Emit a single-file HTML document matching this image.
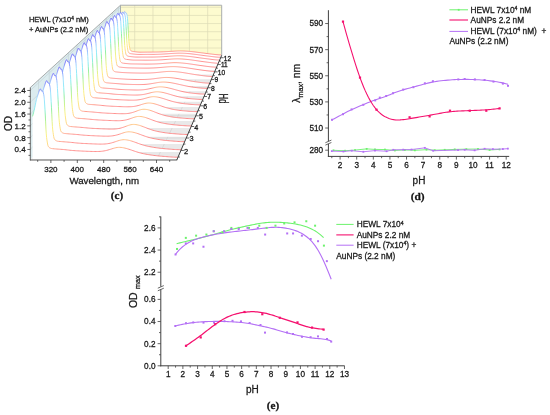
<!DOCTYPE html>
<html lang="en">
<head>
<meta charset="utf-8">
<title>Figure panels c, d, e</title>
<style>
html,body{margin:0;padding:0;background:#ffffff;}
body{width:550px;height:415px;overflow:hidden;}
svg{display:block;}
text{white-space:pre;stroke:#1a1a1a;stroke-width:0.28px;}
</style>
</head>
<body>
<svg width="550" height="415" viewBox="0 0 550 415">
<rect x="0" y="0" width="550" height="415" fill="#ffffff"/>
<g id="panel-c">
<polygon points="30.3 160 30.3 87.52 120.49 5.23 120.49 55.3" fill="#dcecef"/>
<polygon points="120.49 55.3 120.49 5.23 221.7 5.23 221.7 55.3" fill="#fdfbcf"/>
<polygon points="30.3 160 176.8 160 221.7 55.3 120.49 55.3" fill="#e9e9e9"/>
<line x1="134.72" y1="55.3" x2="134.72" y2="5.23" stroke="#dddbb6" stroke-width="0.7" />
<line x1="50.89" y1="160" x2="134.72" y2="55.3" stroke="#d2d2d2" stroke-width="0.7" />
<line x1="152.96" y1="55.3" x2="152.96" y2="5.23" stroke="#dddbb6" stroke-width="0.7" />
<line x1="77.3" y1="160" x2="152.96" y2="55.3" stroke="#d2d2d2" stroke-width="0.7" />
<line x1="171.2" y1="55.3" x2="171.2" y2="5.23" stroke="#dddbb6" stroke-width="0.7" />
<line x1="103.7" y1="160" x2="171.2" y2="55.3" stroke="#d2d2d2" stroke-width="0.7" />
<line x1="189.44" y1="55.3" x2="189.44" y2="5.23" stroke="#dddbb6" stroke-width="0.7" />
<line x1="130.1" y1="160" x2="189.44" y2="55.3" stroke="#d2d2d2" stroke-width="0.7" />
<line x1="207.68" y1="55.3" x2="207.68" y2="5.23" stroke="#dddbb6" stroke-width="0.7" />
<line x1="156.5" y1="160" x2="207.68" y2="55.3" stroke="#d2d2d2" stroke-width="0.7" />
<line x1="120.49" y1="48.03" x2="221.7" y2="48.03" stroke="#dddbb6" stroke-width="0.7" />
<line x1="30.3" y1="149.47" x2="120.49" y2="48.03" stroke="#c3d0d3" stroke-width="0.6" />
<line x1="120.49" y1="39.88" x2="221.7" y2="39.88" stroke="#dddbb6" stroke-width="0.7" />
<line x1="30.3" y1="137.67" x2="120.49" y2="39.88" stroke="#c3d0d3" stroke-width="0.6" />
<line x1="120.49" y1="31.73" x2="221.7" y2="31.73" stroke="#dddbb6" stroke-width="0.7" />
<line x1="30.3" y1="125.87" x2="120.49" y2="31.73" stroke="#c3d0d3" stroke-width="0.6" />
<line x1="120.49" y1="23.57" x2="221.7" y2="23.57" stroke="#dddbb6" stroke-width="0.7" />
<line x1="30.3" y1="114.07" x2="120.49" y2="23.57" stroke="#c3d0d3" stroke-width="0.6" />
<line x1="120.49" y1="15.42" x2="221.7" y2="15.42" stroke="#dddbb6" stroke-width="0.7" />
<line x1="30.3" y1="102.27" x2="120.49" y2="15.42" stroke="#c3d0d3" stroke-width="0.6" />
<line x1="120.49" y1="7.27" x2="221.7" y2="7.27" stroke="#dddbb6" stroke-width="0.7" />
<line x1="30.3" y1="90.47" x2="120.49" y2="7.27" stroke="#c3d0d3" stroke-width="0.6" />
<line x1="38.54" y1="150.44" x2="38.54" y2="80" stroke="#c3d0d3" stroke-width="0.6" />
<line x1="38.54" y1="150.44" x2="180.9" y2="150.44" stroke="#d2d2d2" stroke-width="0.7" />
<line x1="49.24" y1="138.02" x2="49.24" y2="70.24" stroke="#c3d0d3" stroke-width="0.6" />
<line x1="49.24" y1="138.02" x2="186.23" y2="138.02" stroke="#d2d2d2" stroke-width="0.7" />
<line x1="59.16" y1="126.51" x2="59.16" y2="61.19" stroke="#c3d0d3" stroke-width="0.6" />
<line x1="59.16" y1="126.51" x2="191.16" y2="126.51" stroke="#d2d2d2" stroke-width="0.7" />
<line x1="68.38" y1="115.8" x2="68.38" y2="52.78" stroke="#c3d0d3" stroke-width="0.6" />
<line x1="68.38" y1="115.8" x2="195.75" y2="115.8" stroke="#d2d2d2" stroke-width="0.7" />
<line x1="76.98" y1="105.82" x2="76.98" y2="44.93" stroke="#c3d0d3" stroke-width="0.6" />
<line x1="76.98" y1="105.82" x2="200.03" y2="105.82" stroke="#d2d2d2" stroke-width="0.7" />
<line x1="85.01" y1="96.49" x2="85.01" y2="37.6" stroke="#c3d0d3" stroke-width="0.6" />
<line x1="85.01" y1="96.49" x2="204.03" y2="96.49" stroke="#d2d2d2" stroke-width="0.7" />
<line x1="92.54" y1="87.76" x2="92.54" y2="30.74" stroke="#c3d0d3" stroke-width="0.6" />
<line x1="92.54" y1="87.76" x2="207.78" y2="87.76" stroke="#d2d2d2" stroke-width="0.7" />
<line x1="99.6" y1="79.56" x2="99.6" y2="24.3" stroke="#c3d0d3" stroke-width="0.6" />
<line x1="99.6" y1="79.56" x2="211.29" y2="79.56" stroke="#d2d2d2" stroke-width="0.7" />
<line x1="106.24" y1="71.85" x2="106.24" y2="18.24" stroke="#c3d0d3" stroke-width="0.6" />
<line x1="106.24" y1="71.85" x2="214.6" y2="71.85" stroke="#d2d2d2" stroke-width="0.7" />
<line x1="112.49" y1="64.59" x2="112.49" y2="12.54" stroke="#c3d0d3" stroke-width="0.6" />
<line x1="112.49" y1="64.59" x2="217.71" y2="64.59" stroke="#d2d2d2" stroke-width="0.7" />
<line x1="118.39" y1="57.74" x2="118.39" y2="7.15" stroke="#c3d0d3" stroke-width="0.6" />
<line x1="118.39" y1="57.74" x2="220.65" y2="57.74" stroke="#d2d2d2" stroke-width="0.7" />
<polyline points="30.3 87.52 120.49 5.23 221.7 5.23 221.7 55.3" fill="none" stroke="#a9adad" stroke-width="1"/>
<line x1="120.49" y1="5.23" x2="120.49" y2="55.3" stroke="#9fa5a5" stroke-width="0.9" />
<defs>
<linearGradient id="g0" gradientUnits="userSpaceOnUse" x1="0" y1="158.68" x2="0" y2="82.57">
<stop offset="0" stop-color="#ff7878"/>
<stop offset="0.12" stop-color="#ff807d"/>
<stop offset="0.15" stop-color="#ffb476"/>
<stop offset="0.18" stop-color="#ffd270"/>
<stop offset="0.31" stop-color="#fcee70"/>
<stop offset="0.44" stop-color="#c2f178"/>
<stop offset="0.56" stop-color="#7eec90"/>
<stop offset="0.67" stop-color="#76eaf4"/>
<stop offset="0.79" stop-color="#92dcff"/>
<stop offset="0.86" stop-color="#86abff"/>
<stop offset="0.92" stop-color="#6b70ff"/>
<stop offset="1" stop-color="#5d52f3"/>
</linearGradient>
<linearGradient id="g1" gradientUnits="userSpaceOnUse" x1="0" y1="151.15" x2="0" y2="76.74">
<stop offset="0" stop-color="#ff7878"/>
<stop offset="0.12" stop-color="#ff807d"/>
<stop offset="0.15" stop-color="#ffb476"/>
<stop offset="0.18" stop-color="#ffd270"/>
<stop offset="0.31" stop-color="#fcee70"/>
<stop offset="0.44" stop-color="#c2f178"/>
<stop offset="0.56" stop-color="#7eec90"/>
<stop offset="0.67" stop-color="#76eaf4"/>
<stop offset="0.79" stop-color="#92dcff"/>
<stop offset="0.86" stop-color="#86abff"/>
<stop offset="0.92" stop-color="#6b70ff"/>
<stop offset="1" stop-color="#5d52f3"/>
</linearGradient>
<linearGradient id="g2" gradientUnits="userSpaceOnUse" x1="0" y1="143.09" x2="0" y2="70.49">
<stop offset="0" stop-color="#ff7878"/>
<stop offset="0.12" stop-color="#ff807d"/>
<stop offset="0.15" stop-color="#ffb476"/>
<stop offset="0.18" stop-color="#ffd270"/>
<stop offset="0.31" stop-color="#fcee70"/>
<stop offset="0.44" stop-color="#c2f178"/>
<stop offset="0.56" stop-color="#7eec90"/>
<stop offset="0.67" stop-color="#76eaf4"/>
<stop offset="0.79" stop-color="#92dcff"/>
<stop offset="0.86" stop-color="#86abff"/>
<stop offset="0.92" stop-color="#6b70ff"/>
<stop offset="1" stop-color="#5d52f3"/>
</linearGradient>
<linearGradient id="g3" gradientUnits="userSpaceOnUse" x1="0" y1="135.88" x2="0" y2="64.91">
<stop offset="0" stop-color="#ff7878"/>
<stop offset="0.12" stop-color="#ff807d"/>
<stop offset="0.15" stop-color="#ffb476"/>
<stop offset="0.18" stop-color="#ffd270"/>
<stop offset="0.31" stop-color="#fcee70"/>
<stop offset="0.44" stop-color="#c2f178"/>
<stop offset="0.56" stop-color="#7eec90"/>
<stop offset="0.67" stop-color="#76eaf4"/>
<stop offset="0.79" stop-color="#92dcff"/>
<stop offset="0.86" stop-color="#86abff"/>
<stop offset="0.92" stop-color="#6b70ff"/>
<stop offset="1" stop-color="#5d52f3"/>
</linearGradient>
<linearGradient id="g4" gradientUnits="userSpaceOnUse" x1="0" y1="127.31" x2="0" y2="58.28">
<stop offset="0" stop-color="#ff7878"/>
<stop offset="0.12" stop-color="#ff807d"/>
<stop offset="0.15" stop-color="#ffb476"/>
<stop offset="0.18" stop-color="#ffd270"/>
<stop offset="0.31" stop-color="#fcee70"/>
<stop offset="0.44" stop-color="#c2f178"/>
<stop offset="0.56" stop-color="#7eec90"/>
<stop offset="0.67" stop-color="#76eaf4"/>
<stop offset="0.79" stop-color="#92dcff"/>
<stop offset="0.86" stop-color="#86abff"/>
<stop offset="0.92" stop-color="#6b70ff"/>
<stop offset="1" stop-color="#5d52f3"/>
</linearGradient>
<linearGradient id="g5" gradientUnits="userSpaceOnUse" x1="0" y1="120.15" x2="0" y2="52.73">
<stop offset="0" stop-color="#ff7878"/>
<stop offset="0.12" stop-color="#ff807d"/>
<stop offset="0.15" stop-color="#ffb476"/>
<stop offset="0.18" stop-color="#ffd270"/>
<stop offset="0.31" stop-color="#fcee70"/>
<stop offset="0.44" stop-color="#c2f178"/>
<stop offset="0.56" stop-color="#7eec90"/>
<stop offset="0.67" stop-color="#76eaf4"/>
<stop offset="0.79" stop-color="#92dcff"/>
<stop offset="0.86" stop-color="#86abff"/>
<stop offset="0.92" stop-color="#6b70ff"/>
<stop offset="1" stop-color="#5d52f3"/>
</linearGradient>
<linearGradient id="g6" gradientUnits="userSpaceOnUse" x1="0" y1="113.01" x2="0" y2="47.2">
<stop offset="0" stop-color="#ff7878"/>
<stop offset="0.12" stop-color="#ff807d"/>
<stop offset="0.15" stop-color="#ffb476"/>
<stop offset="0.18" stop-color="#ffd270"/>
<stop offset="0.31" stop-color="#fcee70"/>
<stop offset="0.44" stop-color="#c2f178"/>
<stop offset="0.56" stop-color="#7eec90"/>
<stop offset="0.67" stop-color="#76eaf4"/>
<stop offset="0.79" stop-color="#92dcff"/>
<stop offset="0.86" stop-color="#86abff"/>
<stop offset="0.92" stop-color="#6b70ff"/>
<stop offset="1" stop-color="#5d52f3"/>
</linearGradient>
<linearGradient id="g7" gradientUnits="userSpaceOnUse" x1="0" y1="106.21" x2="0" y2="41.93">
<stop offset="0" stop-color="#ff7878"/>
<stop offset="0.12" stop-color="#ff807d"/>
<stop offset="0.15" stop-color="#ffb476"/>
<stop offset="0.18" stop-color="#ffd270"/>
<stop offset="0.31" stop-color="#fcee70"/>
<stop offset="0.44" stop-color="#c2f178"/>
<stop offset="0.56" stop-color="#7eec90"/>
<stop offset="0.67" stop-color="#76eaf4"/>
<stop offset="0.79" stop-color="#92dcff"/>
<stop offset="0.86" stop-color="#86abff"/>
<stop offset="0.92" stop-color="#6b70ff"/>
<stop offset="1" stop-color="#5d52f3"/>
</linearGradient>
<linearGradient id="g8" gradientUnits="userSpaceOnUse" x1="0" y1="101.01" x2="0" y2="37.91">
<stop offset="0" stop-color="#ff7878"/>
<stop offset="0.12" stop-color="#ff807d"/>
<stop offset="0.15" stop-color="#ffb476"/>
<stop offset="0.18" stop-color="#ffd270"/>
<stop offset="0.31" stop-color="#fcee70"/>
<stop offset="0.44" stop-color="#c2f178"/>
<stop offset="0.56" stop-color="#7eec90"/>
<stop offset="0.67" stop-color="#76eaf4"/>
<stop offset="0.79" stop-color="#92dcff"/>
<stop offset="0.86" stop-color="#86abff"/>
<stop offset="0.92" stop-color="#6b70ff"/>
<stop offset="1" stop-color="#5d52f3"/>
</linearGradient>
<linearGradient id="g9" gradientUnits="userSpaceOnUse" x1="0" y1="95.9" x2="0" y2="33.95">
<stop offset="0" stop-color="#ff7878"/>
<stop offset="0.12" stop-color="#ff807d"/>
<stop offset="0.15" stop-color="#ffb476"/>
<stop offset="0.18" stop-color="#ffd270"/>
<stop offset="0.31" stop-color="#fcee70"/>
<stop offset="0.44" stop-color="#c2f178"/>
<stop offset="0.56" stop-color="#7eec90"/>
<stop offset="0.67" stop-color="#76eaf4"/>
<stop offset="0.79" stop-color="#92dcff"/>
<stop offset="0.86" stop-color="#86abff"/>
<stop offset="0.92" stop-color="#6b70ff"/>
<stop offset="1" stop-color="#5d52f3"/>
</linearGradient>
<linearGradient id="g10" gradientUnits="userSpaceOnUse" x1="0" y1="90.46" x2="0" y2="29.74">
<stop offset="0" stop-color="#ff7878"/>
<stop offset="0.12" stop-color="#ff807d"/>
<stop offset="0.15" stop-color="#ffb476"/>
<stop offset="0.18" stop-color="#ffd270"/>
<stop offset="0.31" stop-color="#fcee70"/>
<stop offset="0.44" stop-color="#c2f178"/>
<stop offset="0.56" stop-color="#7eec90"/>
<stop offset="0.67" stop-color="#76eaf4"/>
<stop offset="0.79" stop-color="#92dcff"/>
<stop offset="0.86" stop-color="#86abff"/>
<stop offset="0.92" stop-color="#6b70ff"/>
<stop offset="1" stop-color="#5d52f3"/>
</linearGradient>
<linearGradient id="g11" gradientUnits="userSpaceOnUse" x1="0" y1="85.4" x2="0" y2="25.82">
<stop offset="0" stop-color="#ff7878"/>
<stop offset="0.12" stop-color="#ff807d"/>
<stop offset="0.15" stop-color="#ffb476"/>
<stop offset="0.18" stop-color="#ffd270"/>
<stop offset="0.31" stop-color="#fcee70"/>
<stop offset="0.44" stop-color="#c2f178"/>
<stop offset="0.56" stop-color="#7eec90"/>
<stop offset="0.67" stop-color="#76eaf4"/>
<stop offset="0.79" stop-color="#92dcff"/>
<stop offset="0.86" stop-color="#86abff"/>
<stop offset="0.92" stop-color="#6b70ff"/>
<stop offset="1" stop-color="#5d52f3"/>
</linearGradient>
<linearGradient id="g12" gradientUnits="userSpaceOnUse" x1="0" y1="78.94" x2="0" y2="20.82">
<stop offset="0" stop-color="#ff7878"/>
<stop offset="0.12" stop-color="#ff807d"/>
<stop offset="0.15" stop-color="#ffb476"/>
<stop offset="0.18" stop-color="#ffd270"/>
<stop offset="0.31" stop-color="#fcee70"/>
<stop offset="0.44" stop-color="#c2f178"/>
<stop offset="0.56" stop-color="#7eec90"/>
<stop offset="0.67" stop-color="#76eaf4"/>
<stop offset="0.79" stop-color="#92dcff"/>
<stop offset="0.86" stop-color="#86abff"/>
<stop offset="0.92" stop-color="#6b70ff"/>
<stop offset="1" stop-color="#5d52f3"/>
</linearGradient>
<linearGradient id="g13" gradientUnits="userSpaceOnUse" x1="0" y1="73.92" x2="0" y2="16.93">
<stop offset="0" stop-color="#ff7878"/>
<stop offset="0.12" stop-color="#ff807d"/>
<stop offset="0.15" stop-color="#ffb476"/>
<stop offset="0.18" stop-color="#ffd270"/>
<stop offset="0.31" stop-color="#fcee70"/>
<stop offset="0.44" stop-color="#c2f178"/>
<stop offset="0.56" stop-color="#7eec90"/>
<stop offset="0.67" stop-color="#76eaf4"/>
<stop offset="0.79" stop-color="#92dcff"/>
<stop offset="0.86" stop-color="#86abff"/>
<stop offset="0.92" stop-color="#6b70ff"/>
<stop offset="1" stop-color="#5d52f3"/>
</linearGradient>
<linearGradient id="g14" gradientUnits="userSpaceOnUse" x1="0" y1="69.83" x2="0" y2="13.76">
<stop offset="0" stop-color="#ff7878"/>
<stop offset="0.12" stop-color="#ff807d"/>
<stop offset="0.15" stop-color="#ffb476"/>
<stop offset="0.18" stop-color="#ffd270"/>
<stop offset="0.31" stop-color="#fcee70"/>
<stop offset="0.44" stop-color="#c2f178"/>
<stop offset="0.56" stop-color="#7eec90"/>
<stop offset="0.67" stop-color="#76eaf4"/>
<stop offset="0.79" stop-color="#92dcff"/>
<stop offset="0.86" stop-color="#86abff"/>
<stop offset="0.92" stop-color="#6b70ff"/>
<stop offset="1" stop-color="#5d52f3"/>
</linearGradient>
<linearGradient id="g15" gradientUnits="userSpaceOnUse" x1="0" y1="65.86" x2="0" y2="10.69">
<stop offset="0" stop-color="#ff7878"/>
<stop offset="0.12" stop-color="#ff807d"/>
<stop offset="0.15" stop-color="#ffb476"/>
<stop offset="0.18" stop-color="#ffd270"/>
<stop offset="0.31" stop-color="#fcee70"/>
<stop offset="0.44" stop-color="#c2f178"/>
<stop offset="0.56" stop-color="#7eec90"/>
<stop offset="0.67" stop-color="#76eaf4"/>
<stop offset="0.79" stop-color="#92dcff"/>
<stop offset="0.86" stop-color="#86abff"/>
<stop offset="0.92" stop-color="#6b70ff"/>
<stop offset="1" stop-color="#5d52f3"/>
</linearGradient>
<linearGradient id="g16" gradientUnits="userSpaceOnUse" x1="0" y1="62.71" x2="0" y2="8.25">
<stop offset="0" stop-color="#ff7878"/>
<stop offset="0.12" stop-color="#ff807d"/>
<stop offset="0.15" stop-color="#ffb476"/>
<stop offset="0.18" stop-color="#ffd270"/>
<stop offset="0.31" stop-color="#fcee70"/>
<stop offset="0.44" stop-color="#c2f178"/>
<stop offset="0.56" stop-color="#7eec90"/>
<stop offset="0.67" stop-color="#76eaf4"/>
<stop offset="0.79" stop-color="#92dcff"/>
<stop offset="0.86" stop-color="#86abff"/>
<stop offset="0.92" stop-color="#6b70ff"/>
<stop offset="1" stop-color="#5d52f3"/>
</linearGradient>
<linearGradient id="g17" gradientUnits="userSpaceOnUse" x1="0" y1="59.97" x2="0" y2="6.13">
<stop offset="0" stop-color="#ff7878"/>
<stop offset="0.12" stop-color="#ff807d"/>
<stop offset="0.15" stop-color="#ffb476"/>
<stop offset="0.18" stop-color="#ffd270"/>
<stop offset="0.31" stop-color="#fcee70"/>
<stop offset="0.44" stop-color="#c2f178"/>
<stop offset="0.56" stop-color="#7eec90"/>
<stop offset="0.67" stop-color="#76eaf4"/>
<stop offset="0.79" stop-color="#92dcff"/>
<stop offset="0.86" stop-color="#86abff"/>
<stop offset="0.92" stop-color="#6b70ff"/>
<stop offset="1" stop-color="#5d52f3"/>
</linearGradient>
<linearGradient id="g18" gradientUnits="userSpaceOnUse" x1="0" y1="57.63" x2="0" y2="4.32">
<stop offset="0" stop-color="#ff7878"/>
<stop offset="0.12" stop-color="#ff807d"/>
<stop offset="0.15" stop-color="#ffb476"/>
<stop offset="0.18" stop-color="#ffd270"/>
<stop offset="0.31" stop-color="#fcee70"/>
<stop offset="0.44" stop-color="#c2f178"/>
<stop offset="0.56" stop-color="#7eec90"/>
<stop offset="0.67" stop-color="#76eaf4"/>
<stop offset="0.79" stop-color="#92dcff"/>
<stop offset="0.86" stop-color="#86abff"/>
<stop offset="0.92" stop-color="#6b70ff"/>
<stop offset="1" stop-color="#5d52f3"/>
</linearGradient>
</defs>
<path d="M119.25 29.27 L119.48 28.61 L119.71 27.86 L119.94 27.05 L120.17 26.19 L120.4 25.31 L120.63 24.41 L120.86 23.45 L121.09 22.4 L121.31 21.32 L121.54 20.25 L121.77 19.25 L122 18.37 L122.23 17.6 L122.46 16.88 L122.69 16.22 L122.92 15.58 L123.15 14.96 L123.38 14.34 L123.61 13.69 L123.84 13.05 L124.07 12.5 L124.3 12.08 L124.53 11.7 L124.76 11.5 L124.99 11.72 L125.21 12.31 L125.44 12.79 L125.67 13.1 L125.9 13.25 L126.13 13.17 L126.36 13.12 L126.59 13.54 L126.82 14.35 L127.05 15.24 L127.28 16.46 L127.51 18.48 L127.74 21.77 L127.97 25.25 L128.2 29.1 L128.43 33.65 L128.66 38.45 L128.88 41.61 L129.11 43.95 L129.34 45.67 L129.57 47.05 L129.8 48.35 L130.03 49.33 L130.26 49.85 L130.49 50.24 L130.72 50.52 L130.95 50.7 L131.18 50.85 L131.41 50.98 L131.64 51.08 L131.87 51.17 L132.1 51.26 L132.33 51.34 L132.56 51.41 L132.78 51.45 L133.01 51.48 L133.24 51.51 L133.47 51.54 L133.56 51.55 L134.48 51.67 L135.4 51.79 L136.32 51.9 L137.23 52 L138.15 52.08 L139.07 52.14 L139.99 52.18 L140.9 52.18 L141.82 52.17 L142.74 52.17 L143.66 52.16 L144.58 52.15 L145.49 52.14 L146.41 52.13 L147.33 52.12 L148.25 52.11 L149.16 52.1 L150.08 52.1 L151 52.09 L151.92 52.09 L152.83 52.08 L153.75 52.07 L154.67 52.07 L155.59 52.06 L156.5 52.04 L157.42 52.03 L158.34 52.01 L159.26 51.98 L160.17 51.95 L161.09 51.92 L162.01 51.88 L162.93 51.84 L163.84 51.79 L164.76 51.74 L165.68 51.69 L166.6 51.63 L167.51 51.58 L168.43 51.52 L169.35 51.45 L170.27 51.39 L171.18 51.32 L172.1 51.26 L173.02 51.2 L173.94 51.14 L174.85 51.08 L175.77 51.03 L176.69 50.99 L177.61 50.95 L178.53 50.92 L179.44 50.9 L180.36 50.89 L181.28 50.9 L182.2 50.91 L183.11 50.94 L184.03 50.98 L184.95 51.03 L185.87 51.08 L186.78 51.14 L187.7 51.21 L188.62 51.29 L189.54 51.37 L190.45 51.46 L191.37 51.56 L192.29 51.66 L193.21 51.76 L194.12 51.87 L195.04 51.98 L195.96 52.1 L196.88 52.21 L197.79 52.33 L198.71 52.46 L199.63 52.58 L200.55 52.7 L201.46 52.82 L202.38 52.94 L203.3 53.06 L204.22 53.18 L205.13 53.3 L206.05 53.42 L206.97 53.53 L207.89 53.64 L208.8 53.75 L209.72 53.85 L210.64 53.96 L211.56 54.08 L212.47 54.19 L213.39 54.31 L214.31 54.42 L215.23 54.53 L216.15 54.62 L217.06 54.72 L217.98 54.79 L218.9 54.86 L219.82 54.91 L221.08 54.95 L221.08 58.22 L119.25 58.22 Z" fill="#ffffff" stroke="none"/>
<path d="M119.25 29.27 L119.48 28.61 L119.71 27.86 L119.94 27.05 L120.17 26.19 L120.4 25.31 L120.63 24.41 L120.86 23.45 L121.09 22.4 L121.31 21.32 L121.54 20.25 L121.77 19.25 L122 18.37 L122.23 17.6 L122.46 16.88 L122.69 16.22 L122.92 15.58 L123.15 14.96 L123.38 14.34 L123.61 13.69 L123.84 13.05 L124.07 12.5 L124.3 12.08 L124.53 11.7 L124.76 11.5 L124.99 11.72 L125.21 12.31 L125.44 12.79 L125.67 13.1 L125.9 13.25 L126.13 13.17 L126.36 13.12 L126.59 13.54 L126.82 14.35 L127.05 15.24 L127.28 16.46 L127.51 18.48 L127.74 21.77 L127.97 25.25 L128.2 29.1 L128.43 33.65 L128.66 38.45 L128.88 41.61 L129.11 43.95 L129.34 45.67 L129.57 47.05 L129.8 48.35 L130.03 49.33 L130.26 49.85 L130.49 50.24 L130.72 50.52 L130.95 50.7 L131.18 50.85 L131.41 50.98 L131.64 51.08 L131.87 51.17 L132.1 51.26 L132.33 51.34 L132.56 51.41 L132.78 51.45 L133.01 51.48 L133.24 51.51 L133.47 51.54 L133.56 51.55 L134.48 51.67 L135.4 51.79 L136.32 51.9 L137.23 52 L138.15 52.08 L139.07 52.14 L139.99 52.18 L140.9 52.18 L141.82 52.17 L142.74 52.17 L143.66 52.16 L144.58 52.15 L145.49 52.14 L146.41 52.13 L147.33 52.12 L148.25 52.11 L149.16 52.1 L150.08 52.1 L151 52.09 L151.92 52.09 L152.83 52.08 L153.75 52.07 L154.67 52.07 L155.59 52.06 L156.5 52.04 L157.42 52.03 L158.34 52.01 L159.26 51.98 L160.17 51.95 L161.09 51.92 L162.01 51.88 L162.93 51.84 L163.84 51.79 L164.76 51.74 L165.68 51.69 L166.6 51.63 L167.51 51.58 L168.43 51.52 L169.35 51.45 L170.27 51.39 L171.18 51.32 L172.1 51.26 L173.02 51.2 L173.94 51.14 L174.85 51.08 L175.77 51.03 L176.69 50.99 L177.61 50.95 L178.53 50.92 L179.44 50.9 L180.36 50.89 L181.28 50.9 L182.2 50.91 L183.11 50.94 L184.03 50.98 L184.95 51.03 L185.87 51.08 L186.78 51.14 L187.7 51.21 L188.62 51.29 L189.54 51.37 L190.45 51.46 L191.37 51.56 L192.29 51.66 L193.21 51.76 L194.12 51.87 L195.04 51.98 L195.96 52.1 L196.88 52.21 L197.79 52.33 L198.71 52.46 L199.63 52.58 L200.55 52.7 L201.46 52.82 L202.38 52.94 L203.3 53.06 L204.22 53.18 L205.13 53.3 L206.05 53.42 L206.97 53.53 L207.89 53.64 L208.8 53.75 L209.72 53.85 L210.64 53.96 L211.56 54.08 L212.47 54.19 L213.39 54.31 L214.31 54.42 L215.23 54.53 L216.15 54.62 L217.06 54.72 L217.98 54.79 L218.9 54.86 L219.82 54.91 L221.08 54.95" fill="none" stroke="url(#g18)" stroke-width="0.85" stroke-linejoin="round"/>
<path d="M117.24 30.56 L117.47 29.86 L117.7 29.08 L117.93 28.23 L118.17 27.33 L118.4 26.4 L118.63 25.46 L118.86 24.45 L119.09 23.35 L119.32 22.22 L119.56 21.1 L119.79 20.05 L120.02 19.12 L120.25 18.31 L120.48 17.57 L120.71 16.87 L120.95 16.2 L121.18 15.55 L121.41 14.9 L121.64 14.22 L121.87 13.54 L122.1 12.96 L122.34 12.52 L122.57 12.12 L122.8 11.91 L123.03 12.14 L123.26 12.76 L123.49 13.26 L123.73 13.59 L123.96 13.74 L124.19 13.66 L124.42 13.61 L124.65 14.05 L124.88 14.89 L125.12 15.82 L125.35 17.1 L125.58 19.22 L125.81 22.65 L126.04 26.3 L126.27 30.33 L126.51 35.09 L126.74 40.11 L126.97 43.42 L127.2 45.87 L127.43 47.67 L127.66 49.12 L127.9 50.47 L128.13 51.5 L128.36 52.04 L128.59 52.45 L128.82 52.74 L129.05 52.93 L129.29 53.09 L129.52 53.22 L129.75 53.32 L129.98 53.42 L130.21 53.51 L130.44 53.59 L130.68 53.66 L130.91 53.71 L131.14 53.74 L131.37 53.76 L131.6 53.79 L131.7 53.8 L132.62 53.92 L133.55 54.04 L134.48 54.15 L135.4 54.26 L136.33 54.34 L137.26 54.4 L138.18 54.43 L139.11 54.44 L140.04 54.43 L140.96 54.43 L141.89 54.43 L142.82 54.42 L143.74 54.41 L144.67 54.41 L145.6 54.4 L146.52 54.4 L147.45 54.39 L148.38 54.39 L149.3 54.38 L150.23 54.38 L151.16 54.38 L152.08 54.37 L153.01 54.37 L153.94 54.36 L154.86 54.35 L155.79 54.34 L156.72 54.32 L157.64 54.3 L158.57 54.27 L159.5 54.24 L160.42 54.2 L161.35 54.16 L162.28 54.11 L163.2 54.06 L164.13 54.01 L165.06 53.96 L165.98 53.9 L166.91 53.83 L167.84 53.77 L168.76 53.7 L169.69 53.63 L170.62 53.56 L171.54 53.49 L172.47 53.43 L173.4 53.36 L174.32 53.31 L175.25 53.25 L176.18 53.21 L177.1 53.17 L178.03 53.14 L178.96 53.12 L179.88 53.12 L180.81 53.13 L181.74 53.15 L182.66 53.18 L183.59 53.23 L184.52 53.28 L185.44 53.34 L186.37 53.41 L187.3 53.48 L188.22 53.57 L189.15 53.65 L190.08 53.75 L191 53.85 L191.93 53.96 L192.86 54.07 L193.78 54.18 L194.71 54.3 L195.64 54.42 L196.56 54.55 L197.49 54.67 L198.42 54.8 L199.34 54.93 L200.27 55.05 L201.2 55.18 L202.12 55.31 L203.05 55.43 L203.98 55.56 L204.9 55.68 L205.83 55.79 L206.76 55.91 L207.68 56.02 L208.61 56.13 L209.54 56.25 L210.46 56.37 L211.39 56.49 L212.32 56.61 L213.24 56.72 L214.17 56.83 L215.1 56.94 L216.02 57.03 L216.95 57.11 L217.88 57.18 L218.8 57.23 L220.08 57.28 L220.08 60.57 L117.24 60.57 Z" fill="#ffffff" stroke="none"/>
<path d="M117.24 30.56 L117.47 29.86 L117.7 29.08 L117.93 28.23 L118.17 27.33 L118.4 26.4 L118.63 25.46 L118.86 24.45 L119.09 23.35 L119.32 22.22 L119.56 21.1 L119.79 20.05 L120.02 19.12 L120.25 18.31 L120.48 17.57 L120.71 16.87 L120.95 16.2 L121.18 15.55 L121.41 14.9 L121.64 14.22 L121.87 13.54 L122.1 12.96 L122.34 12.52 L122.57 12.12 L122.8 11.91 L123.03 12.14 L123.26 12.76 L123.49 13.26 L123.73 13.59 L123.96 13.74 L124.19 13.66 L124.42 13.61 L124.65 14.05 L124.88 14.89 L125.12 15.82 L125.35 17.1 L125.58 19.22 L125.81 22.65 L126.04 26.3 L126.27 30.33 L126.51 35.09 L126.74 40.11 L126.97 43.42 L127.2 45.87 L127.43 47.67 L127.66 49.12 L127.9 50.47 L128.13 51.5 L128.36 52.04 L128.59 52.45 L128.82 52.74 L129.05 52.93 L129.29 53.09 L129.52 53.22 L129.75 53.32 L129.98 53.42 L130.21 53.51 L130.44 53.59 L130.68 53.66 L130.91 53.71 L131.14 53.74 L131.37 53.76 L131.6 53.79 L131.7 53.8 L132.62 53.92 L133.55 54.04 L134.48 54.15 L135.4 54.26 L136.33 54.34 L137.26 54.4 L138.18 54.43 L139.11 54.44 L140.04 54.43 L140.96 54.43 L141.89 54.43 L142.82 54.42 L143.74 54.41 L144.67 54.41 L145.6 54.4 L146.52 54.4 L147.45 54.39 L148.38 54.39 L149.3 54.38 L150.23 54.38 L151.16 54.38 L152.08 54.37 L153.01 54.37 L153.94 54.36 L154.86 54.35 L155.79 54.34 L156.72 54.32 L157.64 54.3 L158.57 54.27 L159.5 54.24 L160.42 54.2 L161.35 54.16 L162.28 54.11 L163.2 54.06 L164.13 54.01 L165.06 53.96 L165.98 53.9 L166.91 53.83 L167.84 53.77 L168.76 53.7 L169.69 53.63 L170.62 53.56 L171.54 53.49 L172.47 53.43 L173.4 53.36 L174.32 53.31 L175.25 53.25 L176.18 53.21 L177.1 53.17 L178.03 53.14 L178.96 53.12 L179.88 53.12 L180.81 53.13 L181.74 53.15 L182.66 53.18 L183.59 53.23 L184.52 53.28 L185.44 53.34 L186.37 53.41 L187.3 53.48 L188.22 53.57 L189.15 53.65 L190.08 53.75 L191 53.85 L191.93 53.96 L192.86 54.07 L193.78 54.18 L194.71 54.3 L195.64 54.42 L196.56 54.55 L197.49 54.67 L198.42 54.8 L199.34 54.93 L200.27 55.05 L201.2 55.18 L202.12 55.31 L203.05 55.43 L203.98 55.56 L204.9 55.68 L205.83 55.79 L206.76 55.91 L207.68 56.02 L208.61 56.13 L209.54 56.25 L210.46 56.37 L211.39 56.49 L212.32 56.61 L213.24 56.72 L214.17 56.83 L215.1 56.94 L216.02 57.03 L216.95 57.11 L217.88 57.18 L218.8 57.23 L220.08 57.28" fill="none" stroke="url(#g17)" stroke-width="0.85" stroke-linejoin="round"/>
<path d="M114.89 32 L115.13 31.27 L115.36 30.44 L115.6 29.54 L115.83 28.59 L116.06 27.61 L116.3 26.62 L116.53 25.56 L116.77 24.4 L117 23.2 L117.24 22.01 L117.47 20.9 L117.7 19.93 L117.94 19.07 L118.17 18.28 L118.41 17.55 L118.64 16.84 L118.88 16.15 L119.11 15.47 L119.35 14.74 L119.58 14.03 L119.81 13.42 L120.05 12.95 L120.28 12.53 L120.52 12.3 L120.75 12.54 L120.99 13.19 L121.22 13.72 L121.45 14.07 L121.69 14.22 L121.92 14.14 L122.16 14.08 L122.39 14.54 L122.63 15.43 L122.86 16.41 L123.09 17.75 L123.33 19.99 L123.56 23.61 L123.8 27.46 L124.03 31.71 L124.27 36.73 L124.5 42.02 L124.73 45.52 L124.97 48.1 L125.2 49.99 L125.44 51.52 L125.67 52.94 L125.91 54.02 L126.14 54.6 L126.37 55.02 L126.61 55.33 L126.84 55.53 L127.08 55.69 L127.31 55.82 L127.55 55.93 L127.78 56.03 L128.01 56.13 L128.25 56.21 L128.48 56.28 L128.72 56.33 L128.95 56.36 L129.19 56.39 L129.42 56.42 L129.51 56.43 L130.45 56.55 L131.39 56.67 L132.33 56.78 L133.26 56.88 L134.2 56.96 L135.14 57.02 L136.08 57.06 L137.01 57.07 L137.95 57.07 L138.89 57.07 L139.82 57.07 L140.76 57.07 L141.7 57.07 L142.64 57.07 L143.57 57.07 L144.51 57.07 L145.45 57.07 L146.39 57.07 L147.32 57.07 L148.26 57.07 L149.2 57.07 L150.13 57.06 L151.07 57.06 L152.01 57.06 L152.95 57.05 L153.88 57.04 L154.82 57.02 L155.76 57 L156.7 56.98 L157.63 56.95 L158.57 56.91 L159.51 56.88 L160.44 56.83 L161.38 56.79 L162.32 56.73 L163.26 56.68 L164.19 56.62 L165.13 56.55 L166.07 56.49 L167.01 56.42 L167.94 56.34 L168.88 56.27 L169.82 56.2 L170.76 56.12 L171.69 56.05 L172.63 55.99 L173.57 55.93 L174.5 55.87 L175.44 55.83 L176.38 55.79 L177.32 55.76 L178.25 55.75 L179.19 55.75 L180.13 55.77 L181.07 55.79 L182 55.84 L182.94 55.89 L183.88 55.94 L184.81 56.01 L185.75 56.09 L186.69 56.17 L187.63 56.26 L188.56 56.35 L189.5 56.46 L190.44 56.57 L191.38 56.68 L192.31 56.8 L193.25 56.92 L194.19 57.05 L195.12 57.17 L196.06 57.3 L197 57.44 L197.94 57.57 L198.87 57.7 L199.81 57.83 L200.75 57.97 L201.69 58.1 L202.62 58.22 L203.56 58.35 L204.5 58.47 L205.43 58.59 L206.37 58.71 L207.31 58.83 L208.25 58.95 L209.18 59.07 L210.12 59.19 L211.06 59.32 L212 59.44 L212.93 59.55 L213.87 59.66 L214.81 59.75 L215.74 59.84 L216.68 59.91 L217.62 59.96 L218.91 60.01 L218.91 63.31 L114.89 63.31 Z" fill="#ffffff" stroke="none"/>
<path d="M114.89 32 L115.13 31.27 L115.36 30.44 L115.6 29.54 L115.83 28.59 L116.06 27.61 L116.3 26.62 L116.53 25.56 L116.77 24.4 L117 23.2 L117.24 22.01 L117.47 20.9 L117.7 19.93 L117.94 19.07 L118.17 18.28 L118.41 17.55 L118.64 16.84 L118.88 16.15 L119.11 15.47 L119.35 14.74 L119.58 14.03 L119.81 13.42 L120.05 12.95 L120.28 12.53 L120.52 12.3 L120.75 12.54 L120.99 13.19 L121.22 13.72 L121.45 14.07 L121.69 14.22 L121.92 14.14 L122.16 14.08 L122.39 14.54 L122.63 15.43 L122.86 16.41 L123.09 17.75 L123.33 19.99 L123.56 23.61 L123.8 27.46 L124.03 31.71 L124.27 36.73 L124.5 42.02 L124.73 45.52 L124.97 48.1 L125.2 49.99 L125.44 51.52 L125.67 52.94 L125.91 54.02 L126.14 54.6 L126.37 55.02 L126.61 55.33 L126.84 55.53 L127.08 55.69 L127.31 55.82 L127.55 55.93 L127.78 56.03 L128.01 56.13 L128.25 56.21 L128.48 56.28 L128.72 56.33 L128.95 56.36 L129.19 56.39 L129.42 56.42 L129.51 56.43 L130.45 56.55 L131.39 56.67 L132.33 56.78 L133.26 56.88 L134.2 56.96 L135.14 57.02 L136.08 57.06 L137.01 57.07 L137.95 57.07 L138.89 57.07 L139.82 57.07 L140.76 57.07 L141.7 57.07 L142.64 57.07 L143.57 57.07 L144.51 57.07 L145.45 57.07 L146.39 57.07 L147.32 57.07 L148.26 57.07 L149.2 57.07 L150.13 57.06 L151.07 57.06 L152.01 57.06 L152.95 57.05 L153.88 57.04 L154.82 57.02 L155.76 57 L156.7 56.98 L157.63 56.95 L158.57 56.91 L159.51 56.88 L160.44 56.83 L161.38 56.79 L162.32 56.73 L163.26 56.68 L164.19 56.62 L165.13 56.55 L166.07 56.49 L167.01 56.42 L167.94 56.34 L168.88 56.27 L169.82 56.2 L170.76 56.12 L171.69 56.05 L172.63 55.99 L173.57 55.93 L174.5 55.87 L175.44 55.83 L176.38 55.79 L177.32 55.76 L178.25 55.75 L179.19 55.75 L180.13 55.77 L181.07 55.79 L182 55.84 L182.94 55.89 L183.88 55.94 L184.81 56.01 L185.75 56.09 L186.69 56.17 L187.63 56.26 L188.56 56.35 L189.5 56.46 L190.44 56.57 L191.38 56.68 L192.31 56.8 L193.25 56.92 L194.19 57.05 L195.12 57.17 L196.06 57.3 L197 57.44 L197.94 57.57 L198.87 57.7 L199.81 57.83 L200.75 57.97 L201.69 58.1 L202.62 58.22 L203.56 58.35 L204.5 58.47 L205.43 58.59 L206.37 58.71 L207.31 58.83 L208.25 58.95 L209.18 59.07 L210.12 59.19 L211.06 59.32 L212 59.44 L212.93 59.55 L213.87 59.66 L214.81 59.75 L215.74 59.84 L216.68 59.91 L217.62 59.96 L218.91 60.01" fill="none" stroke="url(#g16)" stroke-width="0.85" stroke-linejoin="round"/>
<path d="M112.19 33.95 L112.42 33.17 L112.66 32.3 L112.9 31.36 L113.14 30.37 L113.37 29.34 L113.61 28.29 L113.85 27.18 L114.09 25.96 L114.32 24.7 L114.56 23.46 L114.8 22.3 L115.04 21.27 L115.27 20.38 L115.51 19.55 L115.75 18.77 L115.99 18.03 L116.22 17.31 L116.46 16.59 L116.7 15.83 L116.93 15.08 L117.17 14.44 L117.41 13.95 L117.65 13.5 L117.88 13.27 L118.12 13.52 L118.36 14.2 L118.6 14.75 L118.83 15.11 L119.07 15.27 L119.31 15.18 L119.55 15.12 L119.78 15.6 L120.02 16.53 L120.26 17.55 L120.5 18.96 L120.73 21.3 L120.97 25.1 L121.21 29.13 L121.45 33.58 L121.68 38.84 L121.92 44.39 L122.16 48.04 L122.39 50.75 L122.63 52.73 L122.87 54.33 L123.11 55.82 L123.34 56.95 L123.58 57.55 L123.82 58 L124.06 58.32 L124.29 58.52 L124.53 58.69 L124.77 58.83 L125.01 58.94 L125.24 59.04 L125.48 59.14 L125.72 59.23 L125.96 59.3 L126.19 59.35 L126.43 59.38 L126.67 59.41 L126.91 59.44 L127 59.45 L127.95 59.57 L128.9 59.68 L129.85 59.79 L130.8 59.89 L131.75 59.97 L132.7 60.04 L133.65 60.08 L134.6 60.1 L135.55 60.11 L136.5 60.12 L137.44 60.12 L138.39 60.13 L139.34 60.13 L140.29 60.14 L141.24 60.14 L142.19 60.15 L143.14 60.15 L144.09 60.16 L145.04 60.16 L145.99 60.17 L146.94 60.17 L147.89 60.17 L148.84 60.17 L149.79 60.17 L150.74 60.16 L151.69 60.16 L152.64 60.14 L153.59 60.13 L154.54 60.11 L155.49 60.08 L156.44 60.05 L157.38 60.01 L158.33 59.98 L159.28 59.93 L160.23 59.88 L161.18 59.83 L162.13 59.77 L163.08 59.7 L164.03 59.63 L164.98 59.56 L165.93 59.49 L166.88 59.41 L167.83 59.33 L168.78 59.25 L169.73 59.17 L170.68 59.1 L171.63 59.03 L172.58 58.97 L173.53 58.92 L174.48 58.87 L175.43 58.84 L176.38 58.82 L177.32 58.81 L178.27 58.82 L179.22 58.84 L180.17 58.88 L181.12 58.93 L182.07 58.98 L183.02 59.05 L183.97 59.12 L184.92 59.21 L185.87 59.3 L186.82 59.4 L187.77 59.5 L188.72 59.61 L189.67 59.73 L190.62 59.85 L191.57 59.98 L192.52 60.11 L193.47 60.24 L194.42 60.38 L195.37 60.51 L196.32 60.65 L197.27 60.79 L198.21 60.93 L199.16 61.07 L200.11 61.2 L201.06 61.34 L202.01 61.47 L202.96 61.6 L203.91 61.72 L204.86 61.85 L205.81 61.97 L206.76 62.09 L207.71 62.22 L208.66 62.35 L209.61 62.47 L210.56 62.59 L211.51 62.71 L212.46 62.82 L213.41 62.92 L214.36 63 L215.31 63.08 L216.26 63.13 L217.56 63.18 L217.56 66.47 L112.19 66.47 Z" fill="#ffffff" stroke="none"/>
<path d="M112.19 33.95 L112.42 33.17 L112.66 32.3 L112.9 31.36 L113.14 30.37 L113.37 29.34 L113.61 28.29 L113.85 27.18 L114.09 25.96 L114.32 24.7 L114.56 23.46 L114.8 22.3 L115.04 21.27 L115.27 20.38 L115.51 19.55 L115.75 18.77 L115.99 18.03 L116.22 17.31 L116.46 16.59 L116.7 15.83 L116.93 15.08 L117.17 14.44 L117.41 13.95 L117.65 13.5 L117.88 13.27 L118.12 13.52 L118.36 14.2 L118.6 14.75 L118.83 15.11 L119.07 15.27 L119.31 15.18 L119.55 15.12 L119.78 15.6 L120.02 16.53 L120.26 17.55 L120.5 18.96 L120.73 21.3 L120.97 25.1 L121.21 29.13 L121.45 33.58 L121.68 38.84 L121.92 44.39 L122.16 48.04 L122.39 50.75 L122.63 52.73 L122.87 54.33 L123.11 55.82 L123.34 56.95 L123.58 57.55 L123.82 58 L124.06 58.32 L124.29 58.52 L124.53 58.69 L124.77 58.83 L125.01 58.94 L125.24 59.04 L125.48 59.14 L125.72 59.23 L125.96 59.3 L126.19 59.35 L126.43 59.38 L126.67 59.41 L126.91 59.44 L127 59.45 L127.95 59.57 L128.9 59.68 L129.85 59.79 L130.8 59.89 L131.75 59.97 L132.7 60.04 L133.65 60.08 L134.6 60.1 L135.55 60.11 L136.5 60.12 L137.44 60.12 L138.39 60.13 L139.34 60.13 L140.29 60.14 L141.24 60.14 L142.19 60.15 L143.14 60.15 L144.09 60.16 L145.04 60.16 L145.99 60.17 L146.94 60.17 L147.89 60.17 L148.84 60.17 L149.79 60.17 L150.74 60.16 L151.69 60.16 L152.64 60.14 L153.59 60.13 L154.54 60.11 L155.49 60.08 L156.44 60.05 L157.38 60.01 L158.33 59.98 L159.28 59.93 L160.23 59.88 L161.18 59.83 L162.13 59.77 L163.08 59.7 L164.03 59.63 L164.98 59.56 L165.93 59.49 L166.88 59.41 L167.83 59.33 L168.78 59.25 L169.73 59.17 L170.68 59.1 L171.63 59.03 L172.58 58.97 L173.53 58.92 L174.48 58.87 L175.43 58.84 L176.38 58.82 L177.32 58.81 L178.27 58.82 L179.22 58.84 L180.17 58.88 L181.12 58.93 L182.07 58.98 L183.02 59.05 L183.97 59.12 L184.92 59.21 L185.87 59.3 L186.82 59.4 L187.77 59.5 L188.72 59.61 L189.67 59.73 L190.62 59.85 L191.57 59.98 L192.52 60.11 L193.47 60.24 L194.42 60.38 L195.37 60.51 L196.32 60.65 L197.27 60.79 L198.21 60.93 L199.16 61.07 L200.11 61.2 L201.06 61.34 L202.01 61.47 L202.96 61.6 L203.91 61.72 L204.86 61.85 L205.81 61.97 L206.76 62.09 L207.71 62.22 L208.66 62.35 L209.61 62.47 L210.56 62.59 L211.51 62.71 L212.46 62.82 L213.41 62.92 L214.36 63 L215.31 63.08 L216.26 63.13 L217.56 63.18" fill="none" stroke="url(#g15)" stroke-width="0.85" stroke-linejoin="round"/>
<path d="M108.78 36.89 L109.02 36.09 L109.27 35.19 L109.51 34.21 L109.75 33.18 L109.99 32.11 L110.23 31.02 L110.47 29.87 L110.71 28.6 L110.95 27.3 L111.2 26.01 L111.44 24.8 L111.68 23.74 L111.92 22.81 L112.16 21.95 L112.4 21.14 L112.64 20.38 L112.88 19.62 L113.13 18.87 L113.37 18.08 L113.61 17.31 L113.85 16.64 L114.09 16.13 L114.33 15.67 L114.57 15.42 L114.81 15.68 L115.06 16.38 L115.3 16.95 L115.54 17.32 L115.78 17.49 L116.02 17.39 L116.26 17.33 L116.5 17.83 L116.74 18.79 L116.98 19.85 L117.23 21.31 L117.47 23.73 L117.71 27.67 L117.95 31.84 L118.19 36.46 L118.43 41.9 L118.67 47.66 L118.91 51.45 L119.16 54.25 L119.4 56.3 L119.64 57.96 L119.88 59.5 L120.12 60.67 L120.36 61.29 L120.6 61.75 L120.84 62.08 L121.09 62.3 L121.33 62.47 L121.57 62.61 L121.81 62.73 L122.05 62.83 L122.29 62.93 L122.53 63.02 L122.77 63.09 L123.02 63.15 L123.26 63.18 L123.5 63.21 L123.74 63.23 L123.84 63.25 L124.8 63.36 L125.77 63.47 L126.73 63.58 L127.7 63.67 L128.66 63.76 L129.63 63.83 L130.59 63.88 L131.56 63.91 L132.52 63.93 L133.49 63.95 L134.45 63.96 L135.42 63.97 L136.38 63.98 L137.35 63.99 L138.31 64.01 L139.27 64.02 L140.24 64.03 L141.2 64.04 L142.17 64.05 L143.13 64.06 L144.1 64.07 L145.06 64.08 L146.03 64.08 L146.99 64.08 L147.96 64.08 L148.92 64.07 L149.89 64.07 L150.85 64.05 L151.82 64.04 L152.78 64.01 L153.75 63.99 L154.71 63.96 L155.68 63.92 L156.64 63.88 L157.61 63.83 L158.57 63.78 L159.54 63.72 L160.5 63.65 L161.47 63.58 L162.43 63.5 L163.4 63.42 L164.36 63.34 L165.33 63.26 L166.29 63.17 L167.26 63.09 L168.22 63.01 L169.19 62.93 L170.15 62.86 L171.12 62.8 L172.08 62.74 L173.05 62.7 L174.01 62.68 L174.98 62.66 L175.94 62.67 L176.91 62.68 L177.87 62.72 L178.84 62.77 L179.8 62.83 L180.77 62.89 L181.73 62.97 L182.7 63.06 L183.66 63.15 L184.63 63.25 L185.59 63.36 L186.56 63.48 L187.52 63.6 L188.49 63.73 L189.45 63.86 L190.42 64 L191.38 64.14 L192.35 64.28 L193.31 64.43 L194.28 64.57 L195.24 64.72 L196.21 64.87 L197.17 65.01 L198.14 65.16 L199.1 65.3 L200.07 65.44 L201.03 65.57 L202 65.7 L202.96 65.83 L203.93 65.96 L204.89 66.09 L205.86 66.22 L206.82 66.35 L207.79 66.48 L208.75 66.6 L209.72 66.72 L210.68 66.83 L211.64 66.93 L212.61 67.02 L213.57 67.09 L214.54 67.15 L215.87 67.19 L215.87 70.45 L108.78 70.45 Z" fill="#ffffff" stroke="none"/>
<path d="M108.78 36.89 L109.02 36.09 L109.27 35.19 L109.51 34.21 L109.75 33.18 L109.99 32.11 L110.23 31.02 L110.47 29.87 L110.71 28.6 L110.95 27.3 L111.2 26.01 L111.44 24.8 L111.68 23.74 L111.92 22.81 L112.16 21.95 L112.4 21.14 L112.64 20.38 L112.88 19.62 L113.13 18.87 L113.37 18.08 L113.61 17.31 L113.85 16.64 L114.09 16.13 L114.33 15.67 L114.57 15.42 L114.81 15.68 L115.06 16.38 L115.3 16.95 L115.54 17.32 L115.78 17.49 L116.02 17.39 L116.26 17.33 L116.5 17.83 L116.74 18.79 L116.98 19.85 L117.23 21.31 L117.47 23.73 L117.71 27.67 L117.95 31.84 L118.19 36.46 L118.43 41.9 L118.67 47.66 L118.91 51.45 L119.16 54.25 L119.4 56.3 L119.64 57.96 L119.88 59.5 L120.12 60.67 L120.36 61.29 L120.6 61.75 L120.84 62.08 L121.09 62.3 L121.33 62.47 L121.57 62.61 L121.81 62.73 L122.05 62.83 L122.29 62.93 L122.53 63.02 L122.77 63.09 L123.02 63.15 L123.26 63.18 L123.5 63.21 L123.74 63.23 L123.84 63.25 L124.8 63.36 L125.77 63.47 L126.73 63.58 L127.7 63.67 L128.66 63.76 L129.63 63.83 L130.59 63.88 L131.56 63.91 L132.52 63.93 L133.49 63.95 L134.45 63.96 L135.42 63.97 L136.38 63.98 L137.35 63.99 L138.31 64.01 L139.27 64.02 L140.24 64.03 L141.2 64.04 L142.17 64.05 L143.13 64.06 L144.1 64.07 L145.06 64.08 L146.03 64.08 L146.99 64.08 L147.96 64.08 L148.92 64.07 L149.89 64.07 L150.85 64.05 L151.82 64.04 L152.78 64.01 L153.75 63.99 L154.71 63.96 L155.68 63.92 L156.64 63.88 L157.61 63.83 L158.57 63.78 L159.54 63.72 L160.5 63.65 L161.47 63.58 L162.43 63.5 L163.4 63.42 L164.36 63.34 L165.33 63.26 L166.29 63.17 L167.26 63.09 L168.22 63.01 L169.19 62.93 L170.15 62.86 L171.12 62.8 L172.08 62.74 L173.05 62.7 L174.01 62.68 L174.98 62.66 L175.94 62.67 L176.91 62.68 L177.87 62.72 L178.84 62.77 L179.8 62.83 L180.77 62.89 L181.73 62.97 L182.7 63.06 L183.66 63.15 L184.63 63.25 L185.59 63.36 L186.56 63.48 L187.52 63.6 L188.49 63.73 L189.45 63.86 L190.42 64 L191.38 64.14 L192.35 64.28 L193.31 64.43 L194.28 64.57 L195.24 64.72 L196.21 64.87 L197.17 65.01 L198.14 65.16 L199.1 65.3 L200.07 65.44 L201.03 65.57 L202 65.7 L202.96 65.83 L203.93 65.96 L204.89 66.09 L205.86 66.22 L206.82 66.35 L207.79 66.48 L208.75 66.6 L209.72 66.72 L210.68 66.83 L211.64 66.93 L212.61 67.02 L213.57 67.09 L214.54 67.15 L215.87 67.19" fill="none" stroke="url(#g14)" stroke-width="0.85" stroke-linejoin="round"/>
<path d="M105.27 40.13 L105.51 39.3 L105.76 38.38 L106 37.37 L106.25 36.3 L106.49 35.2 L106.74 34.09 L106.98 32.9 L107.23 31.59 L107.47 30.25 L107.72 28.92 L107.96 27.68 L108.21 26.58 L108.45 25.62 L108.7 24.74 L108.94 23.91 L109.19 23.11 L109.43 22.34 L109.68 21.57 L109.93 20.75 L110.17 19.95 L110.42 19.26 L110.66 18.74 L110.91 18.26 L111.15 18 L111.4 18.27 L111.64 18.99 L111.89 19.57 L112.13 19.95 L112.38 20.13 L112.62 20.02 L112.87 19.95 L113.11 20.47 L113.36 21.45 L113.6 22.54 L113.85 24.04 L114.09 26.53 L114.34 30.58 L114.58 34.87 L114.83 39.62 L115.07 45.22 L115.32 51.14 L115.57 55.04 L115.81 57.92 L116.06 60.03 L116.3 61.73 L116.55 63.32 L116.79 64.52 L117.04 65.16 L117.28 65.63 L117.53 65.97 L117.77 66.19 L118.02 66.37 L118.26 66.51 L118.51 66.63 L118.75 66.74 L119 66.84 L119.24 66.93 L119.49 67.01 L119.73 67.06 L119.98 67.09 L120.22 67.12 L120.47 67.15 L120.57 67.16 L121.55 67.27 L122.53 67.38 L123.51 67.48 L124.49 67.58 L125.47 67.66 L126.45 67.73 L127.43 67.79 L128.41 67.83 L129.4 67.86 L130.38 67.89 L131.36 67.92 L132.34 67.94 L133.32 67.96 L134.3 67.98 L135.28 68 L136.26 68.02 L137.24 68.04 L138.22 68.05 L139.2 68.07 L140.18 68.08 L141.17 68.1 L142.15 68.1 L143.13 68.11 L144.11 68.12 L145.09 68.12 L146.07 68.11 L147.05 68.11 L148.03 68.1 L149.01 68.08 L149.99 68.07 L150.97 68.04 L151.95 68.01 L152.94 67.98 L153.92 67.94 L154.9 67.89 L155.88 67.83 L156.86 67.77 L157.84 67.7 L158.82 67.62 L159.8 67.54 L160.78 67.46 L161.76 67.37 L162.74 67.27 L163.72 67.18 L164.71 67.09 L165.69 67 L166.67 66.91 L167.65 66.84 L168.63 66.77 L169.61 66.71 L170.59 66.66 L171.57 66.63 L172.55 66.61 L173.53 66.61 L174.51 66.63 L175.5 66.67 L176.48 66.72 L177.46 66.78 L178.44 66.86 L179.42 66.94 L180.4 67.03 L181.38 67.13 L182.36 67.24 L183.34 67.36 L184.32 67.49 L185.3 67.62 L186.28 67.75 L187.27 67.9 L188.25 68.04 L189.23 68.19 L190.21 68.35 L191.19 68.5 L192.17 68.66 L193.15 68.81 L194.13 68.97 L195.11 69.12 L196.09 69.27 L197.07 69.42 L198.05 69.57 L199.04 69.71 L200.02 69.85 L201 69.98 L201.98 70.11 L202.96 70.24 L203.94 70.38 L204.92 70.51 L205.9 70.64 L206.88 70.77 L207.86 70.89 L208.84 71 L209.82 71.1 L210.81 71.19 L211.79 71.26 L212.77 71.32 L214.12 71.36 L214.12 74.56 L105.27 74.56 Z" fill="#ffffff" stroke="none"/>
<path d="M105.27 40.13 L105.51 39.3 L105.76 38.38 L106 37.37 L106.25 36.3 L106.49 35.2 L106.74 34.09 L106.98 32.9 L107.23 31.59 L107.47 30.25 L107.72 28.92 L107.96 27.68 L108.21 26.58 L108.45 25.62 L108.7 24.74 L108.94 23.91 L109.19 23.11 L109.43 22.34 L109.68 21.57 L109.93 20.75 L110.17 19.95 L110.42 19.26 L110.66 18.74 L110.91 18.26 L111.15 18 L111.4 18.27 L111.64 18.99 L111.89 19.57 L112.13 19.95 L112.38 20.13 L112.62 20.02 L112.87 19.95 L113.11 20.47 L113.36 21.45 L113.6 22.54 L113.85 24.04 L114.09 26.53 L114.34 30.58 L114.58 34.87 L114.83 39.62 L115.07 45.22 L115.32 51.14 L115.57 55.04 L115.81 57.92 L116.06 60.03 L116.3 61.73 L116.55 63.32 L116.79 64.52 L117.04 65.16 L117.28 65.63 L117.53 65.97 L117.77 66.19 L118.02 66.37 L118.26 66.51 L118.51 66.63 L118.75 66.74 L119 66.84 L119.24 66.93 L119.49 67.01 L119.73 67.06 L119.98 67.09 L120.22 67.12 L120.47 67.15 L120.57 67.16 L121.55 67.27 L122.53 67.38 L123.51 67.48 L124.49 67.58 L125.47 67.66 L126.45 67.73 L127.43 67.79 L128.41 67.83 L129.4 67.86 L130.38 67.89 L131.36 67.92 L132.34 67.94 L133.32 67.96 L134.3 67.98 L135.28 68 L136.26 68.02 L137.24 68.04 L138.22 68.05 L139.2 68.07 L140.18 68.08 L141.17 68.1 L142.15 68.1 L143.13 68.11 L144.11 68.12 L145.09 68.12 L146.07 68.11 L147.05 68.11 L148.03 68.1 L149.01 68.08 L149.99 68.07 L150.97 68.04 L151.95 68.01 L152.94 67.98 L153.92 67.94 L154.9 67.89 L155.88 67.83 L156.86 67.77 L157.84 67.7 L158.82 67.62 L159.8 67.54 L160.78 67.46 L161.76 67.37 L162.74 67.27 L163.72 67.18 L164.71 67.09 L165.69 67 L166.67 66.91 L167.65 66.84 L168.63 66.77 L169.61 66.71 L170.59 66.66 L171.57 66.63 L172.55 66.61 L173.53 66.61 L174.51 66.63 L175.5 66.67 L176.48 66.72 L177.46 66.78 L178.44 66.86 L179.42 66.94 L180.4 67.03 L181.38 67.13 L182.36 67.24 L183.34 67.36 L184.32 67.49 L185.3 67.62 L186.28 67.75 L187.27 67.9 L188.25 68.04 L189.23 68.19 L190.21 68.35 L191.19 68.5 L192.17 68.66 L193.15 68.81 L194.13 68.97 L195.11 69.12 L196.09 69.27 L197.07 69.42 L198.05 69.57 L199.04 69.71 L200.02 69.85 L201 69.98 L201.98 70.11 L202.96 70.24 L203.94 70.38 L204.92 70.51 L205.9 70.64 L206.88 70.77 L207.86 70.89 L208.84 71 L209.82 71.1 L210.81 71.19 L211.79 71.26 L212.77 71.32 L214.12 71.36" fill="none" stroke="url(#g13)" stroke-width="0.85" stroke-linejoin="round"/>
<path d="M100.96 44.3 L101.21 43.45 L101.46 42.49 L101.71 41.45 L101.96 40.36 L102.21 39.23 L102.46 38.08 L102.71 36.86 L102.96 35.52 L103.21 34.14 L103.46 32.77 L103.71 31.49 L103.96 30.36 L104.21 29.38 L104.46 28.46 L104.71 27.61 L104.96 26.8 L105.21 26 L105.46 25.2 L105.71 24.36 L105.96 23.54 L106.21 22.83 L106.46 22.29 L106.71 21.79 L106.96 21.53 L107.21 21.8 L107.46 22.54 L107.71 23.13 L107.96 23.52 L108.21 23.7 L108.46 23.59 L108.71 23.52 L108.96 24.04 L109.21 25.05 L109.46 26.16 L109.71 27.7 L109.96 30.26 L110.21 34.41 L110.46 38.82 L110.71 43.69 L110.96 49.44 L111.21 55.52 L111.46 59.52 L111.71 62.47 L111.96 64.64 L112.21 66.39 L112.46 68.02 L112.71 69.25 L112.96 69.9 L113.21 70.39 L113.46 70.74 L113.71 70.96 L113.96 71.14 L114.21 71.29 L114.46 71.41 L114.71 71.52 L114.96 71.63 L115.21 71.72 L115.46 71.8 L115.71 71.85 L115.96 71.88 L116.21 71.91 L116.46 71.94 L116.56 71.95 L117.56 72.06 L118.56 72.16 L119.56 72.26 L120.56 72.35 L121.56 72.44 L122.57 72.51 L123.57 72.58 L124.57 72.63 L125.57 72.68 L126.57 72.73 L127.57 72.77 L128.57 72.8 L129.57 72.84 L130.57 72.87 L131.57 72.9 L132.57 72.93 L133.57 72.96 L134.57 72.98 L135.57 73.01 L136.57 73.03 L137.57 73.04 L138.57 73.06 L139.57 73.07 L140.57 73.08 L141.57 73.09 L142.57 73.09 L143.57 73.09 L144.57 73.08 L145.57 73.07 L146.57 73.06 L147.57 73.04 L148.57 73.01 L149.57 72.98 L150.57 72.94 L151.58 72.89 L152.58 72.83 L153.58 72.77 L154.58 72.69 L155.58 72.61 L156.58 72.52 L157.58 72.42 L158.58 72.32 L159.58 72.21 L160.58 72.1 L161.58 71.99 L162.58 71.89 L163.58 71.78 L164.58 71.69 L165.58 71.61 L166.58 71.53 L167.58 71.48 L168.58 71.43 L169.58 71.41 L170.58 71.41 L171.58 71.43 L172.58 71.47 L173.58 71.52 L174.58 71.59 L175.58 71.67 L176.58 71.76 L177.58 71.86 L178.58 71.97 L179.59 72.1 L180.59 72.23 L181.59 72.37 L182.59 72.52 L183.59 72.67 L184.59 72.83 L185.59 72.99 L186.59 73.16 L187.59 73.33 L188.59 73.5 L189.59 73.67 L190.59 73.84 L191.59 74.01 L192.59 74.18 L193.59 74.34 L194.59 74.5 L195.59 74.66 L196.59 74.81 L197.59 74.96 L198.59 75.1 L199.59 75.23 L200.59 75.37 L201.59 75.5 L202.59 75.64 L203.59 75.77 L204.59 75.9 L205.59 76.02 L206.59 76.13 L207.59 76.23 L208.6 76.32 L209.6 76.39 L210.6 76.44 L211.97 76.49 L211.97 79.59 L100.96 79.59 Z" fill="#ffffff" stroke="none"/>
<path d="M100.96 44.3 L101.21 43.45 L101.46 42.49 L101.71 41.45 L101.96 40.36 L102.21 39.23 L102.46 38.08 L102.71 36.86 L102.96 35.52 L103.21 34.14 L103.46 32.77 L103.71 31.49 L103.96 30.36 L104.21 29.38 L104.46 28.46 L104.71 27.61 L104.96 26.8 L105.21 26 L105.46 25.2 L105.71 24.36 L105.96 23.54 L106.21 22.83 L106.46 22.29 L106.71 21.79 L106.96 21.53 L107.21 21.8 L107.46 22.54 L107.71 23.13 L107.96 23.52 L108.21 23.7 L108.46 23.59 L108.71 23.52 L108.96 24.04 L109.21 25.05 L109.46 26.16 L109.71 27.7 L109.96 30.26 L110.21 34.41 L110.46 38.82 L110.71 43.69 L110.96 49.44 L111.21 55.52 L111.46 59.52 L111.71 62.47 L111.96 64.64 L112.21 66.39 L112.46 68.02 L112.71 69.25 L112.96 69.9 L113.21 70.39 L113.46 70.74 L113.71 70.96 L113.96 71.14 L114.21 71.29 L114.46 71.41 L114.71 71.52 L114.96 71.63 L115.21 71.72 L115.46 71.8 L115.71 71.85 L115.96 71.88 L116.21 71.91 L116.46 71.94 L116.56 71.95 L117.56 72.06 L118.56 72.16 L119.56 72.26 L120.56 72.35 L121.56 72.44 L122.57 72.51 L123.57 72.58 L124.57 72.63 L125.57 72.68 L126.57 72.73 L127.57 72.77 L128.57 72.8 L129.57 72.84 L130.57 72.87 L131.57 72.9 L132.57 72.93 L133.57 72.96 L134.57 72.98 L135.57 73.01 L136.57 73.03 L137.57 73.04 L138.57 73.06 L139.57 73.07 L140.57 73.08 L141.57 73.09 L142.57 73.09 L143.57 73.09 L144.57 73.08 L145.57 73.07 L146.57 73.06 L147.57 73.04 L148.57 73.01 L149.57 72.98 L150.57 72.94 L151.58 72.89 L152.58 72.83 L153.58 72.77 L154.58 72.69 L155.58 72.61 L156.58 72.52 L157.58 72.42 L158.58 72.32 L159.58 72.21 L160.58 72.1 L161.58 71.99 L162.58 71.89 L163.58 71.78 L164.58 71.69 L165.58 71.61 L166.58 71.53 L167.58 71.48 L168.58 71.43 L169.58 71.41 L170.58 71.41 L171.58 71.43 L172.58 71.47 L173.58 71.52 L174.58 71.59 L175.58 71.67 L176.58 71.76 L177.58 71.86 L178.58 71.97 L179.59 72.1 L180.59 72.23 L181.59 72.37 L182.59 72.52 L183.59 72.67 L184.59 72.83 L185.59 72.99 L186.59 73.16 L187.59 73.33 L188.59 73.5 L189.59 73.67 L190.59 73.84 L191.59 74.01 L192.59 74.18 L193.59 74.34 L194.59 74.5 L195.59 74.66 L196.59 74.81 L197.59 74.96 L198.59 75.1 L199.59 75.23 L200.59 75.37 L201.59 75.5 L202.59 75.64 L203.59 75.77 L204.59 75.9 L205.59 76.02 L206.59 76.13 L207.59 76.23 L208.6 76.32 L209.6 76.39 L210.6 76.44 L211.97 76.49" fill="none" stroke="url(#g12)" stroke-width="0.85" stroke-linejoin="round"/>
<path d="M95.41 49.89 L95.67 49.02 L95.93 48.03 L96.18 46.97 L96.44 45.85 L96.7 44.69 L96.95 43.51 L97.21 42.25 L97.46 40.88 L97.72 39.46 L97.98 38.06 L98.23 36.74 L98.49 35.58 L98.75 34.57 L99 33.63 L99.26 32.75 L99.52 31.91 L99.77 31.09 L100.03 30.27 L100.28 29.41 L100.54 28.56 L100.8 27.83 L101.05 27.27 L101.31 26.76 L101.57 26.49 L101.82 26.76 L102.08 27.51 L102.34 28.12 L102.59 28.52 L102.85 28.69 L103.1 28.58 L103.36 28.5 L103.62 29.03 L103.87 30.06 L104.13 31.2 L104.39 32.78 L104.64 35.39 L104.9 39.64 L105.16 44.16 L105.41 49.15 L105.67 55.04 L105.92 61.26 L106.18 65.36 L106.44 68.38 L106.69 70.6 L106.95 72.39 L107.21 74.06 L107.46 75.32 L107.72 75.99 L107.98 76.49 L108.23 76.84 L108.49 77.07 L108.74 77.25 L109 77.41 L109.26 77.53 L109.51 77.64 L109.77 77.75 L110.03 77.84 L110.28 77.92 L110.54 77.98 L110.8 78.01 L111.05 78.04 L111.31 78.06 L111.41 78.08 L112.44 78.18 L113.46 78.28 L114.49 78.37 L115.51 78.46 L116.54 78.54 L117.56 78.62 L118.59 78.7 L119.61 78.77 L120.64 78.84 L121.66 78.91 L122.69 78.97 L123.72 79.04 L124.74 79.09 L125.77 79.15 L126.79 79.2 L127.82 79.25 L128.84 79.29 L129.87 79.32 L130.89 79.36 L131.92 79.39 L132.94 79.41 L133.97 79.44 L135 79.46 L136.02 79.48 L137.05 79.49 L138.07 79.5 L139.1 79.51 L140.12 79.51 L141.15 79.51 L142.17 79.51 L143.2 79.49 L144.22 79.47 L145.25 79.44 L146.28 79.4 L147.3 79.35 L148.33 79.29 L149.35 79.21 L150.38 79.13 L151.4 79.03 L152.43 78.92 L153.45 78.8 L154.48 78.67 L155.5 78.53 L156.53 78.39 L157.56 78.25 L158.58 78.11 L159.61 77.98 L160.63 77.85 L161.66 77.73 L162.68 77.64 L163.71 77.55 L164.73 77.5 L165.76 77.46 L166.78 77.45 L167.81 77.47 L168.84 77.52 L169.86 77.59 L170.89 77.67 L171.91 77.77 L172.94 77.88 L173.96 78.01 L174.99 78.15 L176.01 78.3 L177.04 78.47 L178.06 78.64 L179.09 78.82 L180.11 79.01 L181.14 79.2 L182.17 79.4 L183.19 79.6 L184.22 79.79 L185.24 80 L186.27 80.2 L187.29 80.4 L188.32 80.59 L189.34 80.78 L190.37 80.97 L191.39 81.15 L192.42 81.32 L193.45 81.49 L194.47 81.64 L195.5 81.79 L196.52 81.93 L197.55 82.07 L198.57 82.21 L199.6 82.34 L200.62 82.48 L201.65 82.6 L202.67 82.72 L203.7 82.83 L204.73 82.92 L205.75 83 L206.78 83.07 L207.8 83.12 L209.21 83.16 L209.21 86.07 L95.41 86.07 Z" fill="#ffffff" stroke="none"/>
<path d="M95.41 49.89 L95.67 49.02 L95.93 48.03 L96.18 46.97 L96.44 45.85 L96.7 44.69 L96.95 43.51 L97.21 42.25 L97.46 40.88 L97.72 39.46 L97.98 38.06 L98.23 36.74 L98.49 35.58 L98.75 34.57 L99 33.63 L99.26 32.75 L99.52 31.91 L99.77 31.09 L100.03 30.27 L100.28 29.41 L100.54 28.56 L100.8 27.83 L101.05 27.27 L101.31 26.76 L101.57 26.49 L101.82 26.76 L102.08 27.51 L102.34 28.12 L102.59 28.52 L102.85 28.69 L103.1 28.58 L103.36 28.5 L103.62 29.03 L103.87 30.06 L104.13 31.2 L104.39 32.78 L104.64 35.39 L104.9 39.64 L105.16 44.16 L105.41 49.15 L105.67 55.04 L105.92 61.26 L106.18 65.36 L106.44 68.38 L106.69 70.6 L106.95 72.39 L107.21 74.06 L107.46 75.32 L107.72 75.99 L107.98 76.49 L108.23 76.84 L108.49 77.07 L108.74 77.25 L109 77.41 L109.26 77.53 L109.51 77.64 L109.77 77.75 L110.03 77.84 L110.28 77.92 L110.54 77.98 L110.8 78.01 L111.05 78.04 L111.31 78.06 L111.41 78.08 L112.44 78.18 L113.46 78.28 L114.49 78.37 L115.51 78.46 L116.54 78.54 L117.56 78.62 L118.59 78.7 L119.61 78.77 L120.64 78.84 L121.66 78.91 L122.69 78.97 L123.72 79.04 L124.74 79.09 L125.77 79.15 L126.79 79.2 L127.82 79.25 L128.84 79.29 L129.87 79.32 L130.89 79.36 L131.92 79.39 L132.94 79.41 L133.97 79.44 L135 79.46 L136.02 79.48 L137.05 79.49 L138.07 79.5 L139.1 79.51 L140.12 79.51 L141.15 79.51 L142.17 79.51 L143.2 79.49 L144.22 79.47 L145.25 79.44 L146.28 79.4 L147.3 79.35 L148.33 79.29 L149.35 79.21 L150.38 79.13 L151.4 79.03 L152.43 78.92 L153.45 78.8 L154.48 78.67 L155.5 78.53 L156.53 78.39 L157.56 78.25 L158.58 78.11 L159.61 77.98 L160.63 77.85 L161.66 77.73 L162.68 77.64 L163.71 77.55 L164.73 77.5 L165.76 77.46 L166.78 77.45 L167.81 77.47 L168.84 77.52 L169.86 77.59 L170.89 77.67 L171.91 77.77 L172.94 77.88 L173.96 78.01 L174.99 78.15 L176.01 78.3 L177.04 78.47 L178.06 78.64 L179.09 78.82 L180.11 79.01 L181.14 79.2 L182.17 79.4 L183.19 79.6 L184.22 79.79 L185.24 80 L186.27 80.2 L187.29 80.4 L188.32 80.59 L189.34 80.78 L190.37 80.97 L191.39 81.15 L192.42 81.32 L193.45 81.49 L194.47 81.64 L195.5 81.79 L196.52 81.93 L197.55 82.07 L198.57 82.21 L199.6 82.34 L200.62 82.48 L201.65 82.6 L202.67 82.72 L203.7 82.83 L204.73 82.92 L205.75 83 L206.78 83.07 L207.8 83.12 L209.21 83.16" fill="none" stroke="url(#g11)" stroke-width="0.85" stroke-linejoin="round"/>
<path d="M91.07 54.29 L91.33 53.4 L91.59 52.4 L91.85 51.31 L92.11 50.17 L92.38 48.98 L92.64 47.78 L92.9 46.5 L93.16 45.1 L93.42 43.65 L93.68 42.22 L93.94 40.88 L94.2 39.69 L94.47 38.66 L94.73 37.7 L94.99 36.8 L95.25 35.95 L95.51 35.11 L95.77 34.27 L96.03 33.39 L96.3 32.52 L96.56 31.77 L96.82 31.2 L97.08 30.67 L97.34 30.39 L97.6 30.67 L97.86 31.43 L98.12 32.04 L98.39 32.44 L98.65 32.62 L98.91 32.49 L99.17 32.41 L99.43 32.95 L99.69 33.99 L99.95 35.15 L100.21 36.75 L100.48 39.41 L100.74 43.74 L101 48.33 L101.26 53.41 L101.52 59.4 L101.78 65.73 L102.04 69.9 L102.3 72.98 L102.57 75.24 L102.83 77.05 L103.09 78.75 L103.35 80.03 L103.61 80.71 L103.87 81.22 L104.13 81.58 L104.39 81.81 L104.66 82 L104.92 82.15 L105.18 82.28 L105.44 82.39 L105.7 82.5 L105.96 82.6 L106.22 82.68 L106.48 82.73 L106.75 82.76 L107.01 82.79 L107.27 82.82 L107.37 82.83 L108.42 82.93 L109.46 83.03 L110.51 83.11 L111.55 83.2 L112.6 83.28 L113.64 83.36 L114.69 83.44 L115.73 83.53 L116.78 83.61 L117.82 83.7 L118.87 83.79 L119.91 83.87 L120.96 83.96 L122 84.03 L123.05 84.1 L124.09 84.16 L125.14 84.21 L126.18 84.26 L127.23 84.3 L128.28 84.34 L129.32 84.38 L130.37 84.41 L131.41 84.45 L132.46 84.47 L133.5 84.5 L134.55 84.52 L135.59 84.54 L136.64 84.56 L137.68 84.57 L138.73 84.57 L139.77 84.57 L140.82 84.56 L141.86 84.54 L142.91 84.51 L143.95 84.46 L145 84.4 L146.04 84.32 L147.09 84.22 L148.13 84.11 L149.18 83.98 L150.22 83.83 L151.27 83.67 L152.31 83.5 L153.36 83.32 L154.4 83.13 L155.45 82.94 L156.49 82.76 L157.54 82.58 L158.58 82.42 L159.63 82.28 L160.67 82.17 L161.72 82.08 L162.76 82.03 L163.81 82.02 L164.85 82.04 L165.9 82.1 L166.94 82.19 L167.99 82.29 L169.03 82.42 L170.08 82.57 L171.12 82.73 L172.17 82.92 L173.21 83.11 L174.26 83.32 L175.3 83.54 L176.35 83.77 L177.39 84.01 L178.44 84.25 L179.48 84.49 L180.53 84.72 L181.58 84.96 L182.62 85.2 L183.67 85.43 L184.71 85.66 L185.76 85.88 L186.8 86.1 L187.85 86.3 L188.89 86.5 L189.94 86.68 L190.98 86.85 L192.03 87.01 L193.07 87.16 L194.12 87.3 L195.16 87.44 L196.21 87.57 L197.25 87.7 L198.3 87.83 L199.34 87.94 L200.39 88.05 L201.43 88.15 L202.48 88.24 L203.52 88.31 L204.57 88.37 L205.61 88.42 L207.05 88.45 L207.05 91.14 L91.07 91.14 Z" fill="#ffffff" stroke="none"/>
<path d="M91.07 54.29 L91.33 53.4 L91.59 52.4 L91.85 51.31 L92.11 50.17 L92.38 48.98 L92.64 47.78 L92.9 46.5 L93.16 45.1 L93.42 43.65 L93.68 42.22 L93.94 40.88 L94.2 39.69 L94.47 38.66 L94.73 37.7 L94.99 36.8 L95.25 35.95 L95.51 35.11 L95.77 34.27 L96.03 33.39 L96.3 32.52 L96.56 31.77 L96.82 31.2 L97.08 30.67 L97.34 30.39 L97.6 30.67 L97.86 31.43 L98.12 32.04 L98.39 32.44 L98.65 32.62 L98.91 32.49 L99.17 32.41 L99.43 32.95 L99.69 33.99 L99.95 35.15 L100.21 36.75 L100.48 39.41 L100.74 43.74 L101 48.33 L101.26 53.41 L101.52 59.4 L101.78 65.73 L102.04 69.9 L102.3 72.98 L102.57 75.24 L102.83 77.05 L103.09 78.75 L103.35 80.03 L103.61 80.71 L103.87 81.22 L104.13 81.58 L104.39 81.81 L104.66 82 L104.92 82.15 L105.18 82.28 L105.44 82.39 L105.7 82.5 L105.96 82.6 L106.22 82.68 L106.48 82.73 L106.75 82.76 L107.01 82.79 L107.27 82.82 L107.37 82.83 L108.42 82.93 L109.46 83.03 L110.51 83.11 L111.55 83.2 L112.6 83.28 L113.64 83.36 L114.69 83.44 L115.73 83.53 L116.78 83.61 L117.82 83.7 L118.87 83.79 L119.91 83.87 L120.96 83.96 L122 84.03 L123.05 84.1 L124.09 84.16 L125.14 84.21 L126.18 84.26 L127.23 84.3 L128.28 84.34 L129.32 84.38 L130.37 84.41 L131.41 84.45 L132.46 84.47 L133.5 84.5 L134.55 84.52 L135.59 84.54 L136.64 84.56 L137.68 84.57 L138.73 84.57 L139.77 84.57 L140.82 84.56 L141.86 84.54 L142.91 84.51 L143.95 84.46 L145 84.4 L146.04 84.32 L147.09 84.22 L148.13 84.11 L149.18 83.98 L150.22 83.83 L151.27 83.67 L152.31 83.5 L153.36 83.32 L154.4 83.13 L155.45 82.94 L156.49 82.76 L157.54 82.58 L158.58 82.42 L159.63 82.28 L160.67 82.17 L161.72 82.08 L162.76 82.03 L163.81 82.02 L164.85 82.04 L165.9 82.1 L166.94 82.19 L167.99 82.29 L169.03 82.42 L170.08 82.57 L171.12 82.73 L172.17 82.92 L173.21 83.11 L174.26 83.32 L175.3 83.54 L176.35 83.77 L177.39 84.01 L178.44 84.25 L179.48 84.49 L180.53 84.72 L181.58 84.96 L182.62 85.2 L183.67 85.43 L184.71 85.66 L185.76 85.88 L186.8 86.1 L187.85 86.3 L188.89 86.5 L189.94 86.68 L190.98 86.85 L192.03 87.01 L193.07 87.16 L194.12 87.3 L195.16 87.44 L196.21 87.57 L197.25 87.7 L198.3 87.83 L199.34 87.94 L200.39 88.05 L201.43 88.15 L202.48 88.24 L203.52 88.31 L204.57 88.37 L205.61 88.42 L207.05 88.45" fill="none" stroke="url(#g10)" stroke-width="0.85" stroke-linejoin="round"/>
<path d="M86.4 59.03 L86.67 58.11 L86.94 57.09 L87.2 55.99 L87.47 54.82 L87.74 53.61 L88 52.38 L88.27 51.07 L88.53 49.64 L88.8 48.17 L89.07 46.71 L89.33 45.34 L89.6 44.13 L89.87 43.07 L90.13 42.09 L90.4 41.17 L90.67 40.3 L90.93 39.44 L91.2 38.58 L91.47 37.68 L91.73 36.79 L92 36.03 L92.27 35.44 L92.53 34.9 L92.8 34.61 L93.07 34.88 L93.33 35.66 L93.6 36.28 L93.87 36.68 L94.13 36.85 L94.4 36.73 L94.67 36.64 L94.93 37.18 L95.2 38.24 L95.47 39.42 L95.73 41.04 L96 43.75 L96.26 48.15 L96.53 52.83 L96.8 57.99 L97.06 64.1 L97.33 70.54 L97.6 74.79 L97.86 77.92 L98.13 80.22 L98.4 82.07 L98.66 83.79 L98.93 85.1 L99.2 85.78 L99.46 86.3 L99.73 86.66 L100 86.9 L100.26 87.09 L100.53 87.25 L100.8 87.38 L101.06 87.5 L101.33 87.61 L101.6 87.71 L101.86 87.79 L102.13 87.84 L102.4 87.87 L102.66 87.9 L102.93 87.93 L103.04 87.94 L104.1 88.04 L105.17 88.13 L106.23 88.21 L107.3 88.3 L108.37 88.38 L109.43 88.46 L110.5 88.55 L111.57 88.64 L112.63 88.74 L113.7 88.84 L114.76 88.95 L115.83 89.06 L116.9 89.16 L117.96 89.26 L119.03 89.34 L120.09 89.42 L121.16 89.48 L122.23 89.54 L123.29 89.59 L124.36 89.64 L125.43 89.69 L126.49 89.73 L127.56 89.77 L128.62 89.81 L129.69 89.85 L130.76 89.88 L131.82 89.91 L132.89 89.94 L133.96 89.97 L135.02 89.99 L136.09 90 L137.15 90.01 L138.22 90 L139.29 89.98 L140.35 89.94 L141.42 89.89 L142.49 89.81 L143.55 89.72 L144.62 89.6 L145.68 89.45 L146.75 89.28 L147.82 89.09 L148.88 88.87 L149.95 88.64 L151.02 88.39 L152.08 88.13 L153.15 87.88 L154.21 87.63 L155.28 87.41 L156.35 87.2 L157.41 87.04 L158.48 86.91 L159.55 86.84 L160.61 86.82 L161.68 86.85 L162.74 86.93 L163.81 87.05 L164.88 87.19 L165.94 87.36 L167.01 87.56 L168.07 87.79 L169.14 88.04 L170.21 88.3 L171.27 88.58 L172.34 88.87 L173.41 89.17 L174.47 89.46 L175.54 89.76 L176.6 90.06 L177.67 90.34 L178.74 90.62 L179.8 90.9 L180.87 91.16 L181.94 91.42 L183 91.66 L184.07 91.89 L185.13 92.1 L186.2 92.3 L187.27 92.49 L188.33 92.66 L189.4 92.82 L190.47 92.96 L191.53 93.09 L192.6 93.21 L193.66 93.34 L194.73 93.45 L195.8 93.57 L196.86 93.67 L197.93 93.77 L199 93.86 L200.06 93.94 L201.13 94 L202.19 94.05 L203.26 94.09 L204.73 94.11 L204.73 96.59 L86.4 96.59 Z" fill="#ffffff" stroke="none"/>
<path d="M86.4 59.03 L86.67 58.11 L86.94 57.09 L87.2 55.99 L87.47 54.82 L87.74 53.61 L88 52.38 L88.27 51.07 L88.53 49.64 L88.8 48.17 L89.07 46.71 L89.33 45.34 L89.6 44.13 L89.87 43.07 L90.13 42.09 L90.4 41.17 L90.67 40.3 L90.93 39.44 L91.2 38.58 L91.47 37.68 L91.73 36.79 L92 36.03 L92.27 35.44 L92.53 34.9 L92.8 34.61 L93.07 34.88 L93.33 35.66 L93.6 36.28 L93.87 36.68 L94.13 36.85 L94.4 36.73 L94.67 36.64 L94.93 37.18 L95.2 38.24 L95.47 39.42 L95.73 41.04 L96 43.75 L96.26 48.15 L96.53 52.83 L96.8 57.99 L97.06 64.1 L97.33 70.54 L97.6 74.79 L97.86 77.92 L98.13 80.22 L98.4 82.07 L98.66 83.79 L98.93 85.1 L99.2 85.78 L99.46 86.3 L99.73 86.66 L100 86.9 L100.26 87.09 L100.53 87.25 L100.8 87.38 L101.06 87.5 L101.33 87.61 L101.6 87.71 L101.86 87.79 L102.13 87.84 L102.4 87.87 L102.66 87.9 L102.93 87.93 L103.04 87.94 L104.1 88.04 L105.17 88.13 L106.23 88.21 L107.3 88.3 L108.37 88.38 L109.43 88.46 L110.5 88.55 L111.57 88.64 L112.63 88.74 L113.7 88.84 L114.76 88.95 L115.83 89.06 L116.9 89.16 L117.96 89.26 L119.03 89.34 L120.09 89.42 L121.16 89.48 L122.23 89.54 L123.29 89.59 L124.36 89.64 L125.43 89.69 L126.49 89.73 L127.56 89.77 L128.62 89.81 L129.69 89.85 L130.76 89.88 L131.82 89.91 L132.89 89.94 L133.96 89.97 L135.02 89.99 L136.09 90 L137.15 90.01 L138.22 90 L139.29 89.98 L140.35 89.94 L141.42 89.89 L142.49 89.81 L143.55 89.72 L144.62 89.6 L145.68 89.45 L146.75 89.28 L147.82 89.09 L148.88 88.87 L149.95 88.64 L151.02 88.39 L152.08 88.13 L153.15 87.88 L154.21 87.63 L155.28 87.41 L156.35 87.2 L157.41 87.04 L158.48 86.91 L159.55 86.84 L160.61 86.82 L161.68 86.85 L162.74 86.93 L163.81 87.05 L164.88 87.19 L165.94 87.36 L167.01 87.56 L168.07 87.79 L169.14 88.04 L170.21 88.3 L171.27 88.58 L172.34 88.87 L173.41 89.17 L174.47 89.46 L175.54 89.76 L176.6 90.06 L177.67 90.34 L178.74 90.62 L179.8 90.9 L180.87 91.16 L181.94 91.42 L183 91.66 L184.07 91.89 L185.13 92.1 L186.2 92.3 L187.27 92.49 L188.33 92.66 L189.4 92.82 L190.47 92.96 L191.53 93.09 L192.6 93.21 L193.66 93.34 L194.73 93.45 L195.8 93.57 L196.86 93.67 L197.93 93.77 L199 93.86 L200.06 93.94 L201.13 94 L202.19 94.05 L203.26 94.09 L204.73 94.11" fill="none" stroke="url(#g9)" stroke-width="0.85" stroke-linejoin="round"/>
<path d="M82.02 63.48 L82.29 62.55 L82.56 61.51 L82.84 60.38 L83.11 59.19 L83.38 57.96 L83.65 56.71 L83.92 55.38 L84.19 53.92 L84.47 52.42 L84.74 50.93 L85.01 49.54 L85.28 48.31 L85.55 47.23 L85.82 46.23 L86.09 45.3 L86.37 44.4 L86.64 43.53 L86.91 42.65 L87.18 41.73 L87.45 40.82 L87.72 40.04 L87.99 39.44 L88.27 38.89 L88.54 38.6 L88.81 38.87 L89.08 39.65 L89.35 40.29 L89.62 40.69 L89.9 40.86 L90.17 40.73 L90.44 40.64 L90.71 41.19 L90.98 42.26 L91.25 43.46 L91.52 45.1 L91.8 47.85 L92.07 52.33 L92.34 57.08 L92.61 62.34 L92.88 68.54 L93.15 75.1 L93.43 79.41 L93.7 82.59 L93.97 84.92 L94.24 86.8 L94.51 88.55 L94.78 89.88 L95.05 90.58 L95.33 91.1 L95.6 91.48 L95.87 91.72 L96.14 91.91 L96.41 92.07 L96.68 92.21 L96.95 92.32 L97.23 92.43 L97.5 92.54 L97.77 92.62 L98.04 92.67 L98.31 92.71 L98.58 92.73 L98.86 92.76 L98.96 92.77 L100.05 92.87 L101.14 92.96 L102.22 93.04 L103.31 93.12 L104.39 93.2 L105.48 93.29 L106.57 93.38 L107.65 93.47 L108.74 93.58 L109.82 93.69 L110.91 93.81 L112 93.93 L113.08 94.05 L114.17 94.15 L115.25 94.25 L116.34 94.34 L117.43 94.41 L118.51 94.47 L119.6 94.53 L120.68 94.59 L121.77 94.64 L122.86 94.69 L123.94 94.74 L125.03 94.78 L126.12 94.83 L127.2 94.87 L128.29 94.91 L129.37 94.95 L130.46 94.98 L131.55 95.01 L132.63 95.04 L133.72 95.06 L134.8 95.07 L135.89 95.06 L136.98 95.04 L138.06 95 L139.15 94.95 L140.23 94.86 L141.32 94.75 L142.41 94.61 L143.49 94.44 L144.58 94.25 L145.66 94.02 L146.75 93.77 L147.84 93.5 L148.92 93.21 L150.01 92.93 L151.09 92.65 L152.18 92.39 L153.27 92.16 L154.35 91.97 L155.44 91.84 L156.52 91.76 L157.61 91.76 L158.7 91.82 L159.78 91.93 L160.87 92.07 L161.95 92.26 L163.04 92.47 L164.13 92.72 L165.21 93 L166.3 93.29 L167.38 93.6 L168.47 93.93 L169.56 94.26 L170.64 94.59 L171.73 94.92 L172.82 95.25 L173.9 95.56 L174.99 95.86 L176.07 96.15 L177.16 96.43 L178.25 96.7 L179.33 96.95 L180.42 97.19 L181.5 97.41 L182.59 97.62 L183.68 97.81 L184.76 97.98 L185.85 98.14 L186.93 98.29 L188.02 98.42 L189.11 98.53 L190.19 98.65 L191.28 98.76 L192.36 98.86 L193.45 98.96 L194.54 99.06 L195.62 99.15 L196.71 99.23 L197.79 99.3 L198.88 99.37 L199.97 99.41 L201.05 99.45 L202.55 99.46 L202.55 101.71 L82.02 101.71 Z" fill="#ffffff" stroke="none"/>
<path d="M82.02 63.48 L82.29 62.55 L82.56 61.51 L82.84 60.38 L83.11 59.19 L83.38 57.96 L83.65 56.71 L83.92 55.38 L84.19 53.92 L84.47 52.42 L84.74 50.93 L85.01 49.54 L85.28 48.31 L85.55 47.23 L85.82 46.23 L86.09 45.3 L86.37 44.4 L86.64 43.53 L86.91 42.65 L87.18 41.73 L87.45 40.82 L87.72 40.04 L87.99 39.44 L88.27 38.89 L88.54 38.6 L88.81 38.87 L89.08 39.65 L89.35 40.29 L89.62 40.69 L89.9 40.86 L90.17 40.73 L90.44 40.64 L90.71 41.19 L90.98 42.26 L91.25 43.46 L91.52 45.1 L91.8 47.85 L92.07 52.33 L92.34 57.08 L92.61 62.34 L92.88 68.54 L93.15 75.1 L93.43 79.41 L93.7 82.59 L93.97 84.92 L94.24 86.8 L94.51 88.55 L94.78 89.88 L95.05 90.58 L95.33 91.1 L95.6 91.48 L95.87 91.72 L96.14 91.91 L96.41 92.07 L96.68 92.21 L96.95 92.32 L97.23 92.43 L97.5 92.54 L97.77 92.62 L98.04 92.67 L98.31 92.71 L98.58 92.73 L98.86 92.76 L98.96 92.77 L100.05 92.87 L101.14 92.96 L102.22 93.04 L103.31 93.12 L104.39 93.2 L105.48 93.29 L106.57 93.38 L107.65 93.47 L108.74 93.58 L109.82 93.69 L110.91 93.81 L112 93.93 L113.08 94.05 L114.17 94.15 L115.25 94.25 L116.34 94.34 L117.43 94.41 L118.51 94.47 L119.6 94.53 L120.68 94.59 L121.77 94.64 L122.86 94.69 L123.94 94.74 L125.03 94.78 L126.12 94.83 L127.2 94.87 L128.29 94.91 L129.37 94.95 L130.46 94.98 L131.55 95.01 L132.63 95.04 L133.72 95.06 L134.8 95.07 L135.89 95.06 L136.98 95.04 L138.06 95 L139.15 94.95 L140.23 94.86 L141.32 94.75 L142.41 94.61 L143.49 94.44 L144.58 94.25 L145.66 94.02 L146.75 93.77 L147.84 93.5 L148.92 93.21 L150.01 92.93 L151.09 92.65 L152.18 92.39 L153.27 92.16 L154.35 91.97 L155.44 91.84 L156.52 91.76 L157.61 91.76 L158.7 91.82 L159.78 91.93 L160.87 92.07 L161.95 92.26 L163.04 92.47 L164.13 92.72 L165.21 93 L166.3 93.29 L167.38 93.6 L168.47 93.93 L169.56 94.26 L170.64 94.59 L171.73 94.92 L172.82 95.25 L173.9 95.56 L174.99 95.86 L176.07 96.15 L177.16 96.43 L178.25 96.7 L179.33 96.95 L180.42 97.19 L181.5 97.41 L182.59 97.62 L183.68 97.81 L184.76 97.98 L185.85 98.14 L186.93 98.29 L188.02 98.42 L189.11 98.53 L190.19 98.65 L191.28 98.76 L192.36 98.86 L193.45 98.96 L194.54 99.06 L195.62 99.15 L196.71 99.23 L197.79 99.3 L198.88 99.37 L199.97 99.41 L201.05 99.45 L202.55 99.46" fill="none" stroke="url(#g8)" stroke-width="0.85" stroke-linejoin="round"/>
<path d="M77.56 68.02 L77.83 67.07 L78.11 66.02 L78.39 64.87 L78.66 63.66 L78.94 62.41 L79.22 61.13 L79.49 59.78 L79.77 58.3 L80.05 56.76 L80.32 55.25 L80.6 53.83 L80.88 52.58 L81.15 51.48 L81.43 50.47 L81.71 49.51 L81.98 48.6 L82.26 47.71 L82.54 46.82 L82.81 45.88 L83.09 44.96 L83.37 44.16 L83.64 43.55 L83.92 42.99 L84.19 42.69 L84.47 42.97 L84.75 43.76 L85.02 44.4 L85.3 44.81 L85.58 44.99 L85.85 44.85 L86.13 44.76 L86.41 45.31 L86.68 46.41 L86.96 47.62 L87.24 49.29 L87.51 52.09 L87.79 56.64 L88.07 61.47 L88.34 66.81 L88.62 73.13 L88.9 79.79 L89.17 84.18 L89.45 87.41 L89.73 89.78 L90 91.69 L90.28 93.47 L90.56 94.83 L90.83 95.54 L91.11 96.07 L91.39 96.44 L91.66 96.69 L91.94 96.89 L92.22 97.05 L92.49 97.19 L92.77 97.31 L93.04 97.42 L93.32 97.52 L93.6 97.61 L93.87 97.67 L94.15 97.7 L94.43 97.72 L94.7 97.75 L94.81 97.76 L95.92 97.86 L97.03 97.95 L98.13 98.04 L99.24 98.12 L100.35 98.2 L101.45 98.28 L102.56 98.37 L103.66 98.47 L104.77 98.58 L105.88 98.7 L106.98 98.82 L108.09 98.94 L109.2 99.06 L110.3 99.17 L111.41 99.28 L112.51 99.36 L113.62 99.44 L114.73 99.5 L115.83 99.57 L116.94 99.63 L118.05 99.68 L119.15 99.74 L120.26 99.79 L121.36 99.84 L122.47 99.89 L123.58 99.93 L124.68 99.97 L125.79 100.02 L126.9 100.06 L128 100.1 L129.11 100.13 L130.21 100.15 L131.32 100.17 L132.43 100.17 L133.53 100.16 L134.64 100.13 L135.75 100.08 L136.85 100 L137.96 99.89 L139.06 99.74 L140.17 99.57 L141.28 99.35 L142.38 99.11 L143.49 98.83 L144.6 98.53 L145.7 98.21 L146.81 97.89 L147.91 97.57 L149.02 97.28 L150.13 97.03 L151.23 96.84 L152.34 96.71 L153.45 96.65 L154.55 96.68 L155.66 96.78 L156.76 96.92 L157.87 97.11 L158.98 97.34 L160.08 97.61 L161.19 97.91 L162.3 98.24 L163.4 98.59 L164.51 98.95 L165.61 99.32 L166.72 99.68 L167.83 100.05 L168.93 100.4 L170.04 100.74 L171.15 101.07 L172.25 101.37 L173.36 101.66 L174.46 101.94 L175.57 102.2 L176.68 102.45 L177.78 102.68 L178.89 102.89 L180 103.09 L181.1 103.27 L182.21 103.44 L183.31 103.59 L184.42 103.73 L185.53 103.85 L186.63 103.95 L187.74 104.06 L188.85 104.16 L189.95 104.26 L191.06 104.36 L192.16 104.45 L193.27 104.54 L194.38 104.62 L195.48 104.69 L196.59 104.74 L197.7 104.79 L198.8 104.82 L200.32 104.84 L200.32 106.92 L77.56 106.92 Z" fill="#ffffff" stroke="none"/>
<path d="M77.56 68.02 L77.83 67.07 L78.11 66.02 L78.39 64.87 L78.66 63.66 L78.94 62.41 L79.22 61.13 L79.49 59.78 L79.77 58.3 L80.05 56.76 L80.32 55.25 L80.6 53.83 L80.88 52.58 L81.15 51.48 L81.43 50.47 L81.71 49.51 L81.98 48.6 L82.26 47.71 L82.54 46.82 L82.81 45.88 L83.09 44.96 L83.37 44.16 L83.64 43.55 L83.92 42.99 L84.19 42.69 L84.47 42.97 L84.75 43.76 L85.02 44.4 L85.3 44.81 L85.58 44.99 L85.85 44.85 L86.13 44.76 L86.41 45.31 L86.68 46.41 L86.96 47.62 L87.24 49.29 L87.51 52.09 L87.79 56.64 L88.07 61.47 L88.34 66.81 L88.62 73.13 L88.9 79.79 L89.17 84.18 L89.45 87.41 L89.73 89.78 L90 91.69 L90.28 93.47 L90.56 94.83 L90.83 95.54 L91.11 96.07 L91.39 96.44 L91.66 96.69 L91.94 96.89 L92.22 97.05 L92.49 97.19 L92.77 97.31 L93.04 97.42 L93.32 97.52 L93.6 97.61 L93.87 97.67 L94.15 97.7 L94.43 97.72 L94.7 97.75 L94.81 97.76 L95.92 97.86 L97.03 97.95 L98.13 98.04 L99.24 98.12 L100.35 98.2 L101.45 98.28 L102.56 98.37 L103.66 98.47 L104.77 98.58 L105.88 98.7 L106.98 98.82 L108.09 98.94 L109.2 99.06 L110.3 99.17 L111.41 99.28 L112.51 99.36 L113.62 99.44 L114.73 99.5 L115.83 99.57 L116.94 99.63 L118.05 99.68 L119.15 99.74 L120.26 99.79 L121.36 99.84 L122.47 99.89 L123.58 99.93 L124.68 99.97 L125.79 100.02 L126.9 100.06 L128 100.1 L129.11 100.13 L130.21 100.15 L131.32 100.17 L132.43 100.17 L133.53 100.16 L134.64 100.13 L135.75 100.08 L136.85 100 L137.96 99.89 L139.06 99.74 L140.17 99.57 L141.28 99.35 L142.38 99.11 L143.49 98.83 L144.6 98.53 L145.7 98.21 L146.81 97.89 L147.91 97.57 L149.02 97.28 L150.13 97.03 L151.23 96.84 L152.34 96.71 L153.45 96.65 L154.55 96.68 L155.66 96.78 L156.76 96.92 L157.87 97.11 L158.98 97.34 L160.08 97.61 L161.19 97.91 L162.3 98.24 L163.4 98.59 L164.51 98.95 L165.61 99.32 L166.72 99.68 L167.83 100.05 L168.93 100.4 L170.04 100.74 L171.15 101.07 L172.25 101.37 L173.36 101.66 L174.46 101.94 L175.57 102.2 L176.68 102.45 L177.78 102.68 L178.89 102.89 L180 103.09 L181.1 103.27 L182.21 103.44 L183.31 103.59 L184.42 103.73 L185.53 103.85 L186.63 103.95 L187.74 104.06 L188.85 104.16 L189.95 104.26 L191.06 104.36 L192.16 104.45 L193.27 104.54 L194.38 104.62 L195.48 104.69 L196.59 104.74 L197.7 104.79 L198.8 104.82 L200.32 104.84" fill="none" stroke="url(#g7)" stroke-width="0.85" stroke-linejoin="round"/>
<path d="M71.72 73.97 L72 73.01 L72.28 71.93 L72.57 70.76 L72.85 69.52 L73.13 68.24 L73.42 66.94 L73.7 65.55 L73.98 64.04 L74.27 62.47 L74.55 60.93 L74.83 59.48 L75.11 58.2 L75.4 57.07 L75.68 56.04 L75.96 55.06 L76.25 54.13 L76.53 53.22 L76.81 52.31 L77.1 51.36 L77.38 50.41 L77.66 49.6 L77.95 48.97 L78.23 48.4 L78.51 48.09 L78.8 48.38 L79.08 49.19 L79.36 49.84 L79.65 50.26 L79.93 50.44 L80.21 50.3 L80.49 50.2 L80.78 50.77 L81.06 51.89 L81.34 53.13 L81.63 54.84 L81.91 57.69 L82.19 62.35 L82.48 67.28 L82.76 72.74 L83.04 79.19 L83.33 86 L83.61 90.48 L83.89 93.79 L84.18 96.21 L84.46 98.16 L84.74 99.98 L85.03 101.36 L85.31 102.09 L85.59 102.63 L85.88 103.02 L86.16 103.27 L86.44 103.47 L86.72 103.64 L87.01 103.78 L87.29 103.9 L87.57 104.02 L87.86 104.12 L88.14 104.21 L88.42 104.27 L88.71 104.3 L88.99 104.33 L89.27 104.35 L89.39 104.36 L90.52 104.47 L91.65 104.56 L92.78 104.65 L93.92 104.73 L95.05 104.81 L96.18 104.9 L97.32 104.99 L98.45 105.09 L99.58 105.2 L100.71 105.31 L101.85 105.43 L102.98 105.55 L104.11 105.67 L105.24 105.78 L106.38 105.88 L107.51 105.96 L108.64 106.04 L109.77 106.11 L110.91 106.17 L112.04 106.23 L113.17 106.29 L114.31 106.34 L115.44 106.4 L116.57 106.45 L117.7 106.5 L118.84 106.54 L119.97 106.59 L121.1 106.63 L122.23 106.68 L123.37 106.72 L124.5 106.75 L125.63 106.78 L126.76 106.79 L127.9 106.8 L129.03 106.78 L130.16 106.75 L131.3 106.69 L132.43 106.6 L133.56 106.47 L134.69 106.31 L135.83 106.1 L136.96 105.85 L138.09 105.57 L139.22 105.25 L140.36 104.9 L141.49 104.53 L142.62 104.17 L143.76 103.83 L144.89 103.52 L146.02 103.27 L147.15 103.09 L148.29 102.99 L149.42 102.99 L150.55 103.07 L151.68 103.22 L152.82 103.41 L153.95 103.66 L155.08 103.95 L156.21 104.28 L157.35 104.64 L158.48 105.02 L159.61 105.42 L160.75 105.82 L161.88 106.22 L163.01 106.62 L164.14 107 L165.28 107.37 L166.41 107.71 L167.54 108.04 L168.67 108.33 L169.81 108.61 L170.94 108.88 L172.07 109.13 L173.2 109.36 L174.34 109.58 L175.47 109.78 L176.6 109.96 L177.74 110.13 L178.87 110.29 L180 110.43 L181.13 110.56 L182.27 110.68 L183.4 110.78 L184.53 110.88 L185.66 110.98 L186.8 111.08 L187.93 111.17 L189.06 111.27 L190.2 111.35 L191.33 111.43 L192.46 111.5 L193.59 111.56 L194.73 111.61 L195.86 111.64 L197.42 111.66 L197.42 113.75 L71.72 113.75 Z" fill="#ffffff" stroke="none"/>
<path d="M71.72 73.97 L72 73.01 L72.28 71.93 L72.57 70.76 L72.85 69.52 L73.13 68.24 L73.42 66.94 L73.7 65.55 L73.98 64.04 L74.27 62.47 L74.55 60.93 L74.83 59.48 L75.11 58.2 L75.4 57.07 L75.68 56.04 L75.96 55.06 L76.25 54.13 L76.53 53.22 L76.81 52.31 L77.1 51.36 L77.38 50.41 L77.66 49.6 L77.95 48.97 L78.23 48.4 L78.51 48.09 L78.8 48.38 L79.08 49.19 L79.36 49.84 L79.65 50.26 L79.93 50.44 L80.21 50.3 L80.49 50.2 L80.78 50.77 L81.06 51.89 L81.34 53.13 L81.63 54.84 L81.91 57.69 L82.19 62.35 L82.48 67.28 L82.76 72.74 L83.04 79.19 L83.33 86 L83.61 90.48 L83.89 93.79 L84.18 96.21 L84.46 98.16 L84.74 99.98 L85.03 101.36 L85.31 102.09 L85.59 102.63 L85.88 103.02 L86.16 103.27 L86.44 103.47 L86.72 103.64 L87.01 103.78 L87.29 103.9 L87.57 104.02 L87.86 104.12 L88.14 104.21 L88.42 104.27 L88.71 104.3 L88.99 104.33 L89.27 104.35 L89.39 104.36 L90.52 104.47 L91.65 104.56 L92.78 104.65 L93.92 104.73 L95.05 104.81 L96.18 104.9 L97.32 104.99 L98.45 105.09 L99.58 105.2 L100.71 105.31 L101.85 105.43 L102.98 105.55 L104.11 105.67 L105.24 105.78 L106.38 105.88 L107.51 105.96 L108.64 106.04 L109.77 106.11 L110.91 106.17 L112.04 106.23 L113.17 106.29 L114.31 106.34 L115.44 106.4 L116.57 106.45 L117.7 106.5 L118.84 106.54 L119.97 106.59 L121.1 106.63 L122.23 106.68 L123.37 106.72 L124.5 106.75 L125.63 106.78 L126.76 106.79 L127.9 106.8 L129.03 106.78 L130.16 106.75 L131.3 106.69 L132.43 106.6 L133.56 106.47 L134.69 106.31 L135.83 106.1 L136.96 105.85 L138.09 105.57 L139.22 105.25 L140.36 104.9 L141.49 104.53 L142.62 104.17 L143.76 103.83 L144.89 103.52 L146.02 103.27 L147.15 103.09 L148.29 102.99 L149.42 102.99 L150.55 103.07 L151.68 103.22 L152.82 103.41 L153.95 103.66 L155.08 103.95 L156.21 104.28 L157.35 104.64 L158.48 105.02 L159.61 105.42 L160.75 105.82 L161.88 106.22 L163.01 106.62 L164.14 107 L165.28 107.37 L166.41 107.71 L167.54 108.04 L168.67 108.33 L169.81 108.61 L170.94 108.88 L172.07 109.13 L173.2 109.36 L174.34 109.58 L175.47 109.78 L176.6 109.96 L177.74 110.13 L178.87 110.29 L180 110.43 L181.13 110.56 L182.27 110.68 L183.4 110.78 L184.53 110.88 L185.66 110.98 L186.8 111.08 L187.93 111.17 L189.06 111.27 L190.2 111.35 L191.33 111.43 L192.46 111.5 L193.59 111.56 L194.73 111.61 L195.86 111.64 L197.42 111.66" fill="none" stroke="url(#g6)" stroke-width="0.85" stroke-linejoin="round"/>
<path d="M65.59 80.24 L65.88 79.26 L66.17 78.16 L66.46 76.96 L66.75 75.69 L67.04 74.39 L67.33 73.06 L67.62 71.64 L67.91 70.1 L68.2 68.5 L68.49 66.92 L68.78 65.44 L69.07 64.13 L69.36 62.98 L69.65 61.92 L69.94 60.93 L70.23 59.98 L70.52 59.05 L70.81 58.12 L71.1 57.14 L71.39 56.18 L71.68 55.35 L71.97 54.71 L72.26 54.13 L72.55 53.81 L72.84 54.1 L73.13 54.93 L73.42 55.6 L73.71 56.03 L74 56.21 L74.29 56.07 L74.58 55.97 L74.87 56.55 L75.16 57.69 L75.45 58.95 L75.74 60.7 L76.03 63.62 L76.32 68.37 L76.61 73.41 L76.9 78.99 L77.19 85.58 L77.48 92.53 L77.77 97.11 L78.06 100.48 L78.35 102.96 L78.64 104.95 L78.93 106.81 L79.22 108.22 L79.51 108.97 L79.8 109.52 L80.09 109.91 L80.38 110.17 L80.68 110.38 L80.97 110.55 L81.26 110.69 L81.55 110.82 L81.84 110.93 L82.13 111.04 L82.42 111.13 L82.71 111.19 L83 111.22 L83.29 111.25 L83.58 111.28 L83.69 111.29 L84.85 111.4 L86.01 111.49 L87.17 111.58 L88.33 111.67 L89.49 111.75 L90.65 111.84 L91.81 111.93 L92.98 112.03 L94.14 112.14 L95.3 112.26 L96.46 112.37 L97.62 112.49 L98.78 112.6 L99.94 112.71 L101.1 112.8 L102.26 112.89 L103.42 112.96 L104.58 113.03 L105.74 113.1 L106.9 113.16 L108.06 113.22 L109.22 113.28 L110.38 113.33 L111.54 113.38 L112.7 113.44 L113.86 113.48 L115.02 113.53 L116.18 113.58 L117.34 113.62 L118.5 113.66 L119.66 113.7 L120.83 113.72 L121.99 113.73 L123.15 113.73 L124.31 113.71 L125.47 113.66 L126.63 113.58 L127.79 113.46 L128.95 113.3 L130.11 113.09 L131.27 112.83 L132.43 112.51 L133.59 112.15 L134.75 111.76 L135.91 111.33 L137.07 110.89 L138.23 110.46 L139.39 110.06 L140.55 109.72 L141.71 109.46 L142.87 109.29 L144.03 109.24 L145.19 109.3 L146.35 109.44 L147.51 109.64 L148.68 109.91 L149.84 110.23 L151 110.6 L152.16 111.01 L153.32 111.44 L154.48 111.9 L155.64 112.36 L156.8 112.82 L157.96 113.27 L159.12 113.71 L160.28 114.12 L161.44 114.51 L162.6 114.87 L163.76 115.2 L164.92 115.51 L166.08 115.79 L167.24 116.05 L168.4 116.29 L169.56 116.52 L170.72 116.73 L171.88 116.93 L173.04 117.11 L174.2 117.28 L175.36 117.43 L176.52 117.57 L177.69 117.7 L178.85 117.81 L180.01 117.91 L181.17 118.01 L182.33 118.11 L183.49 118.21 L184.65 118.31 L185.81 118.4 L186.97 118.49 L188.13 118.57 L189.29 118.64 L190.45 118.7 L191.61 118.74 L192.77 118.78 L194.37 118.79 L194.37 120.9 L65.59 120.9 Z" fill="#ffffff" stroke="none"/>
<path d="M65.59 80.24 L65.88 79.26 L66.17 78.16 L66.46 76.96 L66.75 75.69 L67.04 74.39 L67.33 73.06 L67.62 71.64 L67.91 70.1 L68.2 68.5 L68.49 66.92 L68.78 65.44 L69.07 64.13 L69.36 62.98 L69.65 61.92 L69.94 60.93 L70.23 59.98 L70.52 59.05 L70.81 58.12 L71.1 57.14 L71.39 56.18 L71.68 55.35 L71.97 54.71 L72.26 54.13 L72.55 53.81 L72.84 54.1 L73.13 54.93 L73.42 55.6 L73.71 56.03 L74 56.21 L74.29 56.07 L74.58 55.97 L74.87 56.55 L75.16 57.69 L75.45 58.95 L75.74 60.7 L76.03 63.62 L76.32 68.37 L76.61 73.41 L76.9 78.99 L77.19 85.58 L77.48 92.53 L77.77 97.11 L78.06 100.48 L78.35 102.96 L78.64 104.95 L78.93 106.81 L79.22 108.22 L79.51 108.97 L79.8 109.52 L80.09 109.91 L80.38 110.17 L80.68 110.38 L80.97 110.55 L81.26 110.69 L81.55 110.82 L81.84 110.93 L82.13 111.04 L82.42 111.13 L82.71 111.19 L83 111.22 L83.29 111.25 L83.58 111.28 L83.69 111.29 L84.85 111.4 L86.01 111.49 L87.17 111.58 L88.33 111.67 L89.49 111.75 L90.65 111.84 L91.81 111.93 L92.98 112.03 L94.14 112.14 L95.3 112.26 L96.46 112.37 L97.62 112.49 L98.78 112.6 L99.94 112.71 L101.1 112.8 L102.26 112.89 L103.42 112.96 L104.58 113.03 L105.74 113.1 L106.9 113.16 L108.06 113.22 L109.22 113.28 L110.38 113.33 L111.54 113.38 L112.7 113.44 L113.86 113.48 L115.02 113.53 L116.18 113.58 L117.34 113.62 L118.5 113.66 L119.66 113.7 L120.83 113.72 L121.99 113.73 L123.15 113.73 L124.31 113.71 L125.47 113.66 L126.63 113.58 L127.79 113.46 L128.95 113.3 L130.11 113.09 L131.27 112.83 L132.43 112.51 L133.59 112.15 L134.75 111.76 L135.91 111.33 L137.07 110.89 L138.23 110.46 L139.39 110.06 L140.55 109.72 L141.71 109.46 L142.87 109.29 L144.03 109.24 L145.19 109.3 L146.35 109.44 L147.51 109.64 L148.68 109.91 L149.84 110.23 L151 110.6 L152.16 111.01 L153.32 111.44 L154.48 111.9 L155.64 112.36 L156.8 112.82 L157.96 113.27 L159.12 113.71 L160.28 114.12 L161.44 114.51 L162.6 114.87 L163.76 115.2 L164.92 115.51 L166.08 115.79 L167.24 116.05 L168.4 116.29 L169.56 116.52 L170.72 116.73 L171.88 116.93 L173.04 117.11 L174.2 117.28 L175.36 117.43 L176.52 117.57 L177.69 117.7 L178.85 117.81 L180.01 117.91 L181.17 118.01 L182.33 118.11 L183.49 118.21 L184.65 118.31 L185.81 118.4 L186.97 118.49 L188.13 118.57 L189.29 118.64 L190.45 118.7 L191.61 118.74 L192.77 118.78 L194.37 118.79" fill="none" stroke="url(#g5)" stroke-width="0.85" stroke-linejoin="round"/>
<path d="M59.44 86.58 L59.74 85.57 L60.04 84.45 L60.33 83.23 L60.63 81.94 L60.93 80.6 L61.22 79.25 L61.52 77.81 L61.82 76.23 L62.12 74.6 L62.41 72.99 L62.71 71.48 L63.01 70.14 L63.3 68.97 L63.6 67.89 L63.9 66.88 L64.19 65.91 L64.49 64.96 L64.79 64.01 L65.09 63.02 L65.38 62.03 L65.68 61.19 L65.98 60.54 L66.27 59.94 L66.57 59.62 L66.87 59.91 L67.17 60.76 L67.46 61.44 L67.76 61.88 L68.06 62.07 L68.35 61.92 L68.65 61.82 L68.95 62.41 L69.24 63.57 L69.54 64.86 L69.84 66.65 L70.14 69.62 L70.43 74.47 L70.73 79.61 L71.03 85.3 L71.32 92.01 L71.62 99.11 L71.92 103.78 L72.22 107.22 L72.51 109.74 L72.81 111.78 L73.11 113.67 L73.4 115.11 L73.7 115.87 L74 116.43 L74.29 116.84 L74.59 117.1 L74.89 117.31 L75.19 117.48 L75.48 117.63 L75.78 117.76 L76.08 117.88 L76.37 117.99 L76.67 118.08 L76.97 118.14 L77.27 118.17 L77.56 118.2 L77.86 118.23 L77.98 118.24 L79.17 118.35 L80.35 118.45 L81.54 118.54 L82.73 118.63 L83.92 118.72 L85.11 118.81 L86.3 118.9 L87.48 119 L88.67 119.11 L89.86 119.22 L91.05 119.34 L92.24 119.46 L93.43 119.57 L94.61 119.68 L95.8 119.77 L96.99 119.86 L98.18 119.94 L99.37 120.01 L100.55 120.07 L101.74 120.14 L102.93 120.2 L104.12 120.26 L105.31 120.31 L106.5 120.37 L107.68 120.42 L108.87 120.47 L110.06 120.52 L111.25 120.56 L112.44 120.61 L113.63 120.65 L114.81 120.69 L116 120.71 L117.19 120.72 L118.38 120.72 L119.57 120.69 L120.75 120.63 L121.94 120.55 L123.13 120.42 L124.32 120.25 L125.51 120.03 L126.7 119.75 L127.88 119.43 L129.07 119.07 L130.26 118.66 L131.45 118.24 L132.64 117.81 L133.83 117.4 L135.01 117.04 L136.2 116.74 L137.39 116.52 L138.58 116.42 L139.77 116.43 L140.95 116.53 L142.14 116.7 L143.33 116.94 L144.52 117.24 L145.71 117.58 L146.9 117.97 L148.08 118.4 L149.27 118.84 L150.46 119.29 L151.65 119.75 L152.84 120.2 L154.03 120.64 L155.21 121.06 L156.4 121.45 L157.59 121.82 L158.78 122.16 L159.97 122.47 L161.15 122.75 L162.34 123.01 L163.53 123.25 L164.72 123.48 L165.91 123.7 L167.1 123.9 L168.28 124.08 L169.47 124.26 L170.66 124.42 L171.85 124.57 L173.04 124.71 L174.23 124.84 L175.41 124.95 L176.6 125.05 L177.79 125.15 L178.98 125.25 L180.17 125.35 L181.35 125.45 L182.54 125.55 L183.73 125.63 L184.92 125.72 L186.11 125.79 L187.3 125.85 L188.48 125.9 L189.67 125.93 L191.31 125.95 L191.31 128.08 L59.44 128.08 Z" fill="#ffffff" stroke="none"/>
<path d="M59.44 86.58 L59.74 85.57 L60.04 84.45 L60.33 83.23 L60.63 81.94 L60.93 80.6 L61.22 79.25 L61.52 77.81 L61.82 76.23 L62.12 74.6 L62.41 72.99 L62.71 71.48 L63.01 70.14 L63.3 68.97 L63.6 67.89 L63.9 66.88 L64.19 65.91 L64.49 64.96 L64.79 64.01 L65.09 63.02 L65.38 62.03 L65.68 61.19 L65.98 60.54 L66.27 59.94 L66.57 59.62 L66.87 59.91 L67.17 60.76 L67.46 61.44 L67.76 61.88 L68.06 62.07 L68.35 61.92 L68.65 61.82 L68.95 62.41 L69.24 63.57 L69.54 64.86 L69.84 66.65 L70.14 69.62 L70.43 74.47 L70.73 79.61 L71.03 85.3 L71.32 92.01 L71.62 99.11 L71.92 103.78 L72.22 107.22 L72.51 109.74 L72.81 111.78 L73.11 113.67 L73.4 115.11 L73.7 115.87 L74 116.43 L74.29 116.84 L74.59 117.1 L74.89 117.31 L75.19 117.48 L75.48 117.63 L75.78 117.76 L76.08 117.88 L76.37 117.99 L76.67 118.08 L76.97 118.14 L77.27 118.17 L77.56 118.2 L77.86 118.23 L77.98 118.24 L79.17 118.35 L80.35 118.45 L81.54 118.54 L82.73 118.63 L83.92 118.72 L85.11 118.81 L86.3 118.9 L87.48 119 L88.67 119.11 L89.86 119.22 L91.05 119.34 L92.24 119.46 L93.43 119.57 L94.61 119.68 L95.8 119.77 L96.99 119.86 L98.18 119.94 L99.37 120.01 L100.55 120.07 L101.74 120.14 L102.93 120.2 L104.12 120.26 L105.31 120.31 L106.5 120.37 L107.68 120.42 L108.87 120.47 L110.06 120.52 L111.25 120.56 L112.44 120.61 L113.63 120.65 L114.81 120.69 L116 120.71 L117.19 120.72 L118.38 120.72 L119.57 120.69 L120.75 120.63 L121.94 120.55 L123.13 120.42 L124.32 120.25 L125.51 120.03 L126.7 119.75 L127.88 119.43 L129.07 119.07 L130.26 118.66 L131.45 118.24 L132.64 117.81 L133.83 117.4 L135.01 117.04 L136.2 116.74 L137.39 116.52 L138.58 116.42 L139.77 116.43 L140.95 116.53 L142.14 116.7 L143.33 116.94 L144.52 117.24 L145.71 117.58 L146.9 117.97 L148.08 118.4 L149.27 118.84 L150.46 119.29 L151.65 119.75 L152.84 120.2 L154.03 120.64 L155.21 121.06 L156.4 121.45 L157.59 121.82 L158.78 122.16 L159.97 122.47 L161.15 122.75 L162.34 123.01 L163.53 123.25 L164.72 123.48 L165.91 123.7 L167.1 123.9 L168.28 124.08 L169.47 124.26 L170.66 124.42 L171.85 124.57 L173.04 124.71 L174.23 124.84 L175.41 124.95 L176.6 125.05 L177.79 125.15 L178.98 125.25 L180.17 125.35 L181.35 125.45 L182.54 125.55 L183.73 125.63 L184.92 125.72 L186.11 125.79 L187.3 125.85 L188.48 125.9 L189.67 125.93 L191.31 125.95" fill="none" stroke="url(#g4)" stroke-width="0.85" stroke-linejoin="round"/>
<path d="M52.09 94.34 L52.39 93.32 L52.7 92.18 L53 90.94 L53.31 89.62 L53.61 88.27 L53.92 86.89 L54.23 85.42 L54.53 83.82 L54.84 82.16 L55.14 80.53 L55.45 78.99 L55.75 77.63 L56.06 76.44 L56.36 75.34 L56.67 74.31 L56.97 73.33 L57.28 72.36 L57.58 71.4 L57.89 70.39 L58.2 69.38 L58.5 68.52 L58.81 67.86 L59.11 67.26 L59.42 66.93 L59.72 67.23 L60.03 68.09 L60.33 68.78 L60.64 69.23 L60.94 69.42 L61.25 69.27 L61.55 69.17 L61.86 69.77 L62.17 70.95 L62.47 72.26 L62.78 74.08 L63.08 77.1 L63.39 82.03 L63.69 87.26 L64 93.04 L64.3 99.87 L64.61 107.09 L64.91 111.84 L65.22 115.34 L65.52 117.91 L65.83 119.97 L66.14 121.9 L66.44 123.36 L66.75 124.13 L67.05 124.71 L67.36 125.12 L67.66 125.39 L67.97 125.6 L68.27 125.78 L68.58 125.93 L68.88 126.06 L69.19 126.18 L69.49 126.3 L69.8 126.39 L70.11 126.45 L70.41 126.48 L70.72 126.51 L71.02 126.54 L71.14 126.56 L72.36 126.67 L73.59 126.77 L74.81 126.86 L76.03 126.95 L77.25 127.04 L78.47 127.14 L79.69 127.23 L80.92 127.34 L82.14 127.45 L83.36 127.57 L84.58 127.69 L85.8 127.81 L87.02 127.93 L88.24 128.04 L89.47 128.14 L90.69 128.23 L91.91 128.31 L93.13 128.38 L94.35 128.45 L95.57 128.52 L96.8 128.58 L98.02 128.64 L99.24 128.7 L100.46 128.75 L101.68 128.81 L102.9 128.86 L104.12 128.91 L105.35 128.95 L106.57 129 L107.79 129.04 L109.01 129.07 L110.23 129.09 L111.45 129.1 L112.67 129.08 L113.9 129.04 L115.12 128.97 L116.34 128.86 L117.56 128.7 L118.78 128.5 L120 128.24 L121.23 127.93 L122.45 127.56 L123.67 127.15 L124.89 126.7 L126.11 126.24 L127.33 125.78 L128.55 125.35 L129.78 124.97 L131 124.68 L132.22 124.48 L133.44 124.4 L134.66 124.45 L135.88 124.58 L137.11 124.79 L138.33 125.06 L139.55 125.39 L140.77 125.78 L141.99 126.2 L143.21 126.66 L144.43 127.14 L145.66 127.62 L146.88 128.11 L148.1 128.59 L149.32 129.05 L150.54 129.48 L151.76 129.89 L152.98 130.27 L154.21 130.62 L155.43 130.94 L156.65 131.23 L157.87 131.49 L159.09 131.74 L160.31 131.97 L161.54 132.19 L162.76 132.4 L163.98 132.59 L165.2 132.77 L166.42 132.93 L167.64 133.09 L168.86 133.23 L170.09 133.36 L171.31 133.48 L172.53 133.58 L173.75 133.68 L174.97 133.78 L176.19 133.89 L177.42 133.99 L178.64 134.09 L179.86 134.18 L181.08 134.26 L182.3 134.33 L183.52 134.4 L184.74 134.45 L185.97 134.48 L187.65 134.5 L187.65 136.67 L52.09 136.67 Z" fill="#ffffff" stroke="none"/>
<path d="M52.09 94.34 L52.39 93.32 L52.7 92.18 L53 90.94 L53.31 89.62 L53.61 88.27 L53.92 86.89 L54.23 85.42 L54.53 83.82 L54.84 82.16 L55.14 80.53 L55.45 78.99 L55.75 77.63 L56.06 76.44 L56.36 75.34 L56.67 74.31 L56.97 73.33 L57.28 72.36 L57.58 71.4 L57.89 70.39 L58.2 69.38 L58.5 68.52 L58.81 67.86 L59.11 67.26 L59.42 66.93 L59.72 67.23 L60.03 68.09 L60.33 68.78 L60.64 69.23 L60.94 69.42 L61.25 69.27 L61.55 69.17 L61.86 69.77 L62.17 70.95 L62.47 72.26 L62.78 74.08 L63.08 77.1 L63.39 82.03 L63.69 87.26 L64 93.04 L64.3 99.87 L64.61 107.09 L64.91 111.84 L65.22 115.34 L65.52 117.91 L65.83 119.97 L66.14 121.9 L66.44 123.36 L66.75 124.13 L67.05 124.71 L67.36 125.12 L67.66 125.39 L67.97 125.6 L68.27 125.78 L68.58 125.93 L68.88 126.06 L69.19 126.18 L69.49 126.3 L69.8 126.39 L70.11 126.45 L70.41 126.48 L70.72 126.51 L71.02 126.54 L71.14 126.56 L72.36 126.67 L73.59 126.77 L74.81 126.86 L76.03 126.95 L77.25 127.04 L78.47 127.14 L79.69 127.23 L80.92 127.34 L82.14 127.45 L83.36 127.57 L84.58 127.69 L85.8 127.81 L87.02 127.93 L88.24 128.04 L89.47 128.14 L90.69 128.23 L91.91 128.31 L93.13 128.38 L94.35 128.45 L95.57 128.52 L96.8 128.58 L98.02 128.64 L99.24 128.7 L100.46 128.75 L101.68 128.81 L102.9 128.86 L104.12 128.91 L105.35 128.95 L106.57 129 L107.79 129.04 L109.01 129.07 L110.23 129.09 L111.45 129.1 L112.67 129.08 L113.9 129.04 L115.12 128.97 L116.34 128.86 L117.56 128.7 L118.78 128.5 L120 128.24 L121.23 127.93 L122.45 127.56 L123.67 127.15 L124.89 126.7 L126.11 126.24 L127.33 125.78 L128.55 125.35 L129.78 124.97 L131 124.68 L132.22 124.48 L133.44 124.4 L134.66 124.45 L135.88 124.58 L137.11 124.79 L138.33 125.06 L139.55 125.39 L140.77 125.78 L141.99 126.2 L143.21 126.66 L144.43 127.14 L145.66 127.62 L146.88 128.11 L148.1 128.59 L149.32 129.05 L150.54 129.48 L151.76 129.89 L152.98 130.27 L154.21 130.62 L155.43 130.94 L156.65 131.23 L157.87 131.49 L159.09 131.74 L160.31 131.97 L161.54 132.19 L162.76 132.4 L163.98 132.59 L165.2 132.77 L166.42 132.93 L167.64 133.09 L168.86 133.23 L170.09 133.36 L171.31 133.48 L172.53 133.58 L173.75 133.68 L174.97 133.78 L176.19 133.89 L177.42 133.99 L178.64 134.09 L179.86 134.18 L181.08 134.26 L182.3 134.33 L183.52 134.4 L184.74 134.45 L185.97 134.48 L187.65 134.5" fill="none" stroke="url(#g3)" stroke-width="0.85" stroke-linejoin="round"/>
<path d="M45.9 100.99 L46.21 99.96 L46.53 98.8 L46.84 97.55 L47.15 96.22 L47.46 94.85 L47.78 93.46 L48.09 91.98 L48.4 90.36 L48.71 88.68 L49.02 87.03 L49.34 85.48 L49.65 84.11 L49.96 82.91 L50.27 81.8 L50.59 80.75 L50.9 79.76 L51.21 78.78 L51.52 77.81 L51.84 76.79 L52.15 75.77 L52.46 74.9 L52.77 74.24 L53.09 73.62 L53.4 73.29 L53.71 73.6 L54.02 74.47 L54.34 75.17 L54.65 75.62 L54.96 75.81 L55.27 75.66 L55.58 75.55 L55.9 76.16 L56.21 77.36 L56.52 78.68 L56.83 80.51 L57.15 83.57 L57.46 88.55 L57.77 93.84 L58.08 99.68 L58.4 106.58 L58.71 113.87 L59.02 118.67 L59.33 122.2 L59.65 124.8 L59.96 126.89 L60.27 128.84 L60.58 130.32 L60.9 131.1 L61.21 131.68 L61.52 132.09 L61.83 132.37 L62.14 132.58 L62.46 132.76 L62.77 132.91 L63.08 133.05 L63.39 133.17 L63.71 133.28 L64.02 133.38 L64.33 133.44 L64.64 133.48 L64.96 133.51 L65.27 133.54 L65.39 133.55 L66.64 133.66 L67.89 133.77 L69.14 133.86 L70.39 133.96 L71.64 134.05 L72.89 134.14 L74.14 134.24 L75.39 134.35 L76.64 134.47 L77.89 134.59 L79.14 134.72 L80.39 134.85 L81.64 134.97 L82.89 135.09 L84.14 135.2 L85.39 135.29 L86.64 135.37 L87.88 135.45 L89.13 135.52 L90.38 135.59 L91.63 135.65 L92.88 135.71 L94.13 135.77 L95.38 135.83 L96.63 135.88 L97.88 135.93 L99.13 135.98 L100.38 136.03 L101.63 136.07 L102.88 136.11 L104.13 136.15 L105.38 136.17 L106.63 136.17 L107.88 136.16 L109.13 136.12 L110.38 136.05 L111.63 135.94 L112.87 135.79 L114.12 135.59 L115.37 135.34 L116.62 135.03 L117.87 134.68 L119.12 134.28 L120.37 133.86 L121.62 133.42 L122.87 132.99 L124.12 132.59 L125.37 132.25 L126.62 131.98 L127.87 131.82 L129.12 131.77 L130.37 131.83 L131.62 131.98 L132.87 132.19 L134.12 132.47 L135.37 132.8 L136.62 133.18 L137.87 133.6 L139.11 134.04 L140.36 134.5 L141.61 134.97 L142.86 135.44 L144.11 135.9 L145.36 136.34 L146.61 136.76 L147.86 137.15 L149.11 137.51 L150.36 137.85 L151.61 138.15 L152.86 138.43 L154.11 138.68 L155.36 138.92 L156.61 139.15 L157.86 139.36 L159.11 139.56 L160.36 139.75 L161.61 139.93 L162.86 140.1 L164.1 140.25 L165.35 140.4 L166.6 140.53 L167.85 140.64 L169.1 140.75 L170.35 140.85 L171.6 140.96 L172.85 141.06 L174.1 141.16 L175.35 141.26 L176.6 141.36 L177.85 141.44 L179.1 141.52 L180.35 141.58 L181.6 141.63 L182.85 141.67 L184.57 141.69 L184.57 143.9 L45.9 143.9 Z" fill="#ffffff" stroke="none"/>
<path d="M45.9 100.99 L46.21 99.96 L46.53 98.8 L46.84 97.55 L47.15 96.22 L47.46 94.85 L47.78 93.46 L48.09 91.98 L48.4 90.36 L48.71 88.68 L49.02 87.03 L49.34 85.48 L49.65 84.11 L49.96 82.91 L50.27 81.8 L50.59 80.75 L50.9 79.76 L51.21 78.78 L51.52 77.81 L51.84 76.79 L52.15 75.77 L52.46 74.9 L52.77 74.24 L53.09 73.62 L53.4 73.29 L53.71 73.6 L54.02 74.47 L54.34 75.17 L54.65 75.62 L54.96 75.81 L55.27 75.66 L55.58 75.55 L55.9 76.16 L56.21 77.36 L56.52 78.68 L56.83 80.51 L57.15 83.57 L57.46 88.55 L57.77 93.84 L58.08 99.68 L58.4 106.58 L58.71 113.87 L59.02 118.67 L59.33 122.2 L59.65 124.8 L59.96 126.89 L60.27 128.84 L60.58 130.32 L60.9 131.1 L61.21 131.68 L61.52 132.09 L61.83 132.37 L62.14 132.58 L62.46 132.76 L62.77 132.91 L63.08 133.05 L63.39 133.17 L63.71 133.28 L64.02 133.38 L64.33 133.44 L64.64 133.48 L64.96 133.51 L65.27 133.54 L65.39 133.55 L66.64 133.66 L67.89 133.77 L69.14 133.86 L70.39 133.96 L71.64 134.05 L72.89 134.14 L74.14 134.24 L75.39 134.35 L76.64 134.47 L77.89 134.59 L79.14 134.72 L80.39 134.85 L81.64 134.97 L82.89 135.09 L84.14 135.2 L85.39 135.29 L86.64 135.37 L87.88 135.45 L89.13 135.52 L90.38 135.59 L91.63 135.65 L92.88 135.71 L94.13 135.77 L95.38 135.83 L96.63 135.88 L97.88 135.93 L99.13 135.98 L100.38 136.03 L101.63 136.07 L102.88 136.11 L104.13 136.15 L105.38 136.17 L106.63 136.17 L107.88 136.16 L109.13 136.12 L110.38 136.05 L111.63 135.94 L112.87 135.79 L114.12 135.59 L115.37 135.34 L116.62 135.03 L117.87 134.68 L119.12 134.28 L120.37 133.86 L121.62 133.42 L122.87 132.99 L124.12 132.59 L125.37 132.25 L126.62 131.98 L127.87 131.82 L129.12 131.77 L130.37 131.83 L131.62 131.98 L132.87 132.19 L134.12 132.47 L135.37 132.8 L136.62 133.18 L137.87 133.6 L139.11 134.04 L140.36 134.5 L141.61 134.97 L142.86 135.44 L144.11 135.9 L145.36 136.34 L146.61 136.76 L147.86 137.15 L149.11 137.51 L150.36 137.85 L151.61 138.15 L152.86 138.43 L154.11 138.68 L155.36 138.92 L156.61 139.15 L157.86 139.36 L159.11 139.56 L160.36 139.75 L161.61 139.93 L162.86 140.1 L164.1 140.25 L165.35 140.4 L166.6 140.53 L167.85 140.64 L169.1 140.75 L170.35 140.85 L171.6 140.96 L172.85 141.06 L174.1 141.16 L175.35 141.26 L176.6 141.36 L177.85 141.44 L179.1 141.52 L180.35 141.58 L181.6 141.63 L182.85 141.67 L184.57 141.69" fill="none" stroke="url(#g2)" stroke-width="0.85" stroke-linejoin="round"/>
<path d="M38.98 108.55 L39.3 107.51 L39.62 106.34 L39.94 105.08 L40.26 103.74 L40.58 102.36 L40.9 100.96 L41.22 99.46 L41.54 97.83 L41.86 96.14 L42.18 94.48 L42.5 92.91 L42.82 91.53 L43.14 90.32 L43.46 89.2 L43.78 88.15 L44.1 87.15 L44.42 86.16 L44.75 85.18 L45.07 84.15 L45.39 83.13 L45.71 82.26 L46.03 81.58 L46.35 80.97 L46.67 80.63 L46.99 80.94 L47.31 81.81 L47.63 82.52 L47.95 82.97 L48.27 83.17 L48.59 83.02 L48.91 82.91 L49.23 83.53 L49.55 84.73 L49.87 86.06 L50.19 87.91 L50.51 90.99 L50.83 96.01 L51.15 101.34 L51.47 107.22 L51.79 114.18 L52.11 121.53 L52.43 126.36 L52.75 129.93 L53.07 132.54 L53.39 134.65 L53.71 136.61 L54.03 138.1 L54.35 138.89 L54.67 139.48 L54.99 139.9 L55.31 140.17 L55.63 140.39 L55.95 140.57 L56.27 140.73 L56.59 140.86 L56.91 140.99 L57.23 141.1 L57.55 141.2 L57.87 141.26 L58.19 141.3 L58.51 141.33 L58.83 141.36 L58.96 141.37 L60.24 141.49 L61.52 141.59 L62.8 141.69 L64.09 141.79 L65.37 141.88 L66.65 141.98 L67.93 142.08 L69.21 142.2 L70.49 142.32 L71.77 142.45 L73.05 142.59 L74.33 142.73 L75.61 142.86 L76.89 142.99 L78.17 143.1 L79.46 143.2 L80.74 143.29 L82.02 143.36 L83.3 143.44 L84.58 143.51 L85.86 143.57 L87.14 143.64 L88.42 143.69 L89.7 143.75 L90.98 143.81 L92.26 143.86 L93.54 143.91 L94.83 143.96 L96.11 144 L97.39 144.05 L98.67 144.08 L99.95 144.1 L101.23 144.1 L102.51 144.09 L103.79 144.04 L105.07 143.97 L106.35 143.85 L107.63 143.69 L108.91 143.48 L110.2 143.22 L111.48 142.91 L112.76 142.54 L114.04 142.14 L115.32 141.71 L116.6 141.27 L117.88 140.84 L119.16 140.44 L120.44 140.11 L121.72 139.86 L123 139.71 L124.28 139.67 L125.57 139.76 L126.85 139.91 L128.13 140.14 L129.41 140.42 L130.69 140.77 L131.97 141.15 L133.25 141.58 L134.53 142.03 L135.81 142.5 L137.09 142.98 L138.37 143.45 L139.65 143.91 L140.94 144.35 L142.22 144.76 L143.5 145.16 L144.78 145.52 L146.06 145.85 L147.34 146.15 L148.62 146.43 L149.9 146.68 L151.18 146.92 L152.46 147.15 L153.74 147.36 L155.02 147.57 L156.31 147.76 L157.59 147.93 L158.87 148.1 L160.15 148.26 L161.43 148.4 L162.71 148.53 L163.99 148.65 L165.27 148.76 L166.55 148.86 L167.83 148.97 L169.11 149.08 L170.39 149.18 L171.68 149.29 L172.96 149.38 L174.24 149.47 L175.52 149.55 L176.8 149.61 L178.08 149.67 L179.36 149.7 L181.12 149.72 L181.12 151.98 L38.98 151.98 Z" fill="#ffffff" stroke="none"/>
<path d="M38.98 108.55 L39.3 107.51 L39.62 106.34 L39.94 105.08 L40.26 103.74 L40.58 102.36 L40.9 100.96 L41.22 99.46 L41.54 97.83 L41.86 96.14 L42.18 94.48 L42.5 92.91 L42.82 91.53 L43.14 90.32 L43.46 89.2 L43.78 88.15 L44.1 87.15 L44.42 86.16 L44.75 85.18 L45.07 84.15 L45.39 83.13 L45.71 82.26 L46.03 81.58 L46.35 80.97 L46.67 80.63 L46.99 80.94 L47.31 81.81 L47.63 82.52 L47.95 82.97 L48.27 83.17 L48.59 83.02 L48.91 82.91 L49.23 83.53 L49.55 84.73 L49.87 86.06 L50.19 87.91 L50.51 90.99 L50.83 96.01 L51.15 101.34 L51.47 107.22 L51.79 114.18 L52.11 121.53 L52.43 126.36 L52.75 129.93 L53.07 132.54 L53.39 134.65 L53.71 136.61 L54.03 138.1 L54.35 138.89 L54.67 139.48 L54.99 139.9 L55.31 140.17 L55.63 140.39 L55.95 140.57 L56.27 140.73 L56.59 140.86 L56.91 140.99 L57.23 141.1 L57.55 141.2 L57.87 141.26 L58.19 141.3 L58.51 141.33 L58.83 141.36 L58.96 141.37 L60.24 141.49 L61.52 141.59 L62.8 141.69 L64.09 141.79 L65.37 141.88 L66.65 141.98 L67.93 142.08 L69.21 142.2 L70.49 142.32 L71.77 142.45 L73.05 142.59 L74.33 142.73 L75.61 142.86 L76.89 142.99 L78.17 143.1 L79.46 143.2 L80.74 143.29 L82.02 143.36 L83.3 143.44 L84.58 143.51 L85.86 143.57 L87.14 143.64 L88.42 143.69 L89.7 143.75 L90.98 143.81 L92.26 143.86 L93.54 143.91 L94.83 143.96 L96.11 144 L97.39 144.05 L98.67 144.08 L99.95 144.1 L101.23 144.1 L102.51 144.09 L103.79 144.04 L105.07 143.97 L106.35 143.85 L107.63 143.69 L108.91 143.48 L110.2 143.22 L111.48 142.91 L112.76 142.54 L114.04 142.14 L115.32 141.71 L116.6 141.27 L117.88 140.84 L119.16 140.44 L120.44 140.11 L121.72 139.86 L123 139.71 L124.28 139.67 L125.57 139.76 L126.85 139.91 L128.13 140.14 L129.41 140.42 L130.69 140.77 L131.97 141.15 L133.25 141.58 L134.53 142.03 L135.81 142.5 L137.09 142.98 L138.37 143.45 L139.65 143.91 L140.94 144.35 L142.22 144.76 L143.5 145.16 L144.78 145.52 L146.06 145.85 L147.34 146.15 L148.62 146.43 L149.9 146.68 L151.18 146.92 L152.46 147.15 L153.74 147.36 L155.02 147.57 L156.31 147.76 L157.59 147.93 L158.87 148.1 L160.15 148.26 L161.43 148.4 L162.71 148.53 L163.99 148.65 L165.27 148.76 L166.55 148.86 L167.83 148.97 L169.11 149.08 L170.39 149.18 L171.68 149.29 L172.96 149.38 L174.24 149.47 L175.52 149.55 L176.8 149.61 L178.08 149.67 L179.36 149.7 L181.12 149.72" fill="none" stroke="url(#g1)" stroke-width="0.85" stroke-linejoin="round"/>
<path d="M32.52 116.35 L32.85 115.32 L33.17 114.18 L33.5 112.93 L33.83 111.62 L34.16 110.26 L34.48 108.88 L34.81 107.41 L35.14 105.81 L35.47 104.15 L35.8 102.51 L36.12 100.97 L36.45 99.61 L36.78 98.42 L37.11 97.32 L37.43 96.29 L37.76 95.3 L38.09 94.33 L38.42 93.36 L38.74 92.35 L39.07 91.35 L39.4 90.49 L39.73 89.82 L40.05 89.22 L40.38 88.89 L40.71 89.19 L41.04 90.05 L41.36 90.75 L41.69 91.19 L42.02 91.38 L42.35 91.24 L42.67 91.13 L43 91.74 L43.33 92.92 L43.66 94.24 L43.98 96.05 L44.31 99.08 L44.64 104.02 L44.97 109.26 L45.29 115.05 L45.62 121.9 L45.95 129.12 L46.28 133.88 L46.6 137.39 L46.93 139.96 L47.26 142.03 L47.59 143.97 L47.91 145.44 L48.24 146.21 L48.57 146.79 L48.9 147.2 L49.22 147.48 L49.55 147.69 L49.88 147.88 L50.21 148.03 L50.53 148.16 L50.86 148.29 L51.19 148.4 L51.52 148.5 L51.84 148.57 L52.17 148.6 L52.5 148.63 L52.83 148.67 L52.96 148.68 L54.27 148.8 L55.58 148.9 L56.89 149 L58.2 149.1 L59.51 149.2 L60.82 149.3 L62.13 149.4 L63.44 149.52 L64.75 149.65 L66.06 149.8 L67.37 149.94 L68.68 150.09 L69.99 150.24 L71.3 150.37 L72.61 150.5 L73.92 150.6 L75.23 150.69 L76.54 150.77 L77.85 150.85 L79.16 150.92 L80.47 150.98 L81.78 151.05 L83.09 151.11 L84.4 151.17 L85.71 151.22 L87.02 151.28 L88.33 151.33 L89.64 151.38 L90.95 151.42 L92.26 151.47 L93.57 151.5 L94.88 151.52 L96.19 151.53 L97.5 151.51 L98.81 151.47 L100.12 151.4 L101.43 151.29 L102.74 151.13 L104.05 150.93 L105.36 150.68 L106.67 150.37 L107.98 150.02 L109.29 149.63 L110.6 149.22 L111.91 148.8 L113.22 148.39 L114.53 148.02 L115.84 147.71 L117.15 147.48 L118.46 147.35 L119.77 147.33 L121.08 147.42 L122.39 147.58 L123.7 147.8 L125.01 148.09 L126.32 148.42 L127.63 148.81 L128.94 149.22 L130.25 149.67 L131.56 150.12 L132.87 150.58 L134.18 151.04 L135.49 151.48 L136.8 151.91 L138.11 152.31 L139.42 152.69 L140.73 153.04 L142.04 153.37 L143.35 153.66 L144.66 153.93 L145.97 154.18 L147.28 154.41 L148.59 154.63 L149.9 154.84 L151.21 155.04 L152.52 155.23 L153.83 155.41 L155.14 155.57 L156.45 155.73 L157.76 155.88 L159.07 156.01 L160.38 156.13 L161.69 156.23 L163 156.34 L164.31 156.45 L165.62 156.56 L166.93 156.67 L168.24 156.77 L169.55 156.87 L170.86 156.96 L172.17 157.04 L173.48 157.11 L174.79 157.16 L176.1 157.2 L177.9 157.22 L177.9 159.53 L32.52 159.53 Z" fill="#ffffff" stroke="none"/>
<path d="M32.52 116.35 L32.85 115.32 L33.17 114.18 L33.5 112.93 L33.83 111.62 L34.16 110.26 L34.48 108.88 L34.81 107.41 L35.14 105.81 L35.47 104.15 L35.8 102.51 L36.12 100.97 L36.45 99.61 L36.78 98.42 L37.11 97.32 L37.43 96.29 L37.76 95.3 L38.09 94.33 L38.42 93.36 L38.74 92.35 L39.07 91.35 L39.4 90.49 L39.73 89.82 L40.05 89.22 L40.38 88.89 L40.71 89.19 L41.04 90.05 L41.36 90.75 L41.69 91.19 L42.02 91.38 L42.35 91.24 L42.67 91.13 L43 91.74 L43.33 92.92 L43.66 94.24 L43.98 96.05 L44.31 99.08 L44.64 104.02 L44.97 109.26 L45.29 115.05 L45.62 121.9 L45.95 129.12 L46.28 133.88 L46.6 137.39 L46.93 139.96 L47.26 142.03 L47.59 143.97 L47.91 145.44 L48.24 146.21 L48.57 146.79 L48.9 147.2 L49.22 147.48 L49.55 147.69 L49.88 147.88 L50.21 148.03 L50.53 148.16 L50.86 148.29 L51.19 148.4 L51.52 148.5 L51.84 148.57 L52.17 148.6 L52.5 148.63 L52.83 148.67 L52.96 148.68 L54.27 148.8 L55.58 148.9 L56.89 149 L58.2 149.1 L59.51 149.2 L60.82 149.3 L62.13 149.4 L63.44 149.52 L64.75 149.65 L66.06 149.8 L67.37 149.94 L68.68 150.09 L69.99 150.24 L71.3 150.37 L72.61 150.5 L73.92 150.6 L75.23 150.69 L76.54 150.77 L77.85 150.85 L79.16 150.92 L80.47 150.98 L81.78 151.05 L83.09 151.11 L84.4 151.17 L85.71 151.22 L87.02 151.28 L88.33 151.33 L89.64 151.38 L90.95 151.42 L92.26 151.47 L93.57 151.5 L94.88 151.52 L96.19 151.53 L97.5 151.51 L98.81 151.47 L100.12 151.4 L101.43 151.29 L102.74 151.13 L104.05 150.93 L105.36 150.68 L106.67 150.37 L107.98 150.02 L109.29 149.63 L110.6 149.22 L111.91 148.8 L113.22 148.39 L114.53 148.02 L115.84 147.71 L117.15 147.48 L118.46 147.35 L119.77 147.33 L121.08 147.42 L122.39 147.58 L123.7 147.8 L125.01 148.09 L126.32 148.42 L127.63 148.81 L128.94 149.22 L130.25 149.67 L131.56 150.12 L132.87 150.58 L134.18 151.04 L135.49 151.48 L136.8 151.91 L138.11 152.31 L139.42 152.69 L140.73 153.04 L142.04 153.37 L143.35 153.66 L144.66 153.93 L145.97 154.18 L147.28 154.41 L148.59 154.63 L149.9 154.84 L151.21 155.04 L152.52 155.23 L153.83 155.41 L155.14 155.57 L156.45 155.73 L157.76 155.88 L159.07 156.01 L160.38 156.13 L161.69 156.23 L163 156.34 L164.31 156.45 L165.62 156.56 L166.93 156.67 L168.24 156.77 L169.55 156.87 L170.86 156.96 L172.17 157.04 L173.48 157.11 L174.79 157.16 L176.1 157.2 L177.9 157.22" fill="none" stroke="url(#g0)" stroke-width="0.85" stroke-linejoin="round"/>
<line x1="30.3" y1="160.4" x2="30.3" y2="87.52" stroke="#5a5a5a" stroke-width="0.9" />
<line x1="29.9" y1="160" x2="177.2" y2="160" stroke="#4a4a4a" stroke-width="0.9" />
<line x1="176.8" y1="160" x2="221.7" y2="55.3" stroke="#3c3c3c" stroke-width="1" />
<line x1="28.5" y1="155.37" x2="30.3" y2="155.37" stroke="#404040" stroke-width="0.8" />
<line x1="27.3" y1="149.47" x2="30.3" y2="149.47" stroke="#404040" stroke-width="0.8" />
<text x="25.7" y="152.37" font-family='"Liberation Sans", sans-serif' font-size="8" text-anchor="end" fill="#1a1a1a" >0.4</text>
<line x1="28.5" y1="143.57" x2="30.3" y2="143.57" stroke="#404040" stroke-width="0.8" />
<line x1="27.3" y1="137.67" x2="30.3" y2="137.67" stroke="#404040" stroke-width="0.8" />
<text x="25.7" y="140.57" font-family='"Liberation Sans", sans-serif' font-size="8" text-anchor="end" fill="#1a1a1a" >0.8</text>
<line x1="28.5" y1="131.77" x2="30.3" y2="131.77" stroke="#404040" stroke-width="0.8" />
<line x1="27.3" y1="125.87" x2="30.3" y2="125.87" stroke="#404040" stroke-width="0.8" />
<text x="25.7" y="128.77" font-family='"Liberation Sans", sans-serif' font-size="8" text-anchor="end" fill="#1a1a1a" >1.2</text>
<line x1="28.5" y1="119.97" x2="30.3" y2="119.97" stroke="#404040" stroke-width="0.8" />
<line x1="27.3" y1="114.07" x2="30.3" y2="114.07" stroke="#404040" stroke-width="0.8" />
<text x="25.7" y="116.97" font-family='"Liberation Sans", sans-serif' font-size="8" text-anchor="end" fill="#1a1a1a" >1.6</text>
<line x1="28.5" y1="108.17" x2="30.3" y2="108.17" stroke="#404040" stroke-width="0.8" />
<line x1="27.3" y1="102.27" x2="30.3" y2="102.27" stroke="#404040" stroke-width="0.8" />
<text x="25.7" y="105.17" font-family='"Liberation Sans", sans-serif' font-size="8" text-anchor="end" fill="#1a1a1a" >2.0</text>
<line x1="28.5" y1="96.37" x2="30.3" y2="96.37" stroke="#404040" stroke-width="0.8" />
<line x1="27.3" y1="90.47" x2="30.3" y2="90.47" stroke="#404040" stroke-width="0.8" />
<text x="25.7" y="93.37" font-family='"Liberation Sans", sans-serif' font-size="8" text-anchor="end" fill="#1a1a1a" >2.4</text>
<line x1="37.69" y1="160" x2="37.69" y2="161.8" stroke="#404040" stroke-width="0.8" />
<line x1="50.89" y1="160" x2="50.89" y2="163" stroke="#404040" stroke-width="0.8" />
<text x="50.89" y="172" font-family='"Liberation Sans", sans-serif' font-size="8" text-anchor="middle" fill="#1a1a1a" >320</text>
<line x1="64.09" y1="160" x2="64.09" y2="161.8" stroke="#404040" stroke-width="0.8" />
<line x1="77.3" y1="160" x2="77.3" y2="163" stroke="#404040" stroke-width="0.8" />
<text x="77.3" y="172" font-family='"Liberation Sans", sans-serif' font-size="8" text-anchor="middle" fill="#1a1a1a" >400</text>
<line x1="90.5" y1="160" x2="90.5" y2="161.8" stroke="#404040" stroke-width="0.8" />
<line x1="103.7" y1="160" x2="103.7" y2="163" stroke="#404040" stroke-width="0.8" />
<text x="103.7" y="172" font-family='"Liberation Sans", sans-serif' font-size="8" text-anchor="middle" fill="#1a1a1a" >480</text>
<line x1="116.9" y1="160" x2="116.9" y2="161.8" stroke="#404040" stroke-width="0.8" />
<line x1="130.1" y1="160" x2="130.1" y2="163" stroke="#404040" stroke-width="0.8" />
<text x="130.1" y="172" font-family='"Liberation Sans", sans-serif' font-size="8" text-anchor="middle" fill="#1a1a1a" >560</text>
<line x1="143.3" y1="160" x2="143.3" y2="161.8" stroke="#404040" stroke-width="0.8" />
<line x1="156.5" y1="160" x2="156.5" y2="163" stroke="#404040" stroke-width="0.8" />
<text x="156.5" y="172" font-family='"Liberation Sans", sans-serif' font-size="8" text-anchor="middle" fill="#1a1a1a" >640</text>
<line x1="169.7" y1="160" x2="169.7" y2="161.8" stroke="#404040" stroke-width="0.8" />
<line x1="178.08" y1="157.02" x2="179.88" y2="157.02" stroke="#404040" stroke-width="0.8" />
<line x1="180.9" y1="150.44" x2="183.9" y2="150.44" stroke="#404040" stroke-width="0.8" />
<text x="184.1" y="153.6" font-family='"Liberation Sans", sans-serif' font-size="7.49" text-anchor="start" fill="#1a1a1a" >2</text>
<line x1="183.61" y1="144.11" x2="185.41" y2="144.11" stroke="#404040" stroke-width="0.8" />
<line x1="186.23" y1="138.02" x2="189.23" y2="138.02" stroke="#404040" stroke-width="0.8" />
<text x="189.43" y="141.14" font-family='"Liberation Sans", sans-serif' font-size="7.35" text-anchor="start" fill="#1a1a1a" >3</text>
<line x1="188.74" y1="132.16" x2="190.54" y2="132.16" stroke="#404040" stroke-width="0.8" />
<line x1="191.16" y1="126.51" x2="194.16" y2="126.51" stroke="#404040" stroke-width="0.8" />
<text x="194.36" y="129.59" font-family='"Liberation Sans", sans-serif' font-size="7.21" text-anchor="start" fill="#1a1a1a" >4</text>
<line x1="193.5" y1="121.06" x2="195.3" y2="121.06" stroke="#404040" stroke-width="0.8" />
<line x1="195.75" y1="115.8" x2="198.75" y2="115.8" stroke="#404040" stroke-width="0.8" />
<text x="198.95" y="118.84" font-family='"Liberation Sans", sans-serif' font-size="7.09" text-anchor="start" fill="#1a1a1a" >5</text>
<line x1="197.93" y1="110.72" x2="199.73" y2="110.72" stroke="#404040" stroke-width="0.8" />
<line x1="200.03" y1="105.82" x2="203.03" y2="105.82" stroke="#404040" stroke-width="0.8" />
<text x="203.23" y="108.83" font-family='"Liberation Sans", sans-serif' font-size="6.97" text-anchor="start" fill="#1a1a1a" >6</text>
<line x1="202.07" y1="101.08" x2="203.87" y2="101.08" stroke="#404040" stroke-width="0.8" />
<line x1="204.03" y1="96.49" x2="207.03" y2="96.49" stroke="#404040" stroke-width="0.8" />
<text x="207.23" y="99.47" font-family='"Liberation Sans", sans-serif' font-size="6.86" text-anchor="start" fill="#1a1a1a" >7</text>
<line x1="205.94" y1="92.05" x2="207.74" y2="92.05" stroke="#404040" stroke-width="0.8" />
<line x1="207.78" y1="87.76" x2="210.78" y2="87.76" stroke="#404040" stroke-width="0.8" />
<text x="210.98" y="90.7" font-family='"Liberation Sans", sans-serif' font-size="6.76" text-anchor="start" fill="#1a1a1a" >8</text>
<line x1="209.56" y1="83.6" x2="211.36" y2="83.6" stroke="#404040" stroke-width="0.8" />
<line x1="211.29" y1="79.56" x2="214.29" y2="79.56" stroke="#404040" stroke-width="0.8" />
<text x="214.49" y="82.48" font-family='"Liberation Sans", sans-serif' font-size="6.67" text-anchor="start" fill="#1a1a1a" >9</text>
<line x1="212.97" y1="75.65" x2="214.77" y2="75.65" stroke="#404040" stroke-width="0.8" />
<line x1="214.6" y1="71.85" x2="217.6" y2="71.85" stroke="#404040" stroke-width="0.8" />
<text x="217.8" y="74.74" font-family='"Liberation Sans", sans-serif' font-size="6.58" text-anchor="start" fill="#1a1a1a" >10</text>
<line x1="216.18" y1="68.17" x2="217.98" y2="68.17" stroke="#404040" stroke-width="0.8" />
<line x1="217.71" y1="64.59" x2="220.71" y2="64.59" stroke="#404040" stroke-width="0.8" />
<text x="220.91" y="67.46" font-family='"Liberation Sans", sans-serif' font-size="6.49" text-anchor="start" fill="#1a1a1a" >11</text>
<line x1="219.2" y1="61.12" x2="221" y2="61.12" stroke="#404040" stroke-width="0.8" />
<line x1="220.65" y1="57.74" x2="223.65" y2="57.74" stroke="#404040" stroke-width="0.8" />
<text x="223.85" y="60.58" font-family='"Liberation Sans", sans-serif' font-size="6.42" text-anchor="start" fill="#1a1a1a" >12</text>
<text x="104.2" y="184.2" font-family='"Liberation Sans", sans-serif' font-size="9.7" text-anchor="middle" fill="#1a1a1a" >Wavelength, nm</text>
<text transform="translate(11.6,123.6) rotate(-90)" font-family='"Liberation Sans", sans-serif' font-size="10" text-anchor="middle" fill="#1a1a1a">OD</text>
<text transform="translate(228,103.6) rotate(-90) scale(0.64,1)" font-family='"Liberation Sans", sans-serif' font-size="12.4" text-anchor="start" fill="#1a1a1a"><tspan dy="-2.4">p</tspan><tspan dy="2.4">H</tspan></text>
<text x="28.9" y="22.1" font-family='"Liberation Sans", sans-serif' font-size="7.5" fill="#1a1a1a">HEWL (7x10<tspan dy="-2.6" font-size="4.8">4</tspan><tspan dy="2.6"> nM)</tspan></text>
<text x="28.9" y="31.5" font-family='"Liberation Sans", sans-serif' font-size="7.5" text-anchor="start" fill="#1a1a1a" >+ AuNPs (2.2 nM)</text>
<text x="117" y="199.4" font-family='"Liberation Serif", serif' font-size="11.2" text-anchor="middle" fill="#111" font-weight="bold" >(c)</text>
</g>
<g id="panel-d">
<path d="M333.46 150.33 L345.08 150.72 L355.05 150.07 L366.68 148.89 L374.98 149.42 L384.95 149.55 L394.91 150.46 L404.88 149.94 L414.85 150.33 L426.47 149.68 L434.78 150.2 L444.74 149.81 L454.71 149.42 L466.34 149.16 L477.96 149.02 L489.59 149.94 L499.56 149.42" fill="none" stroke="#6cf26c" stroke-width="0.9"/>
<rect x="332.56" y="149.43" width="1.8" height="1.8" fill="#6cf26c"/>
<rect x="344.18" y="149.82" width="1.8" height="1.8" fill="#6cf26c"/>
<rect x="354.15" y="149.17" width="1.8" height="1.8" fill="#6cf26c"/>
<rect x="365.78" y="147.99" width="1.8" height="1.8" fill="#6cf26c"/>
<rect x="374.08" y="148.52" width="1.8" height="1.8" fill="#6cf26c"/>
<rect x="384.05" y="148.65" width="1.8" height="1.8" fill="#6cf26c"/>
<rect x="394.01" y="149.56" width="1.8" height="1.8" fill="#6cf26c"/>
<rect x="403.98" y="149.04" width="1.8" height="1.8" fill="#6cf26c"/>
<rect x="413.95" y="149.43" width="1.8" height="1.8" fill="#6cf26c"/>
<rect x="425.57" y="148.78" width="1.8" height="1.8" fill="#6cf26c"/>
<rect x="433.88" y="149.3" width="1.8" height="1.8" fill="#6cf26c"/>
<rect x="443.84" y="148.91" width="1.8" height="1.8" fill="#6cf26c"/>
<rect x="453.81" y="148.52" width="1.8" height="1.8" fill="#6cf26c"/>
<rect x="465.44" y="148.26" width="1.8" height="1.8" fill="#6cf26c"/>
<rect x="477.06" y="148.12" width="1.8" height="1.8" fill="#6cf26c"/>
<rect x="488.69" y="149.04" width="1.8" height="1.8" fill="#6cf26c"/>
<rect x="498.66" y="148.52" width="1.8" height="1.8" fill="#6cf26c"/>
<path d="M331.8 151.11 L343.42 151.51 L351.73 150.72 L363.35 151.77 L374.98 150.59 L386.61 151.24 L393.25 149.81 L403.22 149.68 L411.52 149.55 L424.81 147.85 L433.12 150.72 L458.03 150.07 L464.68 149.81 L474.64 150.33 L484.61 148.76 L492.91 149.16 L502.88 149.02 L507.86 148.63" fill="none" stroke="#b470f5" stroke-width="0.9"/>
<rect x="330.9" y="150.21" width="1.8" height="1.8" fill="#b470f5"/>
<rect x="342.52" y="150.61" width="1.8" height="1.8" fill="#b470f5"/>
<rect x="350.83" y="149.82" width="1.8" height="1.8" fill="#b470f5"/>
<rect x="362.45" y="150.87" width="1.8" height="1.8" fill="#b470f5"/>
<rect x="374.08" y="149.69" width="1.8" height="1.8" fill="#b470f5"/>
<rect x="385.71" y="150.34" width="1.8" height="1.8" fill="#b470f5"/>
<rect x="392.35" y="148.91" width="1.8" height="1.8" fill="#b470f5"/>
<rect x="402.32" y="148.78" width="1.8" height="1.8" fill="#b470f5"/>
<rect x="410.62" y="148.65" width="1.8" height="1.8" fill="#b470f5"/>
<rect x="423.91" y="146.95" width="1.8" height="1.8" fill="#b470f5"/>
<rect x="432.22" y="149.82" width="1.8" height="1.8" fill="#b470f5"/>
<rect x="457.13" y="149.17" width="1.8" height="1.8" fill="#b470f5"/>
<rect x="463.78" y="148.91" width="1.8" height="1.8" fill="#b470f5"/>
<rect x="473.74" y="149.43" width="1.8" height="1.8" fill="#b470f5"/>
<rect x="483.71" y="147.86" width="1.8" height="1.8" fill="#b470f5"/>
<rect x="492.01" y="148.26" width="1.8" height="1.8" fill="#b470f5"/>
<rect x="501.98" y="148.12" width="1.8" height="1.8" fill="#b470f5"/>
<rect x="506.96" y="147.73" width="1.8" height="1.8" fill="#b470f5"/>
<path d="M332 119.8 L334.23 118.68 L336.46 117.51 L338.68 116.33 L340.91 115.13 L343.14 113.93 L345.37 112.74 L347.59 111.58 L349.82 110.46 L352.05 109.39 L354.28 108.38 L356.51 107.41 L358.73 106.48 L360.96 105.56 L363.19 104.65 L365.42 103.73 L367.65 102.81 L369.87 101.91 L372.1 101.04 L374.33 100.21 L376.56 99.44 L378.78 98.71 L381.01 97.99 L383.24 97.26 L385.47 96.47 L387.7 95.61 L389.92 94.69 L392.15 93.75 L394.38 92.85 L396.61 92 L398.84 91.21 L401.06 90.47 L403.29 89.77 L405.52 89.12 L407.75 88.5 L409.97 87.91 L412.2 87.32 L414.43 86.72 L416.66 86.12 L418.89 85.52 L421.11 84.91 L423.34 84.31 L425.57 83.72 L427.8 83.15 L430.03 82.62 L432.25 82.13 L434.48 81.71 L436.71 81.35 L438.94 81.05 L441.16 80.78 L443.39 80.55 L445.62 80.34 L447.85 80.15 L450.08 79.97 L452.3 79.81 L454.53 79.67 L456.76 79.56 L458.99 79.48 L461.22 79.43 L463.44 79.4 L465.67 79.4 L467.9 79.42 L470.13 79.46 L472.35 79.51 L474.58 79.59 L476.81 79.68 L479.04 79.79 L481.27 79.93 L483.49 80.1 L485.72 80.31 L487.95 80.55 L490.18 80.83 L492.41 81.14 L494.63 81.47 L496.86 81.83 L499.09 82.22 L501.32 82.66 L503.54 83.15 L505.77 83.69 L508 84.3" fill="none" stroke="#b470f5" stroke-width="1.1"/>
<rect x="331" y="118.8" width="2" height="2" fill="#b470f5"/>
<rect x="342" y="113.2" width="2" height="2" fill="#b470f5"/>
<rect x="350.6" y="108.4" width="2" height="2" fill="#b470f5"/>
<rect x="362.3" y="103.8" width="2" height="2" fill="#b470f5"/>
<rect x="374.2" y="99.4" width="2" height="2" fill="#b470f5"/>
<rect x="378.8" y="96.6" width="2" height="2" fill="#b470f5"/>
<rect x="385.2" y="95" width="2" height="2" fill="#b470f5"/>
<rect x="392" y="92.2" width="2" height="2" fill="#b470f5"/>
<rect x="402.2" y="88.6" width="2" height="2" fill="#b470f5"/>
<rect x="412.4" y="86.2" width="2" height="2" fill="#b470f5"/>
<rect x="423.9" y="82.3" width="2" height="2" fill="#b470f5"/>
<rect x="431.9" y="80.2" width="2" height="2" fill="#b470f5"/>
<rect x="457.3" y="78.4" width="2" height="2" fill="#b470f5"/>
<rect x="463.7" y="78" width="2" height="2" fill="#b470f5"/>
<rect x="473.9" y="78.4" width="2" height="2" fill="#b470f5"/>
<rect x="483.6" y="79" width="2" height="2" fill="#b470f5"/>
<rect x="492.5" y="80.6" width="2" height="2" fill="#b470f5"/>
<rect x="501.9" y="82.6" width="2" height="2" fill="#b470f5"/>
<rect x="507" y="84.8" width="2" height="2" fill="#b470f5"/>
<path d="M343 21.6 L344.59 27.4 L346.17 33.08 L347.76 38.64 L349.34 44.09 L350.93 49.44 L352.52 54.7 L354.1 59.85 L355.69 64.87 L357.27 69.72 L358.86 74.38 L360.44 78.82 L362.03 83.01 L363.62 86.94 L365.2 90.63 L366.79 94.06 L368.37 97.22 L369.96 100.13 L371.55 102.79 L373.13 105.21 L374.72 107.4 L376.3 109.36 L377.89 111.11 L379.47 112.65 L381.06 114.01 L382.65 115.2 L384.23 116.23 L385.82 117.11 L387.4 117.85 L388.99 118.48 L390.58 118.98 L392.16 119.37 L393.75 119.66 L395.33 119.85 L396.92 119.95 L398.51 119.97 L400.09 119.91 L401.68 119.8 L403.26 119.63 L404.85 119.43 L406.43 119.19 L408.02 118.93 L409.61 118.67 L411.19 118.4 L412.78 118.13 L414.36 117.87 L415.95 117.61 L417.54 117.35 L419.12 117.08 L420.71 116.82 L422.29 116.55 L423.88 116.28 L425.46 116.01 L427.05 115.73 L428.64 115.45 L430.22 115.16 L431.81 114.86 L433.39 114.57 L434.98 114.27 L436.57 113.97 L438.15 113.67 L439.74 113.38 L441.32 113.1 L442.91 112.83 L444.49 112.57 L446.08 112.33 L447.67 112.1 L449.25 111.89 L450.84 111.7 L452.42 111.54 L454.01 111.4 L455.6 111.27 L457.18 111.16 L458.77 111.06 L460.35 110.98 L461.94 110.9 L463.53 110.84 L465.11 110.77 L466.7 110.72 L468.28 110.66 L469.87 110.6 L471.45 110.55 L473.04 110.49 L474.63 110.42 L476.21 110.35 L477.8 110.28 L479.38 110.2 L480.97 110.12 L482.56 110.02 L484.14 109.93 L485.73 109.82 L487.31 109.7 L488.9 109.58 L490.48 109.45 L492.07 109.3 L493.66 109.15 L495.24 108.98 L496.83 108.8 L498.41 108.61 L500 108.4" fill="none" stroke="#f5106e" stroke-width="1.1"/>
<rect x="341.9" y="20.5" width="2.2" height="2.2" fill="#f5106e"/>
<rect x="358.9" y="76.5" width="2.2" height="2.2" fill="#f5106e"/>
<rect x="375.4" y="108.6" width="2.2" height="2.2" fill="#f5106e"/>
<rect x="408.5" y="116.2" width="2.2" height="2.2" fill="#f5106e"/>
<rect x="428.5" y="115.3" width="2.2" height="2.2" fill="#f5106e"/>
<rect x="448.9" y="109.6" width="2.2" height="2.2" fill="#f5106e"/>
<rect x="468.7" y="109.6" width="2.2" height="2.2" fill="#f5106e"/>
<rect x="485.2" y="109.6" width="2.2" height="2.2" fill="#f5106e"/>
<rect x="498.5" y="107.3" width="2.2" height="2.2" fill="#f5106e"/>
<line x1="328.4" y1="10.2" x2="328.4" y2="156.9" stroke="#404040" stroke-width="1" />
<line x1="327.9" y1="156.4" x2="509.2" y2="156.4" stroke="#404040" stroke-width="1" />
<rect x="326.9" y="141.2" width="3" height="2.6" fill="#fff"/>
<line x1="325.4" y1="142.7" x2="331.4" y2="140.1" stroke="#404040" stroke-width="0.8" />
<line x1="325.4" y1="145.1" x2="331.4" y2="142.5" stroke="#404040" stroke-width="0.8" />
<line x1="325.2" y1="128.02" x2="328.4" y2="128.02" stroke="#404040" stroke-width="0.8" />
<text x="323.1" y="130.92" font-family='"Liberation Sans", sans-serif' font-size="8.2" text-anchor="end" fill="#1a1a1a" >510</text>
<line x1="326.6" y1="114.96" x2="328.4" y2="114.96" stroke="#404040" stroke-width="0.8" />
<line x1="325.2" y1="101.9" x2="328.4" y2="101.9" stroke="#404040" stroke-width="0.8" />
<text x="323.1" y="104.8" font-family='"Liberation Sans", sans-serif' font-size="8.2" text-anchor="end" fill="#1a1a1a" >530</text>
<line x1="326.6" y1="88.84" x2="328.4" y2="88.84" stroke="#404040" stroke-width="0.8" />
<line x1="325.2" y1="75.78" x2="328.4" y2="75.78" stroke="#404040" stroke-width="0.8" />
<text x="323.1" y="78.68" font-family='"Liberation Sans", sans-serif' font-size="8.2" text-anchor="end" fill="#1a1a1a" >550</text>
<line x1="326.6" y1="62.72" x2="328.4" y2="62.72" stroke="#404040" stroke-width="0.8" />
<line x1="325.2" y1="49.66" x2="328.4" y2="49.66" stroke="#404040" stroke-width="0.8" />
<text x="323.1" y="52.56" font-family='"Liberation Sans", sans-serif' font-size="8.2" text-anchor="end" fill="#1a1a1a" >570</text>
<line x1="326.6" y1="36.6" x2="328.4" y2="36.6" stroke="#404040" stroke-width="0.8" />
<line x1="325.2" y1="23.54" x2="328.4" y2="23.54" stroke="#404040" stroke-width="0.8" />
<text x="323.1" y="26.44" font-family='"Liberation Sans", sans-serif' font-size="8.2" text-anchor="end" fill="#1a1a1a" >590</text>
<line x1="325.2" y1="150.2" x2="328.4" y2="150.2" stroke="#404040" stroke-width="0.8" />
<text x="323.1" y="153.1" font-family='"Liberation Sans", sans-serif' font-size="8.2" text-anchor="end" fill="#1a1a1a" >280</text>
<line x1="331.8" y1="156.4" x2="331.8" y2="158.2" stroke="#404040" stroke-width="0.8" />
<line x1="340.1" y1="156.4" x2="340.1" y2="159.6" stroke="#404040" stroke-width="0.8" />
<text x="340.1" y="168" font-family='"Liberation Sans", sans-serif' font-size="8.2" text-anchor="middle" fill="#1a1a1a" >2</text>
<line x1="348.41" y1="156.4" x2="348.41" y2="158.2" stroke="#404040" stroke-width="0.8" />
<line x1="356.71" y1="156.4" x2="356.71" y2="159.6" stroke="#404040" stroke-width="0.8" />
<text x="356.71" y="168" font-family='"Liberation Sans", sans-serif' font-size="8.2" text-anchor="middle" fill="#1a1a1a" >3</text>
<line x1="365.02" y1="156.4" x2="365.02" y2="158.2" stroke="#404040" stroke-width="0.8" />
<line x1="373.32" y1="156.4" x2="373.32" y2="159.6" stroke="#404040" stroke-width="0.8" />
<text x="373.32" y="168" font-family='"Liberation Sans", sans-serif' font-size="8.2" text-anchor="middle" fill="#1a1a1a" >4</text>
<line x1="381.62" y1="156.4" x2="381.62" y2="158.2" stroke="#404040" stroke-width="0.8" />
<line x1="389.93" y1="156.4" x2="389.93" y2="159.6" stroke="#404040" stroke-width="0.8" />
<text x="389.93" y="168" font-family='"Liberation Sans", sans-serif' font-size="8.2" text-anchor="middle" fill="#1a1a1a" >5</text>
<line x1="398.24" y1="156.4" x2="398.24" y2="158.2" stroke="#404040" stroke-width="0.8" />
<line x1="406.54" y1="156.4" x2="406.54" y2="159.6" stroke="#404040" stroke-width="0.8" />
<text x="406.54" y="168" font-family='"Liberation Sans", sans-serif' font-size="8.2" text-anchor="middle" fill="#1a1a1a" >6</text>
<line x1="414.85" y1="156.4" x2="414.85" y2="158.2" stroke="#404040" stroke-width="0.8" />
<line x1="423.15" y1="156.4" x2="423.15" y2="159.6" stroke="#404040" stroke-width="0.8" />
<text x="423.15" y="168" font-family='"Liberation Sans", sans-serif' font-size="8.2" text-anchor="middle" fill="#1a1a1a" >7</text>
<line x1="431.46" y1="156.4" x2="431.46" y2="158.2" stroke="#404040" stroke-width="0.8" />
<line x1="439.76" y1="156.4" x2="439.76" y2="159.6" stroke="#404040" stroke-width="0.8" />
<text x="439.76" y="168" font-family='"Liberation Sans", sans-serif' font-size="8.2" text-anchor="middle" fill="#1a1a1a" >8</text>
<line x1="448.07" y1="156.4" x2="448.07" y2="158.2" stroke="#404040" stroke-width="0.8" />
<line x1="456.37" y1="156.4" x2="456.37" y2="159.6" stroke="#404040" stroke-width="0.8" />
<text x="456.37" y="168" font-family='"Liberation Sans", sans-serif' font-size="8.2" text-anchor="middle" fill="#1a1a1a" >9</text>
<line x1="464.68" y1="156.4" x2="464.68" y2="158.2" stroke="#404040" stroke-width="0.8" />
<line x1="472.98" y1="156.4" x2="472.98" y2="159.6" stroke="#404040" stroke-width="0.8" />
<text x="472.98" y="168" font-family='"Liberation Sans", sans-serif' font-size="8.2" text-anchor="middle" fill="#1a1a1a" >10</text>
<line x1="481.29" y1="156.4" x2="481.29" y2="158.2" stroke="#404040" stroke-width="0.8" />
<line x1="489.59" y1="156.4" x2="489.59" y2="159.6" stroke="#404040" stroke-width="0.8" />
<text x="489.59" y="168" font-family='"Liberation Sans", sans-serif' font-size="8.2" text-anchor="middle" fill="#1a1a1a" >11</text>
<line x1="497.89" y1="156.4" x2="497.89" y2="158.2" stroke="#404040" stroke-width="0.8" />
<line x1="506.2" y1="156.4" x2="506.2" y2="159.6" stroke="#404040" stroke-width="0.8" />
<text x="506.2" y="168" font-family='"Liberation Sans", sans-serif' font-size="8.2" text-anchor="middle" fill="#1a1a1a" >12</text>
<text x="419" y="183.9" font-family='"Liberation Sans", sans-serif' font-size="10" text-anchor="middle" fill="#1a1a1a" >pH</text>
<text transform="translate(300.4,102.8) rotate(-90)" font-family='"Liberation Sans", sans-serif' font-size="10.4" text-anchor="start" fill="#1a1a1a">λ<tspan dy="2.4" font-size="7.2">max</tspan><tspan dy="-2.4">, nm</tspan></text>
<text x="417.6" y="199.6" font-family='"Liberation Serif", serif' font-size="11.4" text-anchor="middle" fill="#111" font-weight="bold" >(d)</text>
<line x1="449.4" y1="9.8" x2="468" y2="9.8" stroke="#6cf26c" stroke-width="1" />
<rect x="457.8" y="8.9" width="1.8" height="1.8" fill="#6cf26c"/>
<text x="470.6" y="12.8" font-family='"Liberation Sans", sans-serif' font-size="8.3" fill="#1a1a1a">HEWL 7x10<tspan dy="-2.8" font-size="5.2">4</tspan><tspan dy="2.8"> nM</tspan></text>
<line x1="449.4" y1="20" x2="468" y2="20" stroke="#f5106e" stroke-width="1.1" />
<text x="470.6" y="22.9" font-family='"Liberation Sans", sans-serif' font-size="8.3" text-anchor="start" fill="#1a1a1a" >AuNPs 2.2 nM</text>
<line x1="449.4" y1="31.4" x2="468" y2="31.4" stroke="#b470f5" stroke-width="1" />
<text x="470.6" y="33.9" font-family='"Liberation Sans", sans-serif' font-size="8.3" fill="#1a1a1a">HEWL (7x10<tspan dy="-2.8" font-size="5.2">4</tspan><tspan dy="2.8"> nM)</tspan><tspan dx="4.6">+</tspan></text>
<text x="449.4" y="44.2" font-family='"Liberation Sans", sans-serif' font-size="8.3" text-anchor="start" fill="#1a1a1a" >AuNPs (2.2 nM)</text>
</g>
<g id="panel-e">
<path d="M176.6 243.7 L178.25 243.29 L179.9 242.89 L181.56 242.49 L183.21 242.09 L184.86 241.69 L186.51 241.29 L188.16 240.9 L189.81 240.51 L191.47 240.11 L193.12 239.72 L194.77 239.32 L196.42 238.92 L198.07 238.52 L199.72 238.11 L201.38 237.71 L203.03 237.29 L204.68 236.88 L206.33 236.45 L207.98 236.02 L209.63 235.59 L211.29 235.14 L212.94 234.69 L214.59 234.24 L216.24 233.77 L217.89 233.3 L219.54 232.82 L221.2 232.34 L222.85 231.87 L224.5 231.4 L226.15 230.93 L227.8 230.47 L229.45 230.02 L231.11 229.58 L232.76 229.16 L234.41 228.75 L236.06 228.35 L237.71 227.96 L239.36 227.59 L241.02 227.22 L242.67 226.86 L244.32 226.51 L245.97 226.16 L247.62 225.81 L249.27 225.47 L250.93 225.12 L252.58 224.78 L254.23 224.45 L255.88 224.13 L257.53 223.82 L259.18 223.53 L260.84 223.27 L262.49 223.03 L264.14 222.83 L265.79 222.65 L267.44 222.5 L269.09 222.38 L270.75 222.29 L272.4 222.23 L274.05 222.2 L275.7 222.2 L277.35 222.23 L279 222.28 L280.66 222.36 L282.31 222.47 L283.96 222.6 L285.61 222.74 L287.26 222.91 L288.91 223.1 L290.57 223.31 L292.22 223.53 L293.87 223.78 L295.52 224.05 L297.17 224.35 L298.82 224.68 L300.48 225.06 L302.13 225.48 L303.78 225.95 L305.43 226.48 L307.08 227.06 L308.73 227.71 L310.39 228.42 L312.04 229.22 L313.69 230.11 L315.34 231.08 L316.99 232.16 L318.64 233.34 L320.3 234.64 L321.95 236.06 L323.6 237.6" fill="none" stroke="#6cf26c" stroke-width="1.1"/>
<path d="M175.3 254.6 L177.05 252.39 L178.8 250.4 L180.56 248.63 L182.31 247.04 L184.06 245.63 L185.81 244.37 L187.56 243.25 L189.31 242.25 L191.07 241.35 L192.82 240.54 L194.57 239.81 L196.32 239.15 L198.07 238.55 L199.82 238 L201.58 237.49 L203.33 237.01 L205.08 236.56 L206.83 236.13 L208.58 235.72 L210.33 235.34 L212.09 234.98 L213.84 234.63 L215.59 234.3 L217.34 233.99 L219.09 233.69 L220.84 233.41 L222.6 233.14 L224.35 232.88 L226.1 232.64 L227.85 232.4 L229.6 232.17 L231.35 231.95 L233.11 231.74 L234.86 231.54 L236.61 231.34 L238.36 231.14 L240.11 230.95 L241.86 230.76 L243.62 230.57 L245.37 230.37 L247.12 230.18 L248.87 229.98 L250.62 229.78 L252.37 229.58 L254.13 229.37 L255.88 229.15 L257.63 228.94 L259.38 228.72 L261.13 228.51 L262.88 228.29 L264.64 228.08 L266.39 227.88 L268.14 227.7 L269.89 227.55 L271.64 227.42 L273.39 227.34 L275.15 227.3 L276.9 227.32 L278.65 227.38 L280.4 227.5 L282.15 227.67 L283.9 227.88 L285.66 228.14 L287.41 228.45 L289.16 228.8 L290.91 229.22 L292.66 229.7 L294.41 230.24 L296.17 230.87 L297.92 231.58 L299.67 232.38 L301.42 233.28 L303.17 234.3 L304.92 235.45 L306.68 236.75 L308.43 238.21 L310.18 239.86 L311.93 241.71 L313.68 243.81 L315.43 246.17 L317.19 248.84 L318.94 251.8 L320.69 255.05 L322.44 258.55 L324.19 262.29 L325.94 266.26 L327.7 270.43 L329.45 274.78 L331.2 279.3" fill="none" stroke="#b470f5" stroke-width="1.1"/>
<rect x="176.01" y="247.95" width="2" height="2" fill="#6cf26c"/>
<rect x="184.83" y="236.87" width="2" height="2" fill="#6cf26c"/>
<rect x="195.11" y="234.66" width="2" height="2" fill="#6cf26c"/>
<rect x="205.39" y="233.55" width="2" height="2" fill="#6cf26c"/>
<rect x="212.74" y="230.22" width="2" height="2" fill="#6cf26c"/>
<rect x="221.55" y="231.33" width="2" height="2" fill="#6cf26c"/>
<rect x="230.37" y="226.9" width="2" height="2" fill="#6cf26c"/>
<rect x="237.71" y="226.9" width="2" height="2" fill="#6cf26c"/>
<rect x="248" y="226.9" width="2" height="2" fill="#6cf26c"/>
<rect x="258.28" y="224.68" width="2" height="2" fill="#6cf26c"/>
<rect x="265.62" y="226.9" width="2" height="2" fill="#6cf26c"/>
<rect x="274.44" y="224.68" width="2" height="2" fill="#6cf26c"/>
<rect x="283.25" y="222.47" width="2" height="2" fill="#6cf26c"/>
<rect x="293.53" y="221.36" width="2" height="2" fill="#6cf26c"/>
<rect x="305.29" y="220.25" width="2" height="2" fill="#6cf26c"/>
<rect x="314.1" y="224.68" width="2" height="2" fill="#6cf26c"/>
<rect x="322.91" y="244.63" width="2" height="2" fill="#6cf26c"/>
<rect x="174.54" y="253.49" width="2" height="2" fill="#b470f5"/>
<rect x="184.83" y="242.41" width="2" height="2" fill="#b470f5"/>
<rect x="192.17" y="242.41" width="2" height="2" fill="#b470f5"/>
<rect x="202.46" y="245.74" width="2" height="2" fill="#b470f5"/>
<rect x="212.74" y="230.22" width="2" height="2" fill="#b470f5"/>
<rect x="223.02" y="230.22" width="2" height="2" fill="#b470f5"/>
<rect x="230.37" y="228.01" width="2" height="2" fill="#b470f5"/>
<rect x="237.71" y="228.01" width="2" height="2" fill="#b470f5"/>
<rect x="246.53" y="226.9" width="2" height="2" fill="#b470f5"/>
<rect x="256.81" y="226.9" width="2" height="2" fill="#b470f5"/>
<rect x="264.15" y="233.55" width="2" height="2" fill="#b470f5"/>
<rect x="286.19" y="232.44" width="2" height="2" fill="#b470f5"/>
<rect x="292.06" y="232.44" width="2" height="2" fill="#b470f5"/>
<rect x="300.88" y="234.66" width="2" height="2" fill="#b470f5"/>
<rect x="309.69" y="237.98" width="2" height="2" fill="#b470f5"/>
<rect x="317.04" y="240.2" width="2" height="2" fill="#b470f5"/>
<rect x="325.85" y="260.14" width="2" height="2" fill="#b470f5"/>
<path d="M175.3 326 L177.05 325.57 L178.8 325.16 L180.56 324.77 L182.31 324.4 L184.06 324.06 L185.81 323.73 L187.56 323.43 L189.31 323.15 L191.07 322.9 L192.82 322.66 L194.57 322.45 L196.32 322.27 L198.07 322.11 L199.82 321.96 L201.58 321.84 L203.33 321.74 L205.08 321.65 L206.83 321.58 L208.58 321.52 L210.33 321.47 L212.09 321.43 L213.84 321.41 L215.59 321.4 L217.34 321.4 L219.09 321.41 L220.84 321.43 L222.6 321.46 L224.35 321.5 L226.1 321.56 L227.85 321.62 L229.6 321.69 L231.35 321.78 L233.11 321.87 L234.86 321.97 L236.61 322.09 L238.36 322.22 L240.11 322.38 L241.86 322.55 L243.62 322.74 L245.37 322.96 L247.12 323.2 L248.87 323.48 L250.62 323.78 L252.37 324.12 L254.13 324.47 L255.88 324.84 L257.63 325.23 L259.38 325.62 L261.13 326.01 L262.88 326.39 L264.64 326.77 L266.39 327.16 L268.14 327.55 L269.89 327.97 L271.64 328.42 L273.39 328.9 L275.15 329.4 L276.9 329.91 L278.65 330.43 L280.4 330.95 L282.15 331.47 L283.9 331.98 L285.66 332.47 L287.41 332.95 L289.16 333.4 L290.91 333.84 L292.66 334.26 L294.41 334.66 L296.17 335.05 L297.92 335.43 L299.67 335.79 L301.42 336.14 L303.17 336.49 L304.92 336.81 L306.68 337.12 L308.43 337.42 L310.18 337.69 L311.93 337.93 L313.68 338.15 L315.43 338.34 L317.19 338.51 L318.94 338.65 L320.69 338.8 L322.44 338.97 L324.19 339.2 L325.94 339.49 L327.7 339.87 L329.45 340.37 L331.2 341" fill="none" stroke="#b470f5" stroke-width="1.1"/>
<path d="M186 345.8 L187.55 344.75 L189.09 343.69 L190.64 342.64 L192.18 341.58 L193.73 340.51 L195.28 339.43 L196.82 338.33 L198.37 337.22 L199.91 336.09 L201.46 334.93 L203.01 333.74 L204.55 332.54 L206.1 331.33 L207.64 330.12 L209.19 328.92 L210.74 327.72 L212.28 326.54 L213.83 325.39 L215.38 324.27 L216.92 323.19 L218.47 322.15 L220.01 321.15 L221.56 320.2 L223.11 319.3 L224.65 318.45 L226.2 317.65 L227.74 316.91 L229.29 316.22 L230.84 315.59 L232.38 315.02 L233.93 314.5 L235.47 314.04 L237.02 313.64 L238.57 313.29 L240.11 312.98 L241.66 312.71 L243.2 312.47 L244.75 312.27 L246.3 312.09 L247.84 311.93 L249.39 311.81 L250.93 311.73 L252.48 311.7 L254.03 311.71 L255.57 311.78 L257.12 311.89 L258.67 312.05 L260.21 312.26 L261.76 312.5 L263.3 312.79 L264.85 313.12 L266.4 313.48 L267.94 313.87 L269.49 314.3 L271.03 314.75 L272.58 315.22 L274.13 315.71 L275.67 316.22 L277.22 316.73 L278.76 317.25 L280.31 317.77 L281.86 318.29 L283.4 318.8 L284.95 319.31 L286.49 319.82 L288.04 320.33 L289.59 320.84 L291.13 321.36 L292.68 321.89 L294.22 322.42 L295.77 322.96 L297.32 323.51 L298.86 324.06 L300.41 324.61 L301.96 325.14 L303.5 325.64 L305.05 326.12 L306.59 326.56 L308.14 326.97 L309.69 327.34 L311.23 327.67 L312.78 327.96 L314.32 328.22 L315.87 328.45 L317.42 328.65 L318.96 328.84 L320.51 329 L322.05 329.15 L323.6 329.3" fill="none" stroke="#f5106e" stroke-width="1.25"/>
<rect x="174.3" y="325" width="2" height="2" fill="#b470f5"/>
<rect x="185" y="322.2" width="2" height="2" fill="#b470f5"/>
<rect x="192.3" y="321.4" width="2" height="2" fill="#b470f5"/>
<rect x="202.5" y="321.6" width="2" height="2" fill="#b470f5"/>
<rect x="213" y="321.6" width="2" height="2" fill="#b470f5"/>
<rect x="223.5" y="320.2" width="2" height="2" fill="#b470f5"/>
<rect x="231.5" y="319.8" width="2" height="2" fill="#b470f5"/>
<rect x="240" y="320.4" width="2" height="2" fill="#b470f5"/>
<rect x="248.6" y="322" width="2" height="2" fill="#b470f5"/>
<rect x="259.5" y="324" width="2" height="2" fill="#b470f5"/>
<rect x="264" y="331.6" width="2" height="2" fill="#b470f5"/>
<rect x="286" y="331.4" width="2" height="2" fill="#b470f5"/>
<rect x="292" y="333" width="2" height="2" fill="#b470f5"/>
<rect x="301" y="335.8" width="2" height="2" fill="#b470f5"/>
<rect x="309.6" y="336.2" width="2" height="2" fill="#b470f5"/>
<rect x="317" y="335.4" width="2" height="2" fill="#b470f5"/>
<rect x="326" y="338" width="2" height="2" fill="#b470f5"/>
<rect x="330.2" y="340.6" width="2" height="2" fill="#b470f5"/>
<rect x="184.9" y="344.7" width="2.2" height="2.2" fill="#f5106e"/>
<rect x="199.6" y="336.3" width="2.2" height="2.2" fill="#f5106e"/>
<rect x="214.1" y="323.1" width="2.2" height="2.2" fill="#f5106e"/>
<rect x="243.4" y="310.9" width="2.2" height="2.2" fill="#f5106e"/>
<rect x="261.2" y="313.1" width="2.2" height="2.2" fill="#f5106e"/>
<rect x="278.7" y="316.7" width="2.2" height="2.2" fill="#f5106e"/>
<rect x="296.4" y="321.3" width="2.2" height="2.2" fill="#f5106e"/>
<rect x="310.9" y="326.5" width="2.2" height="2.2" fill="#f5106e"/>
<rect x="322.5" y="328.5" width="2.2" height="2.2" fill="#f5106e"/>
<line x1="160.8" y1="216.5" x2="160.8" y2="366.3" stroke="#404040" stroke-width="1" />
<line x1="160.3" y1="365.8" x2="344.6" y2="365.8" stroke="#404040" stroke-width="1" />
<rect x="159.3" y="286.6" width="3" height="2.8" fill="#fff"/>
<line x1="157.8" y1="288.2" x2="163.8" y2="285.6" stroke="#404040" stroke-width="0.8" />
<line x1="157.8" y1="290.8" x2="163.8" y2="288.2" stroke="#404040" stroke-width="0.8" />
<line x1="157.6" y1="272.22" x2="160.8" y2="272.22" stroke="#404040" stroke-width="0.8" />
<text x="155.5" y="275.12" font-family='"Liberation Sans", sans-serif' font-size="8.2" text-anchor="end" fill="#1a1a1a" >2.2</text>
<line x1="159" y1="261.14" x2="160.8" y2="261.14" stroke="#404040" stroke-width="0.8" />
<line x1="157.6" y1="250.06" x2="160.8" y2="250.06" stroke="#404040" stroke-width="0.8" />
<text x="155.5" y="252.96" font-family='"Liberation Sans", sans-serif' font-size="8.2" text-anchor="end" fill="#1a1a1a" >2.4</text>
<line x1="159" y1="238.98" x2="160.8" y2="238.98" stroke="#404040" stroke-width="0.8" />
<line x1="157.6" y1="227.9" x2="160.8" y2="227.9" stroke="#404040" stroke-width="0.8" />
<text x="155.5" y="230.8" font-family='"Liberation Sans", sans-serif' font-size="8.2" text-anchor="end" fill="#1a1a1a" >2.6</text>
<line x1="159" y1="216.82" x2="160.8" y2="216.82" stroke="#404040" stroke-width="0.8" />
<line x1="157.6" y1="365.8" x2="160.8" y2="365.8" stroke="#404040" stroke-width="0.8" />
<text x="155.5" y="368.7" font-family='"Liberation Sans", sans-serif' font-size="8.2" text-anchor="end" fill="#1a1a1a" >0.0</text>
<line x1="159" y1="354.73" x2="160.8" y2="354.73" stroke="#404040" stroke-width="0.8" />
<line x1="157.6" y1="343.66" x2="160.8" y2="343.66" stroke="#404040" stroke-width="0.8" />
<text x="155.5" y="346.56" font-family='"Liberation Sans", sans-serif' font-size="8.2" text-anchor="end" fill="#1a1a1a" >0.2</text>
<line x1="159" y1="332.59" x2="160.8" y2="332.59" stroke="#404040" stroke-width="0.8" />
<line x1="157.6" y1="321.52" x2="160.8" y2="321.52" stroke="#404040" stroke-width="0.8" />
<text x="155.5" y="324.42" font-family='"Liberation Sans", sans-serif' font-size="8.2" text-anchor="end" fill="#1a1a1a" >0.4</text>
<line x1="159" y1="310.45" x2="160.8" y2="310.45" stroke="#404040" stroke-width="0.8" />
<line x1="157.6" y1="299.38" x2="160.8" y2="299.38" stroke="#404040" stroke-width="0.8" />
<text x="155.5" y="302.28" font-family='"Liberation Sans", sans-serif' font-size="8.2" text-anchor="end" fill="#1a1a1a" >0.6</text>
<line x1="168.2" y1="365.8" x2="168.2" y2="369" stroke="#404040" stroke-width="0.8" />
<text x="168.2" y="376.8" font-family='"Liberation Sans", sans-serif' font-size="8.2" text-anchor="middle" fill="#1a1a1a" >1</text>
<line x1="175.54" y1="365.8" x2="175.54" y2="367.6" stroke="#404040" stroke-width="0.8" />
<line x1="182.89" y1="365.8" x2="182.89" y2="369" stroke="#404040" stroke-width="0.8" />
<text x="182.89" y="376.8" font-family='"Liberation Sans", sans-serif' font-size="8.2" text-anchor="middle" fill="#1a1a1a" >2</text>
<line x1="190.23" y1="365.8" x2="190.23" y2="367.6" stroke="#404040" stroke-width="0.8" />
<line x1="197.58" y1="365.8" x2="197.58" y2="369" stroke="#404040" stroke-width="0.8" />
<text x="197.58" y="376.8" font-family='"Liberation Sans", sans-serif' font-size="8.2" text-anchor="middle" fill="#1a1a1a" >3</text>
<line x1="204.92" y1="365.8" x2="204.92" y2="367.6" stroke="#404040" stroke-width="0.8" />
<line x1="212.27" y1="365.8" x2="212.27" y2="369" stroke="#404040" stroke-width="0.8" />
<text x="212.27" y="376.8" font-family='"Liberation Sans", sans-serif' font-size="8.2" text-anchor="middle" fill="#1a1a1a" >4</text>
<line x1="219.61" y1="365.8" x2="219.61" y2="367.6" stroke="#404040" stroke-width="0.8" />
<line x1="226.96" y1="365.8" x2="226.96" y2="369" stroke="#404040" stroke-width="0.8" />
<text x="226.96" y="376.8" font-family='"Liberation Sans", sans-serif' font-size="8.2" text-anchor="middle" fill="#1a1a1a" >5</text>
<line x1="234.31" y1="365.8" x2="234.31" y2="367.6" stroke="#404040" stroke-width="0.8" />
<line x1="241.65" y1="365.8" x2="241.65" y2="369" stroke="#404040" stroke-width="0.8" />
<text x="241.65" y="376.8" font-family='"Liberation Sans", sans-serif' font-size="8.2" text-anchor="middle" fill="#1a1a1a" >6</text>
<line x1="249" y1="365.8" x2="249" y2="367.6" stroke="#404040" stroke-width="0.8" />
<line x1="256.34" y1="365.8" x2="256.34" y2="369" stroke="#404040" stroke-width="0.8" />
<text x="256.34" y="376.8" font-family='"Liberation Sans", sans-serif' font-size="8.2" text-anchor="middle" fill="#1a1a1a" >7</text>
<line x1="263.69" y1="365.8" x2="263.69" y2="367.6" stroke="#404040" stroke-width="0.8" />
<line x1="271.03" y1="365.8" x2="271.03" y2="369" stroke="#404040" stroke-width="0.8" />
<text x="271.03" y="376.8" font-family='"Liberation Sans", sans-serif' font-size="8.2" text-anchor="middle" fill="#1a1a1a" >8</text>
<line x1="278.38" y1="365.8" x2="278.38" y2="367.6" stroke="#404040" stroke-width="0.8" />
<line x1="285.72" y1="365.8" x2="285.72" y2="369" stroke="#404040" stroke-width="0.8" />
<text x="285.72" y="376.8" font-family='"Liberation Sans", sans-serif' font-size="8.2" text-anchor="middle" fill="#1a1a1a" >9</text>
<line x1="293.06" y1="365.8" x2="293.06" y2="367.6" stroke="#404040" stroke-width="0.8" />
<line x1="300.41" y1="365.8" x2="300.41" y2="369" stroke="#404040" stroke-width="0.8" />
<text x="300.41" y="376.8" font-family='"Liberation Sans", sans-serif' font-size="8.2" text-anchor="middle" fill="#1a1a1a" >10</text>
<line x1="307.75" y1="365.8" x2="307.75" y2="367.6" stroke="#404040" stroke-width="0.8" />
<line x1="315.1" y1="365.8" x2="315.1" y2="369" stroke="#404040" stroke-width="0.8" />
<text x="315.1" y="376.8" font-family='"Liberation Sans", sans-serif' font-size="8.2" text-anchor="middle" fill="#1a1a1a" >11</text>
<line x1="322.44" y1="365.8" x2="322.44" y2="367.6" stroke="#404040" stroke-width="0.8" />
<line x1="329.79" y1="365.8" x2="329.79" y2="369" stroke="#404040" stroke-width="0.8" />
<text x="329.79" y="376.8" font-family='"Liberation Sans", sans-serif' font-size="8.2" text-anchor="middle" fill="#1a1a1a" >12</text>
<line x1="337.13" y1="365.8" x2="337.13" y2="367.6" stroke="#404040" stroke-width="0.8" />
<line x1="344.48" y1="365.8" x2="344.48" y2="369" stroke="#404040" stroke-width="0.8" />
<text x="344.48" y="376.8" font-family='"Liberation Sans", sans-serif' font-size="8.2" text-anchor="middle" fill="#1a1a1a" >13</text>
<text x="252.4" y="392.6" font-family='"Liberation Sans", sans-serif' font-size="10" text-anchor="middle" fill="#1a1a1a" >pH</text>
<text transform="translate(137.4,308) rotate(-90)" font-family='"Liberation Sans", sans-serif' font-size="10.4" text-anchor="start" fill="#1a1a1a">OD<tspan dx="3.4" dy="2.9" font-size="7.2">max</tspan></text>
<text x="273" y="408.6" font-family='"Liberation Serif", serif' font-size="11.2" text-anchor="middle" fill="#111" font-weight="bold" >(e)</text>
<line x1="336.3" y1="224.4" x2="353.6" y2="224.4" stroke="#6cf26c" stroke-width="1" />
<text x="356.7" y="227.3" font-family='"Liberation Sans", sans-serif' font-size="8.3" fill="#1a1a1a">HEWL 7x10<tspan dy="-2.8" font-size="5.2">4</tspan></text>
<line x1="336.3" y1="234.9" x2="353.6" y2="234.9" stroke="#f5106e" stroke-width="1.1" />
<text x="356.7" y="237.8" font-family='"Liberation Sans", sans-serif' font-size="8.3" text-anchor="start" fill="#1a1a1a" >AuNPs 2.2 nM</text>
<line x1="336.3" y1="245.2" x2="353.6" y2="245.2" stroke="#b470f5" stroke-width="1" />
<text x="356.7" y="248.1" font-family='"Liberation Sans", sans-serif' font-size="8.3" fill="#1a1a1a">HEWL (7x10<tspan dy="-2.8" font-size="5.2">4</tspan><tspan dy="2.8">) +</tspan></text>
<text x="336.3" y="258.8" font-family='"Liberation Sans", sans-serif' font-size="8.3" text-anchor="start" fill="#1a1a1a" >AuNPs (2.2 nM)</text>
</g>
</svg>
</body>
</html>
